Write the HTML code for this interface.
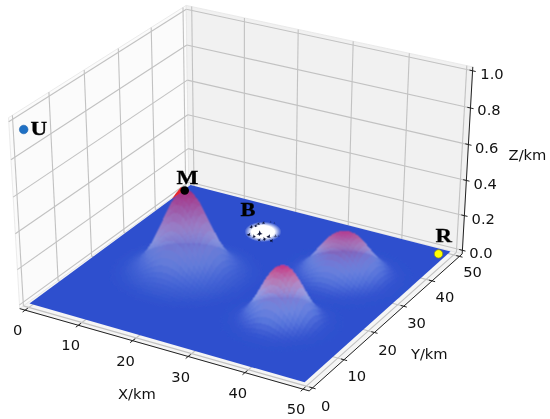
<!DOCTYPE html>
<html><head><meta charset="utf-8"><title>3D terrain</title>
<style>html,body{margin:0;padding:0;background:#fff}svg{display:block}</style></head>
<body>
<svg width="550" height="419" viewBox="0 0 550 419">
<rect width="550" height="419" fill="#fff"/>
<defs><filter id="sm" x="0" y="0" width="550" height="419" filterUnits="userSpaceOnUse"><feConvolveMatrix order="3" kernelMatrix="1 2 1 2 4 2 1 2 1" divisor="16" edgeMode="none" preserveAlpha="false"/></filter></defs>
<polygon points="19.7,308.6 188.8,185.5 186.2,5.4 8.5,117.7" fill="#fbfbfb" stroke="#e6e6e6" stroke-width="0.8"/>
<polygon points="188.8,185.5 462.2,253.9 472.8,66.9 186.2,5.4" fill="#f1f1f1" stroke="#e6e6e6" stroke-width="0.8"/>
<polygon points="19.7,308.6 309.2,390.9 462.2,253.9 188.8,185.5" fill="#f5f5f5" stroke="#e6e6e6" stroke-width="0.8"/>
<g stroke="#c2c2c2" stroke-width="1.1" fill="none"><line x1="25.2" y1="310.1" x2="194" y2="186.8" /><line x1="194" y1="186.8" x2="191.7" y2="6.6" /><line x1="23.4" y1="305.9" x2="312.5" y2="387.9" /><line x1="23.4" y1="305.9" x2="12.4" y2="115.2" /><line x1="78.3" y1="325.2" x2="244.3" y2="199.4" /><line x1="244.3" y1="199.4" x2="244.4" y2="17.9" /><line x1="58.1" y1="280.7" x2="344" y2="359.7" /><line x1="58.1" y1="280.7" x2="48.9" y2="92.1" /><line x1="132.6" y1="340.7" x2="295.7" y2="212.2" /><line x1="295.7" y1="212.2" x2="298.2" y2="29.4" /><line x1="91.6" y1="256.3" x2="374.4" y2="332.5" /><line x1="91.6" y1="256.3" x2="84.2" y2="69.9" /><line x1="188.2" y1="356.5" x2="348.2" y2="225.4" /><line x1="348.2" y1="225.4" x2="353.2" y2="41.2" /><line x1="124" y1="232.7" x2="403.7" y2="306.3" /><line x1="124" y1="232.7" x2="118.3" y2="48.4" /><line x1="245" y1="372.6" x2="401.8" y2="238.8" /><line x1="401.8" y1="238.8" x2="409.3" y2="53.3" /><line x1="155.3" y1="209.8" x2="432" y2="280.9" /><line x1="155.3" y1="209.8" x2="151.2" y2="27.6" /><line x1="303" y1="389.2" x2="456.4" y2="252.4" /><line x1="456.4" y1="252.4" x2="466.8" y2="65.6" /><line x1="185.7" y1="187.7" x2="459.4" y2="256.4" /><line x1="185.7" y1="187.7" x2="183" y2="7.5" /><line x1="19.5" y1="304.9" x2="188.7" y2="182" /><line x1="188.7" y1="182" x2="462.4" y2="250.3" /><line x1="17.4" y1="269.6" x2="188.2" y2="148.6" /><line x1="188.2" y1="148.6" x2="464.4" y2="215.7" /><line x1="15.3" y1="233.7" x2="187.8" y2="114.7" /><line x1="187.8" y1="114.7" x2="466.4" y2="180.5" /><line x1="13.1" y1="197.1" x2="187.3" y2="80.1" /><line x1="187.3" y1="80.1" x2="468.4" y2="144.6" /><line x1="10.9" y1="159.7" x2="186.8" y2="45" /><line x1="186.8" y1="45" x2="470.5" y2="108" /><line x1="8.7" y1="121.7" x2="186.3" y2="9.2" /><line x1="186.3" y1="9.2" x2="472.6" y2="70.8" /></g>
<polygon points="29.5,303.5 304.6,382.3 450.5,251.5 190.5,185" fill="rgb(46,79,206)"/>
<g filter="url(#sm)"><g transform="scale(.1)" shape-rendering="crispEdges" fill-opacity="0.47"><path d="M1906 2388l31 7l19-12l-31-7" fill="#3152cf"/><path d="M1775 2392l31 6l19-11l-31-7" fill="#3152cf"/><path d="M1856 2393l31 7l19-12l-31-7" fill="#3152cf"/><path d="M1725 2398l31 6l19-12l-31-7" fill="#3152cf"/><path d="M1937 2395l32 7l18-11l-31-8" fill="#3152cf"/><path d="M1806 2398l32 6l18-11l-31-6" fill="#3253cf"/><path d="M2018 2398l32 7l18-11l-31-8" fill="#3152cf"/><path d="M1675 2404l31 5l19-11l-31-7" fill="#3152cf"/><path d="M1887 2400l32 6l18-11l-31-7" fill="#3253cf"/><path d="M1756 2404l32 5l18-11l-31-6" fill="#3253cf"/><path d="M1625 2410l31 5l19-11l-31-7" fill="#3152cf"/><path d="M1969 2402l31 6l18-10l-31-7" fill="#3253cf"/><path d="M1838 2404l31 5l18-9l-31-7" fill="#3354cf"/><path d="M2050 2405l31 7l19-11l-32-7" fill="#3152cf"/><path d="M1706 2409l32 5l18-10l-31-6" fill="#3254cf"/><path d="M1575 2416l31 6l19-12l-31-7" fill="#3152cf"/><path d="M1919 2406l31 6l19-10l-32-7" fill="#3354cf"/><path d="M1788 2409l31 5l19-10l-32-6" fill="#3455cf"/><path d="M1656 2415l32 5l18-11l-31-5" fill="#3354cf"/><path d="M2000 2408l31 7l19-10l-32-7" fill="#3254cf"/><path d="M1525 2423l31 6l19-13l-31-6" fill="#3152cf"/><path d="M2081 2412l32 8l18-11l-31-8" fill="#3253cf"/><path d="M1869 2409l31 6l19-9l-32-6" fill="#3455d0"/><path d="M1738 2414l31 4l19-9l-32-5" fill="#3455d0"/><path d="M1606 2422l31 4l19-11l-31-5" fill="#3254cf"/><path d="M1950 2412l31 5l19-9l-31-6" fill="#3455cf"/><path d="M1819 2414l31 4l19-9l-31-5" fill="#3557d0"/><path d="M2031 2415l32 7l18-10l-31-7" fill="#3354cf"/><path d="M1688 2420l31 4l19-10l-32-5" fill="#3456d0"/><path d="M1556 2429l31 4l19-11l-31-6" fill="#3253cf"/><path d="M2113 2420l31 7l18-10l-31-8" fill="#3253cf"/><path d="M1900 2415l31 4l19-7l-31-6" fill="#3557d0"/><path d="M1769 2418l31 4l19-8l-31-5" fill="#3657d0"/><path d="M1506 2436l31 5l19-12l-31-6" fill="#3153cf"/><path d="M1637 2426l32 4l19-10l-32-5" fill="#3456d0"/><path d="M1981 2417l32 6l18-8l-31-7" fill="#3556d0"/><path d="M2063 2422l31 7l19-9l-32-8" fill="#3455cf"/><path d="M1850 2418l31 4l19-7l-31-6" fill="#3758d0"/><path d="M1456 2443l31 5l19-12l-31-6" fill="#3152cf"/><path d="M1587 2433l31 4l19-11l-31-4" fill="#3455cf"/><path d="M1719 2424l31 2l19-8l-31-4" fill="#3758d0"/><path d="M2144 2427l31 8l19-10l-32-8" fill="#3253cf"/><path d="M1931 2419l31 5l19-7l-31-5" fill="#3758d0"/><path d="M1537 2441l31 4l19-12l-31-4" fill="#3354cf"/><path d="M1800 2422l31 2l19-6l-31-4" fill="#385ad1"/><path d="M2013 2423l31 6l19-7l-32-7" fill="#3657d0"/><path d="M1669 2430l31 2l19-8l-31-4" fill="#3758d0"/><path d="M2094 2429l31 7l19-9l-31-7" fill="#3455d0"/><path d="M1881 2422l31 3l19-6l-31-4" fill="#395bd1"/><path d="M2175 2435l32 8l18-10l-31-8" fill="#3253cf"/><path d="M1487 2448l31 5l19-12l-31-5" fill="#3254cf"/><path d="M1618 2437l31 2l20-9l-32-4" fill="#3658d0"/><path d="M1750 2426l31 2l19-6l-31-4" fill="#395bd1"/><path d="M1962 2424l32 5l19-6l-32-6" fill="#385ad1"/><path d="M1437 2456l31 5l19-13l-31-5" fill="#3253cf"/><path d="M2044 2429l31 7l19-7l-31-7" fill="#3758d0"/><path d="M1568 2445l31 2l19-10l-31-4" fill="#3657d0"/><path d="M1831 2424l31 2l19-4l-31-4" fill="#3b5dd1"/><path d="M2125 2436l32 8l18-9l-31-8" fill="#3456d0"/><path d="M1700 2432l31 1l19-7l-31-2" fill="#3a5bd1"/><path d="M2207 2443l32 8l18-10l-32-8" fill="#3253cf"/><path d="M1387 2464l31 5l19-13l-31-6" fill="#3152cf"/><path d="M1912 2425l32 3l18-4l-31-5" fill="#3b5dd1"/><path d="M1518 2453l31 2l19-10l-31-4" fill="#3556d0"/><path d="M1649 2439l32 0l19-7l-31-2" fill="#3a5bd1"/><path d="M1994 2429l31 5l19-5l-31-6" fill="#3a5cd1"/><path d="M1781 2428l31 0l19-4l-31-2" fill="#3d5ed2"/><path d="M2075 2436l32 6l18-6l-31-7" fill="#3859d0"/><path d="M1468 2461l31 3l19-11l-31-5" fill="#3355cf"/><path d="M2157 2444l31 7l19-8l-32-8" fill="#3556d0"/><path d="M1599 2447l31 0l19-8l-31-2" fill="#395ad1"/><path d="M1862 2426l31 1l19-2l-31-3" fill="#3e60d2"/><path d="M2239 2451l31 9l18-11l-31-8" fill="#3253cf"/><path d="M1731 2433l31-1l19-4l-31-2" fill="#3d5fd2"/><path d="M1418 2469l31 4l19-12l-31-5" fill="#3254cf"/><path d="M1944 2428l31 3l19-2l-32-5" fill="#3d5fd2"/><path d="M1549 2455l31 1l19-9l-31-2" fill="#3859d0"/><path d="M2025 2434l32 5l18-3l-31-7" fill="#3b5dd1"/><path d="M2107 2442l31 7l19-5l-32-8" fill="#385ad1"/><path d="M1681 2439l31-1l19-5l-31-1" fill="#3e5fd2"/><path d="M1367 2477l31 5l20-13l-31-5" fill="#3152cf"/><path d="M1812 2428l31-1l19-1l-31-2" fill="#4062d3"/><path d="M2188 2451l32 9l19-9l-32-8" fill="#3556d0"/><path d="M1499 2464l31 2l19-11l-31-2" fill="#3658d0"/><path d="M2270 2460l32 9l18-11l-32-9" fill="#3253cf"/><path d="M1893 2427l32 1l19 0l-32-3" fill="#4163d3"/><path d="M1630 2447l31-2l20-6l-32 0" fill="#3d5fd2"/><path d="M1449 2473l31 3l19-12l-31-3" fill="#3556d0"/><path d="M1762 2432l31-3l19-1l-31 0" fill="#4264d3"/><path d="M1975 2431l31 4l19-1l-31-5" fill="#4062d2"/><path d="M2057 2439l31 6l19-3l-32-6" fill="#3c5ed2"/><path d="M2138 2449l32 8l18-6l-31-7" fill="#385ad1"/><path d="M1580 2456l31-2l19-7l-31 0" fill="#3c5dd1"/><path d="M2220 2460l32 9l18-9l-31-9" fill="#3556d0"/><path d="M1398 2482l31 4l20-13l-31-4" fill="#3354cf"/><path d="M2302 2469l31 9l19-11l-32-9" fill="#3253cf"/><path d="M1843 2427l31-1l19 1l-31-1" fill="#4466d4"/><path d="M1712 2438l31-4l19-2l-31 1" fill="#4364d3"/><path d="M1530 2466l31-1l19-9l-31-1" fill="#3a5cd1"/><path d="M1348 2491l31 4l19-13l-31-5" fill="#3253cf"/><path d="M1925 2428l31 1l19 2l-31-3" fill="#4466d4"/><path d="M2006 2435l32 4l19 0l-32-5" fill="#4264d3"/><path d="M1480 2476l31 0l19-10l-31-2" fill="#3859d0"/><path d="M2088 2445l32 7l18-3l-31-7" fill="#3d5fd2"/><path d="M1661 2445l31-5l20-2l-31 1" fill="#4264d3"/><path d="M2170 2457l32 9l18-6l-32-9" fill="#385ad1"/><path d="M2252 2469l31 9l19-9l-32-9" fill="#3456d0"/><path d="M1793 2429l31-3l19 1l-31 1" fill="#4768d5"/><path d="M1298 2499l31 5l19-13l-31-6" fill="#3152cf"/><path d="M2333 2478l32 9l18-12l-31-8" fill="#3153cf"/><path d="M1429 2486l31 1l20-11l-31-3" fill="#3657d0"/><path d="M1611 2454l31-4l19-5l-31 2" fill="#4163d3"/><path d="M1874 2426l32-2l19 4l-32-1" fill="#4869d5"/><path d="M1379 2495l31 3l19-12l-31-4" fill="#3455cf"/><path d="M1743 2434l31-6l19 1l-31 3" fill="#4869d5"/><path d="M1561 2465l31-4l19-7l-31 2" fill="#3f61d2"/><path d="M2202 2466l31 9l19-6l-32-9" fill="#385ad1"/><path d="M1956 2429l32 2l18 4l-31-4" fill="#4768d5"/><path d="M2120 2452l31 7l19-2l-32-8" fill="#3e5fd2"/><path d="M2283 2478l32 9l18-9l-31-9" fill="#3455cf"/><path d="M2038 2439l31 4l19 2l-31-6" fill="#4365d3"/><path d="M2365 2487l32 9l18-12l-32-9" fill="#3152cf"/><path d="M1329 2504l31 5l19-14l-31-4" fill="#3253cf"/><path d="M1511 2476l31-3l19-8l-31 1" fill="#3d5ed2"/><path d="M1692 2440l31-7l20 1l-31 4" fill="#4869d5"/><path d="M1824 2426l31-5l19 5l-31 1" fill="#4c6cd6"/><path d="M1460 2487l31-1l20-10l-31 0" fill="#3a5bd1"/><path d="M1278 2513l31 5l20-14l-31-5" fill="#3152cf"/><path d="M2233 2475l32 9l18-6l-31-9" fill="#3859d0"/><path d="M2315 2487l32 10l18-10l-32-9" fill="#3355cf"/><path d="M1642 2450l31-9l19-1l-31 5" fill="#4768d5"/><path d="M2151 2459l32 9l19-2l-32-9" fill="#3e60d2"/><path d="M1906 2424l31-2l19 7l-31-1" fill="#4c6cd6"/><path d="M1410 2498l31 1l19-12l-31-1" fill="#3759d0"/><path d="M2069 2443l32 6l19 3l-32-7" fill="#4466d4"/><path d="M2397 2496l32 9l18-12l-32-9" fill="#3152cf"/><path d="M1988 2431l31 2l19 6l-32-4" fill="#496ad5"/><path d="M1774 2428l31-8l19 6l-31 3" fill="#4e6ed7"/><path d="M1592 2461l31-8l19-3l-31 4" fill="#4567d4"/><path d="M1360 2509l31 2l19-13l-31-3" fill="#3556d0"/><path d="M1542 2473l31-6l19-6l-31 4" fill="#4365d3"/><path d="M2265 2484l32 10l18-7l-32-9" fill="#3759d0"/><path d="M1309 2518l31 4l20-13l-31-5" fill="#3354cf"/><path d="M2347 2497l32 9l18-10l-32-9" fill="#3354cf"/><path d="M2183 2468l32 9l18-2l-31-9" fill="#3e5fd2"/><path d="M1855 2421l32-6l19 9l-32 2" fill="#5171d8"/><path d="M1491 2486l31-5l20-8l-31 3" fill="#3f61d2"/><path d="M1723 2433l31-10l20 5l-31 6" fill="#4f6fd7"/><path d="M2101 2449l32 8l18 2l-31-7" fill="#4566d4"/><path d="M1259 2527l31 5l19-14l-31-5" fill="#3152cf"/><path d="M2019 2433l32 3l18 7l-31-4" fill="#4c6cd6"/><path d="M1937 2422l32-1l19 10l-32-2" fill="#5070d8"/><path d="M1441 2499l31-3l19-10l-31 1" fill="#3c5dd1"/><path d="M1673 2441l31-11l19 3l-31 7" fill="#4f6fd7"/><path d="M1391 2511l31 0l19-12l-31-1" fill="#385ad1"/><path d="M2297 2494l31 10l19-7l-32-10" fill="#3658d0"/><path d="M2379 2506l31 10l19-11l-32-9" fill="#3253cf"/><path d="M2215 2477l31 10l19-3l-32-9" fill="#3d5fd2"/><path d="M1805 2420l31-9l19 10l-31 5" fill="#5574d9"/><path d="M1623 2453l31-12l19 0l-31 9" fill="#4d6dd7"/><path d="M1340 2522l31 2l20-13l-31-2" fill="#3557d0"/><path d="M2133 2457l31 8l19 3l-32-9" fill="#4566d4"/><path d="M1573 2467l30-11l20-3l-31 8" fill="#4a6bd6"/><path d="M1290 2532l31 4l19-14l-31-4" fill="#3354cf"/><path d="M2051 2436l31 5l19 8l-32-6" fill="#4d6dd7"/><path d="M1887 2415l31-6l19 13l-31 2" fill="#5775da"/><path d="M1522 2481l31-9l20-5l-31 6" fill="#4667d4"/><path d="M1969 2421l31 0l19 12l-31-2" fill="#5473d9"/><path d="M2328 2504l32 11l19-9l-32-9" fill="#3557d0"/><path d="M1754 2423l32-13l19 10l-31 8" fill="#5876da"/><path d="M2410 2516l32 10l19-12l-32-9" fill="#3253cf"/><path d="M2246 2487l32 11l19-4l-32-10" fill="#3c5ed1"/><path d="M1472 2496l31-6l19-9l-31 5" fill="#4264d3"/><path d="M1239 2541l32 5l19-14l-31-5" fill="#3152cf"/><path d="M1422 2511l31-4l19-11l-31 3" fill="#3d5fd2"/><path d="M2164 2465l32 10l19 2l-32-9" fill="#4566d4"/><path d="M1371 2524l31-1l20-12l-31 0" fill="#395bd1"/><path d="M1704 2430l31-15l19 8l-31 10" fill="#5876da"/><path d="M2082 2441l32 7l19 9l-32-8" fill="#4e6ed7"/><path d="M2360 2515l32 11l18-10l-31-10" fill="#3456d0"/><path d="M1836 2411l31-11l20 15l-32 6" fill="#5d7adc"/><path d="M1321 2536l31 1l19-13l-31-2" fill="#3657d0"/><path d="M2278 2498l32 12l18-6l-31-10" fill="#3b5cd1"/><path d="M2442 2526l32 10l18-12l-31-10" fill="#3152cf"/><path d="M1654 2441l31-16l19 5l-31 11" fill="#5675da"/><path d="M2000 2421l32 1l19 14l-32-3" fill="#5775da"/><path d="M1918 2409l31-4l20 16l-32 1" fill="#5c7adc"/><path d="M2196 2475l32 11l18 1l-31-10" fill="#4465d4"/><path d="M1271 2546l31 4l19-14l-31-4" fill="#3354cf"/><path d="M1603 2456l31-16l20 1l-31 12" fill="#5372d9"/><path d="M1553 2472l31-14l19-2l-30 11" fill="#4f6ed7"/><path d="M1503 2490l31-12l19-6l-31 9" fill="#496ad5"/><path d="M2392 2526l32 10l18-10l-32-10" fill="#3355cf"/><path d="M1220 2555l31 6l20-15l-32-5" fill="#3152cf"/><path d="M1786 2410l31-14l19 15l-31 9" fill="#617ddd"/><path d="M2114 2448l32 9l18 8l-31-8" fill="#4e6ed7"/><path d="M2310 2510l32 11l18-6l-32-11" fill="#395bd1"/><path d="M1453 2507l31-8l19-9l-31 6" fill="#4466d4"/><path d="M1402 2523l31-5l20-11l-31 4" fill="#3f61d2"/><path d="M2228 2486l32 12l18 0l-32-11" fill="#4264d3"/><path d="M1352 2537l31-1l19-13l-31 1" fill="#3a5cd1"/><path d="M2032 2422l31 4l19 15l-31-5" fill="#5977db"/><path d="M1867 2400l32-10l19 19l-31 6" fill="#6480de"/><path d="M1735 2415l31-18l20 13l-32 13" fill="#627fde"/><path d="M1302 2550l31 1l19-14l-31-1" fill="#3658d0"/><path d="M1949 2405l32-3l19 19l-31 0" fill="#617edd"/><path d="M2424 2536l32 11l18-11l-32-10" fill="#3354cf"/><path d="M2342 2521l32 12l18-7l-32-11" fill="#3859d0"/><path d="M2146 2457l31 10l19 8l-32-10" fill="#4e6ed7"/><path d="M1251 2561l31 3l20-14l-31-4" fill="#3355cf"/><path d="M2260 2498l31 13l19-1l-32-12" fill="#4163d3"/><path d="M1685 2425l31-20l19 10l-31 15" fill="#627ede"/><path d="M1200 2570l31 5l20-14l-31-6" fill="#3152cf"/><path d="M1634 2440l31-21l20 6l-31 16" fill="#5f7bdd"/><path d="M2063 2426l32 6l19 16l-32-7" fill="#5b78db"/><path d="M2374 2533l32 12l18-9l-32-10" fill="#3658d0"/><path d="M1584 2458l31-20l19 2l-31 16" fill="#5a77db"/><path d="M2456 2547l32 10l18-12l-32-9" fill="#3253cf"/><path d="M1534 2478l31-17l19-3l-31 14" fill="#5372d9"/><path d="M1817 2396l31-16l19 20l-31 11" fill="#6a85e0"/><path d="M1484 2499l30-14l20-7l-31 12" fill="#4d6dd7"/><path d="M2177 2467l32 13l19 6l-32-11" fill="#4d6dd7"/><path d="M1433 2518l31-9l20-10l-31 8" fill="#4667d4"/><path d="M1383 2536l31-6l19-12l-31 5" fill="#4062d2"/><path d="M2291 2511l32 13l19-3l-32-11" fill="#3f60d2"/><path d="M1333 2551l31-1l19-14l-31 1" fill="#3a5cd1"/><path d="M1981 2402l31-1l20 21l-32-1" fill="#6581df"/><path d="M1899 2390l31-8l19 23l-31 4" fill="#6b86e0"/><path d="M1282 2564l31 2l20-15l-31-1" fill="#3658d0"/><path d="M2406 2545l32 12l18-10l-32-11" fill="#3556d0"/><path d="M2209 2480l32 13l19 5l-32-12" fill="#4b6bd6"/><path d="M2095 2432l32 9l19 16l-32-9" fill="#5b78db"/><path d="M1231 2575l32 4l19-15l-31-3" fill="#3354cf"/><path d="M2488 2557l32 10l18-12l-32-10" fill="#3152cf"/><path d="M1766 2397l31-20l20 19l-31 14" fill="#6e88e1"/><path d="M2323 2524l32 14l19-5l-32-12" fill="#3c5ed2"/><path d="M1181 2585l31 5l19-15l-31-5" fill="#3152cf"/><path d="M1716 2405l31-24l19 16l-31 18" fill="#6f88e1"/><path d="M2241 2493l32 15l18 3l-31-13" fill="#4869d5"/><path d="M2012 2401l32 2l19 23l-31-4" fill="#6984e0"/><path d="M2438 2557l31 11l19-11l-32-10" fill="#3455cf"/><path d="M1414 2530l31-10l19-11l-31 9" fill="#4869d5"/><path d="M1364 2550l30-6l20-14l-31 6" fill="#4163d3"/><path d="M2127 2441l31 12l19 14l-31-10" fill="#5a78db"/><path d="M1464 2509l31-16l19-8l-30 14" fill="#4f6fd7"/><path d="M1848 2380l31-15l20 25l-32 10" fill="#748de1"/><path d="M2355 2538l32 13l19-6l-32-12" fill="#3a5cd1"/><path d="M1313 2566l31-2l20-14l-31 1" fill="#3b5cd1"/><path d="M1665 2419l31-26l20 12l-31 20" fill="#6c87e0"/><path d="M1514 2485l31-20l20-4l-31 17" fill="#5876da"/><path d="M1930 2382l32-7l19 27l-32 3" fill="#728be1"/><path d="M1565 2461l30-24l20 1l-31 20" fill="#607ddd"/><path d="M1263 2579l31 2l19-15l-31-2" fill="#3658d0"/><path d="M1615 2438l31-25l19 6l-31 21" fill="#6782df"/><path d="M2273 2508l32 16l18 0l-32-13" fill="#4667d4"/><path d="M1212 2590l31 4l20-15l-32-4" fill="#3354cf"/><path d="M2158 2453l32 14l19 13l-32-13" fill="#5876da"/><path d="M2469 2568l32 11l19-12l-32-10" fill="#3254cf"/><path d="M2387 2551l32 13l19-7l-32-12" fill="#385ad1"/><path d="M2044 2403l32 5l19 24l-32-6" fill="#6a85e0"/><path d="M1161 2599l31 6l20-15l-31-5" fill="#3152cf"/><path d="M1797 2377l31-22l20 25l-31 16" fill="#7a92e2"/><path d="M2305 2524l32 15l18-1l-32-14" fill="#4365d3"/><path d="M1344 2564l31-6l19-14l-30 6" fill="#4163d3"/><path d="M2190 2467l32 15l19 11l-32-13" fill="#5674da"/><path d="M1394 2544l31-12l20-12l-31 10" fill="#4969d5"/><path d="M1294 2581l31-2l19-15l-31 2" fill="#3b5cd1"/><path d="M2419 2564l32 13l18-9l-31-11" fill="#3658d0"/><path d="M2501 2579l33 10l18-12l-32-10" fill="#3152cf"/><path d="M1962 2375l31-4l19 30l-31 1" fill="#7890e2"/><path d="M1445 2520l30-17l20-10l-31 16" fill="#5271d8"/><path d="M1879 2365l32-14l19 31l-31 8" fill="#7e94e2"/><path d="M1243 2594l31 2l20-15l-31-2" fill="#3657d0"/><path d="M1747 2381l31-27l19 23l-31 20" fill="#7d94e2"/><path d="M2076 2408l32 9l19 24l-32-9" fill="#6b85e0"/><path d="M2337 2539l32 16l18-4l-32-13" fill="#4061d2"/><path d="M1495 2493l31-22l19-6l-31 20" fill="#5c79dc"/><path d="M1192 2605l31 4l20-15l-31-4" fill="#3354cf"/><path d="M2222 2482l32 18l19 8l-32-15" fill="#5271d8"/><path d="M1545 2465l31-27l19-1l-30 24" fill="#6682df"/><path d="M1696 2393l31-30l20 18l-31 24" fill="#7c93e2"/><path d="M2451 2577l32 12l18-10l-32-11" fill="#3456d0"/><path d="M1595 2437l31-30l20 6l-31 25" fill="#7089e1"/><path d="M1142 2614l31 6l19-15l-31-6" fill="#3152cf"/><path d="M1646 2413l30-32l20 12l-31 26" fill="#778fe2"/><path d="M2369 2555l32 15l18-6l-32-13" fill="#3d5ed2"/><path d="M2108 2417l32 13l18 23l-31-12" fill="#6a85e0"/><path d="M2254 2500l32 18l19 6l-32-16" fill="#4e6ed7"/><path d="M1993 2371l32 0l19 32l-32-2" fill="#7c93e2"/><path d="M1325 2579l31-6l19-15l-31 6" fill="#4163d3"/><path d="M1274 2596l31-1l20-16l-31 2" fill="#3a5cd1"/><path d="M1375 2558l31-11l19-15l-31 12" fill="#496ad5"/><path d="M1828 2355l32-21l19 31l-31 15" fill="#879ce4"/><path d="M1223 2609l32 3l19-16l-31-2" fill="#3657d0"/><path d="M2483 2589l32 12l19-12l-33-10" fill="#3354cf"/><path d="M1425 2532l31-17l19-12l-30 17" fill="#5372d9"/><path d="M2286 2518l32 19l19 2l-32-15" fill="#4a6bd6"/><path d="M2401 2570l32 15l18-8l-32-13" fill="#3a5bd1"/><path d="M1911 2351l31-11l20 35l-32 7" fill="#869be4"/><path d="M2140 2430l31 16l19 21l-32-14" fill="#6783df"/><path d="M1173 2620l31 5l19-16l-31-4" fill="#3254cf"/><path d="M1475 2503l31-24l20-8l-31 22" fill="#5f7cdd"/><path d="M2318 2537l32 18l19 0l-32-16" fill="#4668d4"/><path d="M2025 2371l32 4l19 33l-32-5" fill="#7e95e3"/><path d="M1778 2354l31-28l19 29l-31 22" fill="#8ca0e4"/><path d="M2515 2601l32 11l19-13l-32-10" fill="#3253cf"/><path d="M2433 2585l32 13l18-9l-32-12" fill="#3759d0"/><path d="M2171 2446l32 19l19 17l-32-15" fill="#6480de"/><path d="M1526 2471l30-31l20-2l-31 27" fill="#6b86e0"/><path d="M1305 2595l31-5l20-17l-31 6" fill="#4062d3"/><path d="M1255 2612l31-1l19-16l-31 1" fill="#3a5bd1"/><path d="M1356 2573l30-11l20-15l-31 11" fill="#496ad5"/><path d="M2350 2555l32 18l19-3l-32-15" fill="#4264d3"/><path d="M1576 2438l30-35l20 4l-31 30" fill="#7890e2"/><path d="M1204 2625l31 3l20-16l-32-3" fill="#3556d0"/><path d="M2203 2465l32 20l19 15l-32-18" fill="#5f7cdd"/><path d="M1727 2363l31-34l20 25l-31 27" fill="#8da1e4"/><path d="M1406 2547l31-18l19-14l-31 17" fill="#5473d9"/><path d="M2465 2598l32 13l18-10l-32-12" fill="#3556d0"/><path d="M1942 2340l32-8l19 39l-31 4" fill="#8ea1e4"/><path d="M1626 2407l31-38l19 12l-30 32" fill="#8298e3"/><path d="M2547 2612l33 10l18-13l-32-10" fill="#3152cf"/><path d="M1860 2334l31-20l20 37l-32 14" fill="#93a6e5"/><path d="M1676 2381l31-37l20 19l-31 30" fill="#8a9ee4"/><path d="M1153 2636l31 5l20-16l-31-5" fill="#3253cf"/><path d="M2057 2375l31 10l20 32l-32-9" fill="#7f95e3"/><path d="M2235 2485l32 22l19 11l-32-18" fill="#5a78db"/><path d="M2382 2573l32 17l19-5l-32-15" fill="#3e60d2"/><path d="M1456 2515l31-26l19-10l-31 24" fill="#617ddd"/><path d="M2267 2507l33 22l18 8l-32-19" fill="#5473d9"/><path d="M2497 2611l32 12l18-11l-32-11" fill="#3355cf"/><path d="M1286 2611l31-4l19-17l-31 5" fill="#3f61d2"/><path d="M2088 2385l32 14l20 31l-32-13" fill="#7d94e2"/><path d="M1235 2628l31 0l20-17l-31 1" fill="#395ad1"/><path d="M2414 2590l32 16l19-8l-32-13" fill="#3b5dd1"/><path d="M1336 2590l31-10l19-18l-30 11" fill="#4869d5"/><path d="M1506 2479l31-33l19-6l-30 31" fill="#7089e1"/><path d="M1184 2641l31 3l20-16l-31-3" fill="#3456d0"/><path d="M2300 2529l32 23l18 3l-32-18" fill="#4f6ed7"/><path d="M1809 2326l31-29l20 37l-32 21" fill="#9bace6"/><path d="M1974 2332l31-2l20 41l-32 0" fill="#93a6e5"/><path d="M1386 2562l31-17l20-16l-31 18" fill="#5472d9"/><path d="M1133 2651l32 6l19-16l-31-5" fill="#3153cf"/><path d="M2120 2399l32 18l19 29l-31-16" fill="#7a92e2"/><path d="M2529 2623l32 12l19-13l-33-10" fill="#3253cf"/><path d="M2446 2606l33 14l18-9l-32-13" fill="#3859d0"/><path d="M2332 2552l32 21l18 0l-32-18" fill="#496ad5"/><path d="M1556 2440l31-38l19 1l-30 35" fill="#7f95e3"/><path d="M1891 2314l31-17l20 43l-31 11" fill="#9dace6"/><path d="M1437 2529l30-26l20-14l-31 26" fill="#627ede"/><path d="M2152 2417l33 22l18 26l-32-19" fill="#758ee1"/><path d="M1758 2329l31-36l20 33l-31 28" fill="#9eace5"/><path d="M2364 2573l32 20l18-3l-32-17" fill="#4466d4"/><path d="M1266 2628l31-3l20-18l-31 4" fill="#3e60d2"/><path d="M1606 2403l31-43l20 9l-31 38" fill="#8da0e4"/><path d="M1215 2644l31 1l20-17l-31 0" fill="#3859d0"/><path d="M2479 2620l32 14l18-11l-32-12" fill="#3557d0"/><path d="M1317 2607l31-9l19-18l-31 10" fill="#4768d5"/><path d="M2561 2635l32 10l19-13l-32-10" fill="#3152cf"/><path d="M2185 2439l32 25l18 21l-32-20" fill="#6f89e1"/><path d="M2005 2330l32 3l20 42l-32-4" fill="#96a8e5"/><path d="M1165 2657l31 4l19-17l-31-3" fill="#3355cf"/><path d="M1707 2344l31-41l20 26l-31 34" fill="#9dace5"/><path d="M1657 2369l30-43l20 18l-31 37" fill="#98a9e6"/><path d="M2396 2593l32 18l18-5l-32-16" fill="#4062d2"/><path d="M1487 2489l30-34l20-9l-31 33" fill="#728be1"/><path d="M1367 2580l31-17l19-18l-31 17" fill="#5271d8"/><path d="M2217 2464l32 26l18 17l-32-22" fill="#6883e0"/><path d="M1114 2666l31 6l20-15l-32-6" fill="#3152cf"/><path d="M2511 2634l32 12l18-11l-32-12" fill="#3355cf"/><path d="M2249 2490l32 27l19 12l-33-22" fill="#617ddd"/><path d="M2428 2611l32 17l19-8l-33-14" fill="#3c5dd1"/><path d="M1417 2545l31-25l19-17l-30 26" fill="#617edd"/><path d="M1840 2297l31-26l20 43l-31 20" fill="#a4ade4"/><path d="M2281 2517l32 27l19 8l-32-23" fill="#5977db"/><path d="M2037 2333l32 10l19 42l-31-10" fill="#97a9e6"/><path d="M1922 2297l32-11l20 46l-32 8" fill="#a2ade4"/><path d="M1246 2645l32-1l19-19l-31 3" fill="#3c5ed2"/><path d="M1537 2446l30-41l20-3l-31 38" fill="#849ae3"/><path d="M1297 2625l31-7l20-20l-31 9" fill="#4566d4"/><path d="M1196 2661l31 2l19-18l-31-1" fill="#3658d0"/><path d="M2313 2544l32 25l19 4l-32-21" fill="#5271d8"/><path d="M2543 2646l32 12l18-13l-32-10" fill="#3253cf"/><path d="M1145 2672l31 5l20-16l-31-4" fill="#3354cf"/><path d="M2460 2628l32 16l19-10l-32-14" fill="#385ad1"/><path d="M1348 2598l30-14l20-21l-31 17" fill="#5170d8"/><path d="M2345 2569l32 24l19 0l-32-20" fill="#4b6cd6"/><path d="M2069 2343l32 16l19 40l-32-14" fill="#95a7e5"/><path d="M1467 2503l31-34l19-14l-30 34" fill="#748ce1"/><path d="M1587 2402l30-47l20 5l-31 43" fill="#96a8e5"/><path d="M1789 2293l31-36l20 40l-31 29" fill="#a9ade2"/><path d="M2377 2593l32 22l19-4l-32-18" fill="#4567d4"/><path d="M2492 2644l33 13l18-11l-32-12" fill="#3557d0"/><path d="M1398 2563l30-23l20-20l-31 25" fill="#607ddd"/><path d="M2575 2658l32 11l19-14l-33-10" fill="#3152cf"/><path d="M2101 2359l32 21l19 37l-32-18" fill="#91a4e5"/><path d="M1227 2663l31 0l20-19l-32 1" fill="#3b5cd1"/><path d="M1954 2286l32-5l19 49l-31 2" fill="#a6ade3"/><path d="M1278 2644l31-6l19-20l-31 7" fill="#4365d3"/><path d="M1176 2677l31 3l20-17l-31-2" fill="#3557d0"/><path d="M1637 2360l30-49l20 15l-30 43" fill="#a1ade5"/><path d="M2409 2615l33 19l18-6l-32-17" fill="#4062d3"/><path d="M2133 2380l32 26l20 33l-33-22" fill="#8a9fe4"/><path d="M1738 2303l31-44l20 34l-31 36" fill="#aaade2"/><path d="M1328 2618l31-13l19-21l-30 14" fill="#4e6ed7"/><path d="M1125 2688l31 6l20-17l-31-5" fill="#3253cf"/><path d="M1517 2455l31-42l19-8l-30 41" fill="#889de4"/><path d="M1687 2326l31-48l20 25l-31 41" fill="#a7ade3"/><path d="M1871 2271l31-23l20 49l-31 17" fill="#acaee1"/><path d="M2525 2657l32 13l18-12l-32-12" fill="#3355cf"/><path d="M2165 2406l33 30l19 28l-32-25" fill="#8298e3"/><path d="M2198 2436l32 31l19 23l-32-26" fill="#7991e2"/><path d="M2442 2634l32 18l18-8l-32-16" fill="#3c5dd1"/><path d="M1448 2520l30-33l20-18l-31 34" fill="#738ce1"/><path d="M2230 2467l32 33l19 17l-32-27" fill="#6f89e1"/><path d="M2262 2500l32 32l19 12l-32-27" fill="#6681df"/><path d="M1378 2584l31-22l19-22l-30 23" fill="#5d7adc"/><path d="M2294 2532l32 30l19 7l-32-25" fill="#5c7adc"/><path d="M1986 2281l32 2l19 50l-32-3" fill="#a8ade2"/><path d="M1207 2680l31 1l20-18l-31 0" fill="#395ad1"/><path d="M1258 2663l31-4l20-21l-31 6" fill="#4062d3"/><path d="M2557 2670l32 12l18-13l-32-11" fill="#3253cf"/><path d="M2326 2562l33 28l18 3l-32-24" fill="#5472d9"/><path d="M2474 2652l32 16l19-11l-33-13" fill="#3859d0"/><path d="M1156 2694l32 4l19-18l-31-3" fill="#3455d0"/><path d="M1567 2405l30-50l20 0l-30 47" fill="#9cace6"/><path d="M1309 2638l31-10l19-23l-31 13" fill="#4b6bd6"/><path d="M2359 2590l32 26l18-1l-32-22" fill="#4c6cd6"/><path d="M1105 2704l32 6l19-16l-31-6" fill="#3152cf"/><path d="M1820 2257l31-33l20 47l-31 26" fill="#b3aee0"/><path d="M1498 2469l30-43l20-13l-31 42" fill="#8a9ee4"/><path d="M2391 2616l32 23l19-5l-33-19" fill="#4567d4"/><path d="M1428 2540l31-32l19-21l-30 33" fill="#718ae1"/><path d="M2506 2668l32 14l19-12l-32-13" fill="#3556d0"/><path d="M1359 2605l31-18l19-25l-31 22" fill="#5a77db"/><path d="M2018 2283l32 10l19 50l-32-10" fill="#a9ade2"/><path d="M1902 2248l32-16l20 54l-32 11" fill="#b3aee0"/><path d="M1617 2355l31-54l19 10l-30 49" fill="#a7ade3"/><path d="M2423 2639l32 20l19-7l-32-18" fill="#4062d2"/><path d="M1238 2681l32-1l19-21l-31 4" fill="#3e60d2"/><path d="M1188 2698l31 2l19-19l-31-1" fill="#3758d0"/><path d="M1289 2659l31-8l20-23l-31 10" fill="#4869d5"/><path d="M1137 2710l31 5l20-17l-32-4" fill="#3354cf"/><path d="M2538 2682l33 12l18-12l-32-12" fill="#3354cf"/><path d="M2050 2293l32 18l19 48l-32-16" fill="#a8ade3"/><path d="M1769 2259l31-43l20 41l-31 36" fill="#b7afdf"/><path d="M2455 2659l33 18l18-9l-32-16" fill="#3b5dd1"/><path d="M1667 2311l31-55l20 22l-31 48" fill="#b0aee0"/><path d="M1085 2720l32 6l20-16l-32-6" fill="#3152cf"/><path d="M1409 2562l31-29l19-25l-31 32" fill="#6d88e1"/><path d="M1340 2628l30-16l20-25l-31 18" fill="#5674da"/><path d="M1548 2413l30-52l19-6l-30 50" fill="#9face5"/><path d="M1718 2278l31-51l20 32l-31 44" fill="#b5afdf"/><path d="M1478 2487l31-43l19-18l-30 43" fill="#899ee4"/><path d="M2082 2311l32 25l19 44l-32-21" fill="#a4ade3"/><path d="M2275 2515l33 37l18 10l-32-30" fill="#6883e0"/><path d="M2308 2552l32 33l19 5l-33-28" fill="#5d7adc"/><path d="M2243 2477l32 38l19 17l-32-32" fill="#748de1"/><path d="M2571 2694l32 12l18-14l-32-10" fill="#3152cf"/><path d="M2114 2336l32 30l19 40l-32-26" fill="#a0ace5"/><path d="M2211 2439l32 38l19 23l-32-33" fill="#8197e3"/><path d="M2488 2677l32 16l18-11l-32-14" fill="#3759d0"/><path d="M2340 2585l32 30l19 1l-32-26" fill="#5472d9"/><path d="M2179 2401l32 38l19 28l-32-31" fill="#8da1e4"/><path d="M2146 2366l33 35l19 35l-33-30" fill="#99aae6"/><path d="M1219 2700l31 0l20-20l-32 1" fill="#3b5dd1"/><path d="M1934 2232l32-8l20 57l-32 5" fill="#b8afde"/><path d="M1168 2715l31 4l20-19l-31-2" fill="#3557d0"/><path d="M1270 2680l31-5l19-24l-31 8" fill="#4466d4"/><path d="M2372 2615l33 27l18-3l-32-23" fill="#4b6cd6"/><path d="M1117 2726l31 6l20-17l-31-5" fill="#3253cf"/><path d="M1851 2224l31-29l20 53l-31 23" fill="#baabdb"/><path d="M1390 2587l31-26l19-28l-31 29" fill="#6984e0"/><path d="M2405 2642l32 23l18-6l-32-20" fill="#4466d4"/><path d="M1320 2651l31-12l19-27l-30 16" fill="#5170d8"/><path d="M2520 2693l32 13l19-12l-33-12" fill="#3456d0"/><path d="M1459 2508l30-40l20-24l-31 43" fill="#869be4"/><path d="M1597 2355l31-58l20 4l-31 54" fill="#acaee1"/><path d="M2437 2665l32 21l19-9l-33-18" fill="#3e60d2"/><path d="M1528 2426l30-53l20-12l-30 52" fill="#a0ace5"/><path d="M1199 2719l32 2l19-21l-31 0" fill="#395ad1"/><path d="M1250 2700l31-2l20-23l-31 5" fill="#4163d3"/><path d="M2552 2706l33 13l18-13l-32-12" fill="#3254cf"/><path d="M1966 2224l32 1l20 58l-32-2" fill="#b9addd"/><path d="M1148 2732l31 5l20-18l-31-4" fill="#3455cf"/><path d="M1370 2612l31-21l20-30l-31 26" fill="#637fde"/><path d="M2469 2686l33 17l18-10l-32-16" fill="#3a5bd1"/><path d="M1301 2675l31-9l19-27l-31 12" fill="#4c6cd6"/><path d="M1800 2216l31-41l20 49l-31 33" fill="#bba5d6"/><path d="M1097 2742l31 7l20-17l-31-6" fill="#3152cf"/><path d="M1440 2533l30-36l19-29l-30 40" fill="#8198e3"/><path d="M1648 2301l30-60l20 15l-31 55" fill="#b8afde"/><path d="M2321 2578l33 35l18 2l-32-30" fill="#5c7adc"/><path d="M2289 2538l32 40l19 7l-32-33" fill="#6883e0"/><path d="M2354 2613l32 31l19-2l-33-27" fill="#5271d8"/><path d="M2585 2719l32 11l18-14l-32-10" fill="#3152cf"/><path d="M2502 2703l32 15l18-12l-32-13" fill="#3658d0"/><path d="M2257 2496l32 42l19 14l-33-37" fill="#768ee2"/><path d="M2386 2644l32 27l19-6l-32-23" fill="#496ad5"/><path d="M1998 2225l32 10l20 58l-32-10" fill="#b9addc"/><path d="M1882 2195l32-21l20 58l-32 16" fill="#bba3d5"/><path d="M1351 2639l31-18l19-30l-31 21" fill="#5d7adc"/><path d="M1749 2227l31-51l20 40l-31 43" fill="#bba4d6"/><path d="M1231 2721l31-1l19-22l-31 2" fill="#3d5fd2"/><path d="M1698 2256l31-57l20 28l-31 51" fill="#baa8d8"/><path d="M1509 2444l30-51l19-20l-30 53" fill="#a0ace5"/><path d="M1179 2737l32 3l20-19l-32-2" fill="#3758d0"/><path d="M2224 2451l33 45l18 19l-32-38" fill="#859ae3"/><path d="M2418 2671l33 23l18-8l-32-21" fill="#4264d3"/><path d="M1281 2698l31-6l20-26l-31 9" fill="#4769d5"/><path d="M1578 2361l30-60l20-4l-31 58" fill="#b0aee0"/><path d="M1128 2749l32 6l19-18l-31-5" fill="#3354cf"/><path d="M1421 2561l30-33l19-31l-30 36" fill="#7b92e2"/><path d="M2192 2405l32 46l19 26l-32-38" fill="#95a7e5"/><path d="M2534 2718l32 14l19-13l-33-13" fill="#3455cf"/><path d="M2030 2235l32 20l20 56l-32-18" fill="#b9aedd"/><path d="M2451 2694l32 19l19-10l-33-17" fill="#3d5ed2"/><path d="M2159 2361l33 44l19 34l-32-38" fill="#a0ade5"/><path d="M1332 2666l31-14l19-31l-31 18" fill="#5675da"/><path d="M2062 2255l33 29l19 52l-32-25" fill="#b6afdf"/><path d="M2127 2320l32 41l20 40l-33-35" fill="#a9ade2"/><path d="M2095 2284l32 36l19 46l-32-30" fill="#b0aee0"/><path d="M2566 2732l33 12l18-14l-32-11" fill="#3253cf"/><path d="M1401 2591l31-28l19-35l-30 33" fill="#738ce1"/><path d="M1489 2468l31-48l19-27l-30 51" fill="#9dace5"/><path d="M1211 2740l31 2l20-22l-31 1" fill="#3a5cd1"/><path d="M2483 2713l32 17l19-12l-32-15" fill="#385ad1"/><path d="M1262 2720l31-3l19-25l-31 6" fill="#4365d3"/><path d="M1160 2755l31 4l20-19l-32-3" fill="#3556d0"/><path d="M2335 2609l32 36l19-1l-32-31" fill="#5977db"/><path d="M1914 2174l32-12l20 62l-32 8" fill="#bc9dd0"/><path d="M1108 2765l32 7l20-17l-32-6" fill="#3153cf"/><path d="M1628 2297l30-64l20 8l-30 60" fill="#baaada"/><path d="M2367 2645l33 30l18-4l-32-27" fill="#4f6ed7"/><path d="M2303 2569l32 40l19 4l-33-35" fill="#6681df"/><path d="M1831 2175l31-35l20 55l-31 29" fill="#bc99ce"/><path d="M1312 2692l32-10l19-30l-31 14" fill="#506fd8"/><path d="M1558 2373l31-60l19-12l-30 60" fill="#b1aee0"/><path d="M2515 2730l33 14l18-12l-32-14" fill="#3556d0"/><path d="M2400 2675l32 26l19-7l-33-23" fill="#4668d4"/><path d="M1382 2621l31-23l19-35l-31 28" fill="#6b86e0"/><path d="M2270 2523l33 46l18 9l-32-40" fill="#748de1"/><path d="M1470 2497l31-45l19-32l-31 48" fill="#99abe6"/><path d="M2432 2701l32 22l19-10l-32-19" fill="#4061d2"/><path d="M2238 2474l32 49l19 15l-32-42" fill="#859ae3"/><path d="M1242 2742l32-1l19-24l-31 3" fill="#3f61d2"/><path d="M1191 2759l32 3l19-20l-31-2" fill="#3759d0"/><path d="M2548 2744l32 13l19-13l-33-12" fill="#3354cf"/><path d="M1140 2772l31 5l20-18l-31-4" fill="#3354cf"/><path d="M1363 2652l31-18l19-36l-31 23" fill="#637fde"/><path d="M1678 2241l31-64l20 22l-31 57" fill="#bc9ed1"/><path d="M1293 2717l31-6l20-29l-32 10" fill="#4a6bd6"/><path d="M1780 2176l31-48l20 47l-31 41" fill="#bd95cb"/><path d="M2464 2723l33 18l18-11l-32-17" fill="#3a5cd1"/><path d="M2205 2422l33 52l19 22l-33-45" fill="#97a9e6"/><path d="M1451 2528l31-40l19-36l-31 45" fill="#91a4e5"/><path d="M1946 2162l32 0l20 63l-32-1" fill="#bc99ce"/><path d="M1089 2781l31 7l20-16l-32-7" fill="#3152cf"/><path d="M1729 2199l30-58l21 35l-31 51" fill="#bd97cc"/><path d="M1539 2393l30-59l20-21l-31 60" fill="#b1aee0"/><path d="M2580 2757l33 11l18-14l-32-10" fill="#3152cf"/><path d="M2497 2741l32 16l19-13l-33-14" fill="#3658d0"/><path d="M2173 2369l32 53l19 29l-32-46" fill="#a4ade4"/><path d="M1344 2682l31-13l19-35l-31 18" fill="#5a78db"/><path d="M2349 2646l32 34l19-5l-33-30" fill="#5473d9"/><path d="M1223 2762l31 2l20-23l-32 1" fill="#3b5dd1"/><path d="M1432 2563l31-35l19-40l-31 40" fill="#879ce4"/><path d="M2316 2606l33 40l18-1l-32-36" fill="#617ddd"/><path d="M2381 2680l32 28l19-7l-32-26" fill="#4a6bd6"/><path d="M1171 2777l32 5l20-20l-32-3" fill="#3556d0"/><path d="M1608 2301l31-67l19-1l-30 64" fill="#bba5d7"/><path d="M1274 2741l31-3l19-27l-31 6" fill="#4566d4"/><path d="M1862 2140l32-26l20 60l-32 21" fill="#be90c7"/><path d="M2284 2559l32 47l19 3l-32-40" fill="#6f89e1"/><path d="M2413 2708l33 24l18-9l-32-22" fill="#4365d3"/><path d="M1978 2162l32 11l20 62l-32-10" fill="#bd98cd"/><path d="M1120 2788l32 7l19-18l-31-5" fill="#3253cf"/><path d="M2140 2317l33 52l19 36l-33-44" fill="#aeaee1"/><path d="M2529 2757l33 13l18-13l-32-13" fill="#3355cf"/><path d="M1413 2598l31-28l19-42l-31 35" fill="#7c94e2"/><path d="M1324 2711l32-9l19-33l-31 13" fill="#5271d8"/><path d="M1520 2420l30-57l19-29l-30 59" fill="#aeaee1"/><path d="M2251 2508l33 51l19 10l-33-46" fill="#8197e3"/><path d="M2446 2732l32 20l19-11l-33-18" fill="#3c5ed2"/><path d="M2107 2269l33 48l19 44l-32-41" fill="#b9afde"/><path d="M2010 2173l32 22l20 60l-32-20" fill="#bc9bcf"/><path d="M1394 2634l31-23l19-41l-31 28" fill="#718be1"/><path d="M1203 2782l31 3l20-21l-31-2" fill="#3859d0"/><path d="M2075 2228l32 41l20 51l-32-36" fill="#baa6d8"/><path d="M1254 2764l31 0l20-26l-31 3" fill="#4062d2"/><path d="M2042 2195l33 33l20 56l-33-29" fill="#bb9fd2"/><path d="M2562 2770l32 12l19-14l-33-11" fill="#3253cf"/><path d="M2478 2752l33 17l18-12l-32-16" fill="#3859d0"/><path d="M1152 2795l31 6l20-19l-32-5" fill="#3355cf"/><path d="M2219 2451l32 57l19 15l-32-49" fill="#95a7e5"/><path d="M1501 2452l30-52l19-37l-30 57" fill="#aaade2"/><path d="M1305 2738l31-5l20-31l-32 9" fill="#4b6cd6"/><path d="M1658 2233l31-68l20 12l-31 64" fill="#bd96cb"/><path d="M1375 2669l31-18l19-40l-31 23" fill="#6782df"/><path d="M1100 2805l32 7l20-17l-32-7" fill="#3152cf"/><path d="M1589 2313l30-67l20-12l-31 67" fill="#bba3d5"/><path d="M2330 2647l32 38l19-5l-32-34" fill="#5a78db"/><path d="M2362 2685l33 31l18-8l-32-28" fill="#4e6ed7"/><path d="M1811 2128l31-41l20 53l-31 35" fill="#c189c0"/><path d="M2395 2716l32 26l19-10l-33-24" fill="#4667d4"/><path d="M2511 2769l32 15l19-14l-33-13" fill="#3456d0"/><path d="M2297 2602l33 45l19-1l-33-40" fill="#6883e0"/><path d="M1894 2114l32-15l20 63l-32 12" fill="#c189c0"/><path d="M2186 2392l33 59l19 23l-33-52" fill="#a4ade4"/><path d="M1482 2488l30-46l19-42l-30 52" fill="#a4ade4"/><path d="M1234 2785l32 2l19-23l-31 0" fill="#3b5dd1"/><path d="M1356 2702l31-12l19-39l-31 18" fill="#5c7adc"/><path d="M2427 2742l33 22l18-12l-32-20" fill="#3f60d2"/><path d="M1183 2801l32 4l19-20l-31-3" fill="#3557d0"/><path d="M1709 2177l30-63l20 27l-30 58" fill="#c08cc3"/><path d="M2265 2551l32 51l19 4l-32-47" fill="#7991e2"/><path d="M1285 2764l32-2l19-29l-31 5" fill="#4567d4"/><path d="M1759 2141l31-54l21 41l-31 48" fill="#c287be"/><path d="M1463 2528l30-40l19-46l-30 46" fill="#9dace6"/><path d="M1132 2812l31 7l20-18l-31-6" fill="#3253cf"/><path d="M2543 2784l33 12l18-14l-32-12" fill="#3253cf"/><path d="M2460 2764l32 18l19-13l-33-17" fill="#395bd1"/><path d="M2153 2331l33 61l19 30l-32-53" fill="#b1aee0"/><path d="M1444 2570l31-34l18-48l-30 40" fill="#90a3e5"/><path d="M1336 2733l32-8l19-35l-31 12" fill="#5372d9"/><path d="M1569 2334l31-65l19-23l-30 67" fill="#bba4d6"/><path d="M2232 2493l33 58l19 8l-33-51" fill="#8da1e4"/><path d="M1425 2611l31-27l19-48l-31 34" fill="#8298e3"/><path d="M1215 2805l31 4l20-22l-32-2" fill="#3859d0"/><path d="M1266 2787l31 1l20-26l-32 2" fill="#4062d2"/><path d="M2492 2782l33 15l18-13l-32-15" fill="#3557d0"/><path d="M2576 2796l32 12l19-15l-33-11" fill="#3152cf"/><path d="M2344 2690l32 34l19-8l-33-31" fill="#5271d8"/><path d="M1926 2099l32-2l20 65l-32 0" fill="#c386bd"/><path d="M2311 2649l33 41l18-5l-32-38" fill="#5f7cdd"/><path d="M2376 2724l33 29l18-11l-32-26" fill="#4869d5"/><path d="M1639 2234l30-70l20 1l-31 68" fill="#be91c7"/><path d="M1163 2819l32 5l20-19l-32-4" fill="#3355cf"/><path d="M1406 2651l31-20l19-47l-31 27" fill="#758de1"/><path d="M2121 2272l32 59l20 38l-33-52" fill="#baabdb"/><path d="M1317 2762l31-4l20-33l-32 8" fill="#4b6cd6"/><path d="M2409 2753l32 23l19-12l-33-22" fill="#4163d3"/><path d="M2278 2601l33 48l19-2l-33-45" fill="#6f89e1"/><path d="M2200 2430l32 63l19 15l-32-57" fill="#a0ade5"/><path d="M1112 2828l31 8l20-17l-31-7" fill="#3152cf"/><path d="M1550 2363l31-62l19-32l-31 65" fill="#baa7d8"/><path d="M1387 2690l31-15l19-44l-31 20" fill="#6883e0"/><path d="M2525 2797l32 13l19-14l-33-12" fill="#3354cf"/><path d="M1842 2087l32-31l20 58l-32 26" fill="#c67fb6"/><path d="M2441 2776l33 19l18-13l-32-18" fill="#3b5cd1"/><path d="M2088 2217l33 55l19 45l-33-48" fill="#bc9fd2"/><path d="M1958 2097l32 11l20 65l-32-11" fill="#c385bc"/><path d="M1246 2809l32 3l19-24l-31-1" fill="#3b5dd1"/><path d="M2246 2544l32 57l19 1l-32-51" fill="#8298e3"/><path d="M1368 2725l31-10l19-40l-31 15" fill="#5c7adc"/><path d="M1195 2824l31 6l20-21l-31-4" fill="#3556d0"/><path d="M1297 2788l32-1l19-29l-31 4" fill="#4566d4"/><path d="M1531 2400l31-58l19-41l-31 62" fill="#b9addc"/><path d="M2557 2810l33 12l18-14l-32-12" fill="#3152cf"/><path d="M2474 2795l32 16l19-14l-33-15" fill="#3658d0"/><path d="M1143 2836l32 7l20-19l-32-5" fill="#3253cf"/><path d="M2167 2363l33 67l19 21l-33-59" fill="#aeaee1"/><path d="M2055 2170l33 47l19 52l-32-41" fill="#bd94ca"/><path d="M1689 2165l30-68l20 17l-30 63" fill="#c484bb"/><path d="M1990 2108l33 25l19 62l-32-22" fill="#c287be"/><path d="M2325 2698l32 36l19-10l-32-34" fill="#5674da"/><path d="M1512 2442l31-51l19-49l-31 58" fill="#b4aedf"/><path d="M2357 2734l33 30l19-11l-33-29" fill="#4b6bd6"/><path d="M2023 2133l32 37l20 58l-33-33" fill="#c08cc3"/><path d="M1348 2758l32-6l19-37l-31 10" fill="#5271d8"/><path d="M1619 2246l30-70l20-12l-30 70" fill="#be8fc6"/><path d="M2292 2654l33 44l19-8l-33-41" fill="#6480de"/><path d="M1790 2087l32-47l20 47l-31 41" fill="#c87ab1"/><path d="M1493 2488l31-45l19-52l-31 51" fill="#abaee2"/><path d="M2213 2481l33 63l19 7l-33-58" fill="#99aae6"/><path d="M2390 2764l32 24l19-12l-32-23" fill="#4264d3"/><path d="M1475 2536l30-38l19-55l-31 45" fill="#a2ade4"/><path d="M2506 2811l33 13l18-14l-32-13" fill="#3355cf"/><path d="M1456 2584l31-30l18-56l-30 38" fill="#95a7e5"/><path d="M1739 2114l31-60l20 33l-31 54" fill="#c87cb3"/><path d="M1278 2812l31 2l20-27l-32 1" fill="#3f61d2"/><path d="M1226 2830l32 4l20-22l-32-3" fill="#3759d0"/><path d="M1437 2631l31-24l19-53l-31 30" fill="#849ae3"/><path d="M2260 2602l32 52l19-5l-33-48" fill="#758ee1"/><path d="M2422 2788l33 20l19-13l-33-19" fill="#3c5ed1"/><path d="M1175 2843l32 6l19-19l-31-6" fill="#3354cf"/><path d="M1418 2675l31-17l19-51l-31 24" fill="#758de1"/><path d="M1329 2787l31-1l20-34l-32 6" fill="#4a6bd6"/><path d="M2134 2295l33 68l19 29l-33-61" fill="#baabdb"/><path d="M1874 2056l31-18l21 61l-32 15" fill="#ca78af"/><path d="M1123 2852l32 8l20-17l-32-7" fill="#3152cf"/><path d="M1399 2715l31-11l19-46l-31 17" fill="#6782df"/><path d="M2539 2824l32 12l19-14l-33-12" fill="#3153cf"/><path d="M2455 2808l33 17l18-14l-32-16" fill="#3759d0"/><path d="M2180 2411l33 70l19 12l-32-63" fill="#a9ade2"/><path d="M2227 2541l33 61l18-1l-32-57" fill="#8a9fe4"/><path d="M1600 2269l30-69l19-24l-30 70" fill="#be90c6"/><path d="M1380 2752l31-6l19-42l-31 11" fill="#5a78db"/><path d="M2339 2745l32 31l19-12l-33-30" fill="#4d6dd7"/><path d="M2306 2707l33 38l18-11l-32-36" fill="#5876da"/><path d="M1258 2834l32 4l19-24l-31-2" fill="#3a5cd1"/><path d="M1309 2814l32 1l19-29l-31 1" fill="#4365d3"/><path d="M1207 2849l31 6l20-21l-32-4" fill="#3556d0"/><path d="M2371 2776l33 25l18-13l-32-24" fill="#4465d4"/><path d="M2273 2661l33 46l19-9l-33-44" fill="#6783df"/><path d="M2488 2825l32 14l19-15l-33-13" fill="#3455cf"/><path d="M2101 2228l33 67l19 36l-32-59" fill="#bc9cd0"/><path d="M1155 2860l32 7l20-18l-32-6" fill="#3153cf"/><path d="M1669 2164l31-70l19 3l-30 68" fill="#c67eb5"/><path d="M2404 2801l32 21l19-14l-33-20" fill="#3d5fd2"/><path d="M1360 2786l32-3l19-37l-31 6" fill="#506fd8"/><path d="M1581 2301l30-65l19-36l-30 69" fill="#bd93c9"/><path d="M2194 2473l33 68l19 3l-33-63" fill="#a0ace5"/><path d="M2241 2606l32 55l19-7l-32-52" fill="#7a92e2"/><path d="M1905 2038l33-4l20 63l-32 2" fill="#cc73aa"/><path d="M2147 2338l33 73l20 19l-33-67" fill="#b9afde"/><path d="M2520 2839l33 12l18-15l-32-12" fill="#3253cf"/><path d="M2436 2822l33 17l19-14l-33-17" fill="#3859d0"/><path d="M1290 2838l31 4l20-27l-32-1" fill="#3d5fd2"/><path d="M1449 2658l31-19l19-57l-31 25" fill="#8298e3"/><path d="M1238 2855l32 5l20-22l-32-4" fill="#3758d0"/><path d="M1468 2607l31-25l19-60l-31 32" fill="#95a7e5"/><path d="M1822 2040l31-36l21 52l-32 31" fill="#cc6da5"/><path d="M1430 2704l32-12l18-53l-31 19" fill="#718be1"/><path d="M1487 2554l31-32l18-63l-31 39" fill="#a3ade4"/><path d="M1562 2342l30-60l19-46l-30 65" fill="#bc9ace"/><path d="M2068 2167l33 61l20 44l-33-55" fill="#be8ec5"/><path d="M1341 2815l32 1l19-33l-32 3" fill="#4769d5"/><path d="M1187 2867l32 7l19-19l-31-6" fill="#3354cf"/><path d="M1505 2498l31-39l19-63l-31 47" fill="#afaee1"/><path d="M2320 2757l32 32l19-13l-32-31" fill="#4e6ed7"/><path d="M1411 2746l32-8l19-46l-32 12" fill="#637fde"/><path d="M2287 2718l33 39l19-12l-33-38" fill="#5a78db"/><path d="M1543 2391l30-55l19-54l-30 60" fill="#bba3d5"/><path d="M1524 2443l31-47l18-60l-30 55" fill="#b9addd"/><path d="M2352 2789l33 26l19-14l-33-25" fill="#4566d4"/><path d="M1719 2097l31-63l20 20l-31 60" fill="#cc73aa"/><path d="M2208 2543l33 63l19-4l-33-61" fill="#91a4e5"/><path d="M2469 2839l32 14l19-14l-32-14" fill="#3456d0"/><path d="M2254 2671l33 47l19-11l-33-46" fill="#6a85e0"/><path d="M1938 2034l32 12l20 62l-32-11" fill="#cc72a9"/><path d="M1770 2054l32-51l20 37l-32 47" fill="#cc6ba3"/><path d="M1392 2783l32-3l19-42l-32 8" fill="#5675da"/><path d="M2385 2815l33 21l18-14l-32-21" fill="#3e5fd2"/><path d="M2035 2114l33 53l20 50l-33-47" fill="#c483ba"/><path d="M2161 2398l33 75l19 8l-33-70" fill="#b0aee0"/><path d="M1270 2860l32 5l19-23l-31-4" fill="#395ad1"/><path d="M1649 2176l31-71l20-11l-31 70" fill="#c77cb3"/><path d="M1321 2842l32 2l20-28l-32-1" fill="#4163d3"/><path d="M2114 2263l33 75l20 25l-33-68" fill="#bc9fd2"/><path d="M1219 2874l31 6l20-20l-32-5" fill="#3455cf"/><path d="M1970 2046l33 27l20 60l-33-25" fill="#cb75ac"/><path d="M2501 2853l33 13l19-15l-33-12" fill="#3253cf"/><path d="M2003 2073l32 41l20 56l-32-37" fill="#c87bb2"/><path d="M2222 2615l32 56l19-10l-32-55" fill="#7d94e2"/><path d="M2418 2836l32 17l19-14l-33-17" fill="#385ad1"/><path d="M1373 2816l31 0l20-36l-32 3" fill="#4c6cd6"/><path d="M1167 2884l32 8l20-18l-32-7" fill="#3152cf"/><path d="M2175 2471l33 72l19-2l-33-68" fill="#a4ade3"/><path d="M2301 2772l32 32l19-15l-32-32" fill="#4e6ed7"/><path d="M1462 2692l31-13l19-58l-32 18" fill="#7c94e2"/><path d="M2268 2733l33 39l19-15l-33-39" fill="#5b78db"/><path d="M1443 2738l31-7l19-52l-31 13" fill="#6b86e0"/><path d="M1480 2639l32-18l18-63l-31 24" fill="#90a3e5"/><path d="M2333 2804l33 26l19-15l-33-26" fill="#4566d4"/><path d="M2450 2853l33 15l18-15l-32-14" fill="#3556d0"/><path d="M1302 2865l32 5l19-26l-32-2" fill="#3b5dd1"/><path d="M1853 2004l32-21l20 55l-31 18" fill="#cc619b"/><path d="M1424 2780l31-4l19-45l-31 7" fill="#5d7adc"/><path d="M1499 2582l31-24l19-68l-31 32" fill="#a2ade4"/><path d="M1250 2880l32 6l20-21l-32-5" fill="#3557d0"/><path d="M2235 2685l33 48l19-15l-33-47" fill="#6b85e0"/><path d="M1353 2844l32 3l19-31l-31 0" fill="#4466d4"/><path d="M2189 2550l33 65l19-9l-33-63" fill="#95a7e5"/><path d="M2366 2830l33 21l19-15l-33-21" fill="#3e60d2"/><path d="M1630 2200l31-70l19-25l-31 71" fill="#c77db4"/><path d="M2128 2319l33 79l19 13l-33-73" fill="#baa6d8"/><path d="M2081 2190l33 73l20 32l-33-67" fill="#be8ec5"/><path d="M1199 2892l31 7l20-19l-31-6" fill="#3253cf"/><path d="M1518 2522l31-32l18-71l-31 40" fill="#afaee1"/><path d="M1404 2816l32 0l19-40l-31 4" fill="#5170d8"/><path d="M2483 2868l33 13l18-15l-33-13" fill="#3253cf"/><path d="M2399 2851l32 17l19-15l-32-17" fill="#385ad1"/><path d="M1700 2094l30-66l20 6l-31 63" fill="#cc69a2"/><path d="M2203 2629l32 56l19-14l-32-56" fill="#7f95e3"/><path d="M1536 2459l31-40l19-70l-31 47" fill="#baabdb"/><path d="M2142 2392l33 79l19 2l-33-75" fill="#b6afdf"/><path d="M1334 2870l32 4l19-27l-32-3" fill="#3e60d2"/><path d="M1611 2236l31-66l19-40l-31 70" fill="#c581b8"/><path d="M2282 2788l33 32l18-16l-32-32" fill="#4e6ed7"/><path d="M1282 2886l32 6l20-22l-32-5" fill="#3758d0"/><path d="M2249 2750l33 38l19-16l-33-39" fill="#5b78db"/><path d="M2315 2820l32 26l19-16l-33-26" fill="#4566d4"/><path d="M1385 2847l32 3l19-34l-32 0" fill="#4869d5"/><path d="M1555 2396l31-47l18-67l-31 54" fill="#bc9dd1"/><path d="M1474 2731l32-6l19-57l-32 11" fill="#738ce1"/><path d="M2431 2868l33 15l19-15l-33-15" fill="#3556d0"/><path d="M1230 2899l32 7l20-20l-32-6" fill="#3354cf"/><path d="M1802 2003l31-40l20 41l-31 36" fill="#cc5894"/><path d="M1493 2679l32-11l18-63l-31 16" fill="#879ce4"/><path d="M1455 2776l32-2l19-49l-32 6" fill="#637fde"/><path d="M2156 2476l33 74l19-7l-33-72" fill="#a8ade3"/><path d="M1592 2282l31-61l19-51l-31 66" fill="#c288bf"/><path d="M2216 2703l33 47l19-17l-33-48" fill="#6a85e0"/><path d="M1573 2336l31-54l19-61l-31 61" fill="#be91c8"/><path d="M2048 2122l33 68l20 38l-33-61" fill="#c580b7"/><path d="M2347 2846l33 21l19-16l-33-21" fill="#3e5fd2"/><path d="M1750 2034l31-55l21 24l-32 51" fill="#cc5b96"/><path d="M1885 1983l32-5l21 56l-33 4" fill="#cc5995"/><path d="M1179 2909l31 8l20-18l-31-7" fill="#3152cf"/><path d="M1512 2621l31-16l19-70l-32 23" fill="#9dace6"/><path d="M2170 2563l33 66l19-14l-33-65" fill="#97a9e6"/><path d="M1436 2816l32 0l19-42l-32 2" fill="#5674da"/><path d="M2095 2238l33 81l19 19l-33-75" fill="#bd94ca"/><path d="M2464 2883l33 13l19-15l-33-13" fill="#3253cf"/><path d="M2380 2867l33 17l18-16l-32-17" fill="#385ad1"/><path d="M1314 2892l32 6l20-24l-32-4" fill="#395ad1"/><path d="M1366 2874l31 5l20-29l-32-3" fill="#4062d3"/><path d="M2184 2648l32 55l19-18l-32-56" fill="#7e95e3"/><path d="M1530 2558l32-23l18-75l-31 30" fill="#abaee2"/><path d="M1262 2906l32 7l20-21l-32-6" fill="#3455d0"/><path d="M1417 2850l32 2l19-36l-32 0" fill="#4b6bd6"/><path d="M2263 2807l33 30l19-17l-33-32" fill="#4d6dd7"/><path d="M2230 2769l33 38l19-19l-33-38" fill="#5977db"/><path d="M2015 2064l33 58l20 45l-33-53" fill="#cc74ab"/><path d="M1680 2105l31-66l19-11l-30 66" fill="#cc659f"/><path d="M2296 2837l32 25l19-16l-32-26" fill="#4466d4"/><path d="M1210 2917l32 7l20-18l-32-7" fill="#3152cf"/><path d="M2109 2309l33 83l19 6l-33-79" fill="#bb9fd2"/><path d="M1917 1978l33 12l20 56l-32-12" fill="#cc5893"/><path d="M2413 2884l32 14l19-15l-33-15" fill="#3556d0"/><path d="M1487 2774l32-1l19-53l-32 5" fill="#6984e0"/><path d="M2198 2724l32 45l19-19l-33-47" fill="#6984e0"/><path d="M1506 2725l32-5l18-61l-31 9" fill="#7b92e2"/><path d="M1549 2490l31-30l18-78l-31 37" fill="#b9addd"/><path d="M2123 2395l33 81l19-5l-33-79" fill="#b9aedd"/><path d="M2328 2862l33 21l19-16l-33-21" fill="#3d5fd2"/><path d="M1468 2816l32 2l19-45l-32 1" fill="#5a77db"/><path d="M1983 2019l32 45l20 50l-32-41" fill="#cc669f"/><path d="M2137 2489l33 74l19-13l-33-74" fill="#a9ade2"/><path d="M1525 2668l31-9l19-68l-32 14" fill="#91a4e5"/><path d="M2151 2583l33 65l19-19l-33-66" fill="#96a8e5"/><path d="M1950 1990l33 29l20 54l-33-27" fill="#cc5c97"/><path d="M1346 2898l32 6l19-25l-31-5" fill="#3b5cd1"/><path d="M1397 2879l32 5l20-32l-32-2" fill="#4365d3"/><path d="M1294 2913l32 7l20-22l-32-6" fill="#3557d0"/><path d="M2165 2671l33 53l18-21l-32-55" fill="#7c93e2"/><path d="M2062 2160l33 78l19 25l-33-73" fill="#c483ba"/><path d="M2445 2898l33 13l19-15l-33-13" fill="#3253cf"/><path d="M2361 2883l33 17l19-16l-33-17" fill="#385ad1"/><path d="M1449 2852l32 4l19-38l-32-2" fill="#4e6ed7"/><path d="M1543 2605l32-14l18-75l-31 19" fill="#a4ade4"/><path d="M1242 2924l32 8l20-19l-32-7" fill="#3253cf"/><path d="M1567 2419l31-37l19-77l-31 44" fill="#bc9dd1"/><path d="M1833 1963l32-24l20 44l-32 21" fill="#cc4b88"/><path d="M2211 2791l33 36l19-20l-33-38" fill="#5775da"/><path d="M2244 2827l33 29l19-19l-33-30" fill="#4c6cd6"/><path d="M1661 2130l30-65l20-26l-31 66" fill="#cc67a0"/><path d="M2277 2856l32 24l19-18l-32-25" fill="#4365d3"/><path d="M2179 2749l32 42l19-22l-32-45" fill="#6581df"/><path d="M1519 2773l32 0l19-55l-32 2" fill="#6d88e1"/><path d="M1730 2028l32-57l19 8l-31 55" fill="#cc518e"/><path d="M2394 2900l33 14l18-16l-32-14" fill="#3456d0"/><path d="M1378 2904l32 6l19-26l-32-5" fill="#3c5ed2"/><path d="M1538 2720l32-2l18-64l-32 5" fill="#8198e3"/><path d="M1500 2818l32 3l19-48l-32 0" fill="#5d7adc"/><path d="M1586 2349l31-44l18-74l-31 51" fill="#be8ec5"/><path d="M1429 2884l32 5l20-33l-32-4" fill="#4566d4"/><path d="M1326 2920l32 7l20-23l-32-6" fill="#3658d0"/><path d="M2132 2609l33 62l19-23l-33-65" fill="#93a6e5"/><path d="M1562 2535l31-19l18-81l-31 25" fill="#b4aedf"/><path d="M2309 2880l33 20l19-17l-33-21" fill="#3c5ed2"/><path d="M2076 2224l33 85l19 10l-33-81" fill="#c08cc3"/><path d="M2118 2510l33 73l19-20l-33-74" fill="#a8ade2"/><path d="M1781 1979l32-43l20 27l-31 40" fill="#cc4785"/><path d="M2146 2698l33 51l19-25l-33-53" fill="#7890e2"/><path d="M1274 2932l32 7l20-19l-32-7" fill="#3354cf"/><path d="M1642 2170l30-62l19-43l-30 65" fill="#cc6ea6"/><path d="M1556 2659l32-5l19-72l-32 9" fill="#99abe6"/><path d="M1481 2856l32 5l19-40l-32-3" fill="#5170d8"/><path d="M2104 2408l33 81l19-13l-33-81" fill="#b9addc"/><path d="M1604 2282l31-51l19-67l-31 57" fill="#c582b9"/><path d="M2090 2309l33 86l19-3l-33-83" fill="#bc9bcf"/><path d="M2029 2087l33 73l19 30l-33-68" fill="#cc74ab"/><path d="M1623 2221l31-57l18-56l-30 62" fill="#ca77ae"/><path d="M2427 2914l32 13l19-16l-33-13" fill="#3253cf"/><path d="M2342 2900l33 16l19-16l-33-17" fill="#3859d0"/><path d="M2192 2815l33 33l19-21l-33-36" fill="#5473d9"/><path d="M2225 2848l33 27l19-19l-33-29" fill="#496ad5"/><path d="M2160 2775l32 40l19-24l-32-42" fill="#617edd"/><path d="M1410 2910l32 7l19-28l-32-5" fill="#3e60d2"/><path d="M1551 2773l32 4l19-57l-32-2" fill="#718ae1"/><path d="M1580 2460l31-25l19-84l-32 31" fill="#bba3d5"/><path d="M1358 2927l32 7l20-24l-32-6" fill="#3859d0"/><path d="M2258 2875l33 23l18-18l-32-24" fill="#4264d3"/><path d="M1575 2591l32-9l18-80l-32 14" fill="#aaade2"/><path d="M1461 2889l32 6l20-34l-32-5" fill="#4768d5"/><path d="M1532 2821l32 5l19-49l-32-4" fill="#607ddd"/><path d="M2113 2639l33 59l19-27l-33-62" fill="#8ea1e4"/><path d="M1865 1939l32-6l20 45l-32 5" fill="#cd4280"/><path d="M1570 2718l32 2l18-67l-32 1" fill="#869be4"/><path d="M2127 2728l33 47l19-26l-33-51" fill="#728be1"/><path d="M1306 2939l32 8l20-20l-32-7" fill="#3355cf"/><path d="M2099 2538l33 71l19-26l-33-73" fill="#a6ade3"/><path d="M2375 2916l33 14l19-16l-33-14" fill="#3455d0"/><path d="M1513 2861l32 6l19-41l-32-5" fill="#5271d8"/><path d="M2291 2898l32 19l19-17l-33-20" fill="#3b5dd1"/><path d="M1254 2950l32 8l20-19l-32-7" fill="#3152cf"/><path d="M1711 2039l31-58l20-10l-32 57" fill="#cc4d8a"/><path d="M1996 2025l33 62l19 35l-33-58" fill="#cc609a"/><path d="M1588 2654l32-1l19-74l-32 3" fill="#9dace5"/><path d="M2084 2430l34 80l19-21l-33-81" fill="#b9addd"/><path d="M2173 2840l33 30l19-22l-33-33" fill="#5070d8"/><path d="M2140 2803l33 37l19-25l-32-40" fill="#5c7adc"/><path d="M2042 2141l34 83l19 14l-33-78" fill="#c87bb2"/><path d="M1598 2382l32-31l18-84l-31 38" fill="#be91c8"/><path d="M1442 2917l32 7l19-29l-32-6" fill="#3f61d2"/><path d="M2094 2674l33 54l19-30l-33-59" fill="#869be4"/><path d="M2206 2870l33 25l19-20l-33-27" fill="#4768d5"/><path d="M1593 2516l32-14l18-86l-32 19" fill="#b9addc"/><path d="M1390 2934l32 7l20-24l-32-7" fill="#395ad1"/><path d="M1583 2777l32 6l19-58l-32-5" fill="#738ce1"/><path d="M2323 2917l33 15l19-16l-33-16" fill="#3758d0"/><path d="M2408 2930l32 12l19-15l-32-13" fill="#3253cf"/><path d="M1493 2895l33 7l19-35l-32-6" fill="#4869d5"/><path d="M1564 2826l32 7l19-50l-32-6" fill="#617edd"/><path d="M1897 1933l33 12l20 45l-33-12" fill="#ce407e"/><path d="M2108 2761l32 42l20-28l-33-47" fill="#6b86e0"/><path d="M2080 2573l33 66l19-30l-33-71" fill="#a2ade4"/><path d="M2070 2321l34 87l19-13l-33-86" fill="#bd98cd"/><path d="M1338 2947l32 8l20-21l-32-7" fill="#3456d0"/><path d="M1602 2720l32 5l19-67l-33-5" fill="#899ee4"/><path d="M2239 2895l33 22l19-19l-33-23" fill="#4062d2"/><path d="M2056 2222l34 87l19 0l-33-85" fill="#c287be"/><path d="M1963 1977l33 48l19 39l-32-45" fill="#cc508d"/><path d="M1545 2867l32 7l19-41l-32-7" fill="#5472d9"/><path d="M1286 2958l32 8l20-19l-32-8" fill="#3153cf"/><path d="M1607 2582l32-3l18-83l-32 6" fill="#aeaee1"/><path d="M1813 1936l32-26l20 29l-32 24" fill="#d03875"/><path d="M1930 1945l33 32l20 42l-33-29" fill="#cd4583"/><path d="M2075 2712l33 49l19-33l-33-54" fill="#7e94e2"/><path d="M2356 2932l33 14l19-16l-33-14" fill="#3455cf"/><path d="M1762 1971l31-44l20 9l-32 43" fill="#cf3b79"/><path d="M1617 2305l31-38l18-80l-31 44" fill="#c582b9"/><path d="M2065 2461l34 77l19-28l-34-80" fill="#b8afde"/><path d="M2272 2917l32 17l19-17l-32-19" fill="#3a5cd1"/><path d="M2121 2833l33 32l19-25l-33-37" fill="#5775da"/><path d="M2061 2613l33 61l19-35l-33-66" fill="#9dace6"/><path d="M1474 2924l32 7l20-29l-33-7" fill="#4062d3"/><path d="M1620 2653l33 5l18-76l-32-3" fill="#a0ace5"/><path d="M2154 2865l33 28l19-23l-33-30" fill="#4c6cd6"/><path d="M1422 2941l32 8l20-25l-32-7" fill="#3a5bd1"/><path d="M1691 2065l32-56l19-28l-31 58" fill="#cc4e8b"/><path d="M1615 2783l32 10l19-58l-32-10" fill="#748ce1"/><path d="M1596 2833l33 9l18-49l-32-10" fill="#627ede"/><path d="M2089 2795l32 38l19-30l-32-42" fill="#6480de"/><path d="M1526 2902l32 8l19-36l-32-7" fill="#496ad5"/><path d="M1611 2435l32-19l18-89l-31 24" fill="#bc9ace"/><path d="M1370 2955l32 8l20-22l-32-7" fill="#3556d0"/><path d="M2187 2893l33 23l19-21l-33-25" fill="#4466d4"/><path d="M1634 2725l32 10l19-67l-32-10" fill="#8a9ee4"/><path d="M1577 2874l32 10l20-42l-33-9" fill="#5473d9"/><path d="M2056 2751l33 44l19-34l-33-49" fill="#748de1"/><path d="M2304 2934l33 15l19-17l-33-15" fill="#3657d0"/><path d="M1635 2231l31-44l19-72l-31 49" fill="#cc74ab"/><path d="M2042 2657l33 55l19-38l-33-61" fill="#93a6e5"/><path d="M2009 2065l33 76l20 19l-33-73" fill="#cc669f"/><path d="M2389 2946l33 12l18-16l-32-12" fill="#3253cf"/><path d="M1318 2966l33 8l19-19l-32-8" fill="#3253cf"/><path d="M2051 2345l33 85l20-22l-34-87" fill="#bc99ce"/><path d="M2046 2501l34 72l19-35l-34-77" fill="#b3aee0"/><path d="M2220 2916l33 19l19-18l-33-22" fill="#3d5fd2"/><path d="M1625 2502l32-6l18-89l-32 9" fill="#baa7d8"/><path d="M1672 2108l32-53l19-46l-32 56" fill="#cc5692"/><path d="M1654 2164l31-49l19-60l-32 53" fill="#cc639d"/><path d="M1647 2793l33 12l19-56l-33-14" fill="#728be1"/><path d="M1639 2579l32 3l18-85l-32-1" fill="#b1aee0"/><path d="M1506 2931l32 8l20-29l-32-8" fill="#4163d3"/><path d="M1629 2842l32 11l19-48l-33-12" fill="#617ddd"/><path d="M2070 2828l32 34l19-29l-32-38" fill="#5d7adc"/><path d="M1653 2658l32 10l18-76l-32-10" fill="#a0ace5"/><path d="M2102 2862l33 29l19-26l-33-32" fill="#5171d8"/><path d="M1454 2949l33 8l19-26l-32-7" fill="#3a5cd1"/><path d="M1558 2910l32 9l19-35l-32-10" fill="#496ad5"/><path d="M2023 2702l33 49l19-39l-33-55" fill="#879ce4"/><path d="M1666 2735l33 14l18-66l-32-15" fill="#889de4"/><path d="M2037 2790l33 38l19-33l-33-44" fill="#6a85e0"/><path d="M2135 2891l33 24l19-22l-33-28" fill="#4869d5"/><path d="M2027 2546l34 67l19-40l-34-72" fill="#acaee1"/><path d="M1402 2963l33 8l19-22l-32-8" fill="#3657d0"/><path d="M2337 2949l33 13l19-16l-33-14" fill="#3354cf"/><path d="M2037 2233l33 88l20-12l-34-87" fill="#c385bc"/><path d="M2253 2935l32 17l19-18l-32-17" fill="#385ad1"/><path d="M1609 2884l33 10l19-41l-32-11" fill="#5372d9"/><path d="M2023 2136l33 86l20 2l-34-83" fill="#cb75ac"/><path d="M1630 2351l31-24l19-89l-32 29" fill="#c288bf"/><path d="M1845 1910l32-7l20 30l-32 6" fill="#d12e6c"/><path d="M2004 2747l33 43l19-39l-33-49" fill="#7a92e2"/><path d="M2168 2915l33 21l19-20l-33-23" fill="#4163d3"/><path d="M1351 2974l32 8l19-19l-32-8" fill="#3254cf"/><path d="M2009 2597l33 60l19-44l-34-67" fill="#a4ade4"/><path d="M1680 2805l32 16l19-55l-32-17" fill="#7089e1"/><path d="M2032 2380l33 81l19-31l-33-85" fill="#bc9dd0"/><path d="M1661 2853l32 14l19-46l-32-16" fill="#5f7cdd"/><path d="M1685 2668l32 15l19-74l-33-17" fill="#9face5"/><path d="M1699 2749l32 17l19-63l-33-20" fill="#849ae3"/><path d="M1742 1981l31-45l20-9l-31 44" fill="#d03674"/><path d="M1990 2649l33 53l19-45l-33-60" fill="#9bace6"/><path d="M2018 2828l32 33l20-33l-33-38" fill="#617ddd"/><path d="M2050 2861l33 30l19-29l-32-34" fill="#5574d9"/><path d="M1976 1999l33 66l20 22l-33-62" fill="#cc508d"/><path d="M1538 2939l33 9l19-29l-32-9" fill="#4163d3"/><path d="M1671 2582l32 10l19-84l-33-11" fill="#b1aee0"/><path d="M2285 2952l33 14l19-17l-33-15" fill="#3556d0"/><path d="M1590 2919l32 10l20-35l-33-10" fill="#4969d5"/><path d="M1487 2957l32 8l19-26l-32-8" fill="#3b5cd1"/><path d="M1643 2416l32-9l18-93l-32 13" fill="#bd93c9"/><path d="M1985 2792l33 36l19-38l-33-43" fill="#6e88e1"/><path d="M2083 2891l33 25l19-25l-33-29" fill="#4c6cd6"/><path d="M2201 2936l32 18l20-19l-33-19" fill="#3b5dd1"/><path d="M2370 2962l33 12l19-16l-33-12" fill="#3152cf"/><path d="M1971 2701l33 46l19-45l-33-53" fill="#8ca0e4"/><path d="M1657 2496l32 1l18-90l-32 0" fill="#bba4d6"/><path d="M1642 2894l32 13l19-40l-32-14" fill="#5271d8"/><path d="M1712 2821l33 17l19-51l-33-21" fill="#6b86e0"/><path d="M1435 2971l32 8l20-22l-33-8" fill="#3657d0"/><path d="M1731 2766l33 21l19-59l-33-25" fill="#7f95e3"/><path d="M2013 2424l33 77l19-40l-33-81" fill="#bba3d5"/><path d="M1717 2683l33 20l19-70l-33-24" fill="#9cace6"/><path d="M1952 2752l33 40l19-45l-33-46" fill="#7d94e2"/><path d="M2116 2916l33 22l19-23l-33-24" fill="#4466d4"/><path d="M1793 1927l32-27l20 10l-32 26" fill="#d22b68"/><path d="M1693 2867l33 15l19-44l-33-17" fill="#5c79dc"/><path d="M1648 2267l32-29l18-84l-32 33" fill="#ca77ae"/><path d="M1383 2982l32 8l20-19l-33-8" fill="#3354cf"/><path d="M1966 2833l33 32l19-37l-33-36" fill="#627fde"/><path d="M1877 1903l33 13l20 29l-33-12" fill="#d22c69"/><path d="M2018 2258l33 87l19-24l-33-88" fill="#c386bd"/><path d="M1999 2865l32 28l19-32l-32-33" fill="#5876da"/><path d="M1764 2787l33 23l18-55l-32-27" fill="#7890e2"/><path d="M1994 2476l33 70l19-45l-33-77" fill="#baabdb"/><path d="M1750 2703l33 25l18-67l-32-28" fill="#96a8e5"/><path d="M1933 2800l33 33l19-41l-33-40" fill="#6f88e1"/><path d="M1703 2592l33 17l18-82l-32-19" fill="#b0aee0"/><path d="M2233 2954l33 16l19-18l-32-17" fill="#3758d0"/><path d="M1745 2838l33 20l19-48l-33-23" fill="#6682df"/><path d="M2318 2966l33 13l19-17l-33-13" fill="#3254cf"/><path d="M1919 2710l33 42l19-51l-33-49" fill="#8da1e4"/><path d="M1938 2652l33 49l19-52l-34-57" fill="#9eace5"/><path d="M1943 1949l33 50l20 26l-33-48" fill="#ce3e7c"/><path d="M1975 2533l34 64l18-51l-33-70" fill="#b3aee0"/><path d="M1956 2592l34 57l19-52l-34-64" fill="#a9ade2"/><path d="M1900 2765l33 35l19-48l-33-42" fill="#7c93e2"/><path d="M2031 2893l33 25l19-27l-33-30" fill="#4e6ed7"/><path d="M2149 2938l33 19l19-21l-33-21" fill="#3e60d2"/><path d="M1622 2929l33 11l19-33l-32-13" fill="#4869d5"/><path d="M1571 2948l32 10l19-29l-32-10" fill="#4163d3"/><path d="M1783 2728l32 27l19-61l-33-33" fill="#8da0e4"/><path d="M1674 2907l33 13l19-38l-33-15" fill="#4f6fd7"/><path d="M1797 2810l32 24l19-50l-33-29" fill="#7089e1"/><path d="M1519 2965l32 9l20-26l-33-9" fill="#3b5cd1"/><path d="M1331 2992l32 8l20-18l-32-8" fill="#3152cf"/><path d="M1815 2755l33 29l19-55l-33-35" fill="#8298e3"/><path d="M1848 2784l33 30l19-49l-33-36" fill="#778fe2"/><path d="M1867 2729l33 36l19-55l-33-42" fill="#8a9ee4"/><path d="M1910 1916l33 33l20 28l-33-32" fill="#d1326f"/><path d="M1881 2814l33 30l19-44l-33-35" fill="#6c87e0"/><path d="M1726 2882l32 17l20-41l-33-20" fill="#5876da"/><path d="M1914 2844l33 28l19-39l-33-33" fill="#627ede"/><path d="M1989 2058l34 78l19 5l-33-76" fill="#cc5c97"/><path d="M1736 2609l33 24l18-79l-33-27" fill="#acaee1"/><path d="M2064 2918l33 22l19-24l-33-25" fill="#4768d5"/><path d="M1778 2858l32 20l19-44l-32-24" fill="#607ddd"/><path d="M1689 2497l33 11l18-90l-33-11" fill="#bba3d5"/><path d="M1723 2009l31-43l19-30l-31 45" fill="#cf3876"/><path d="M1467 2979l32 9l20-23l-32-8" fill="#3658d0"/><path d="M1829 2834l33 25l19-45l-33-30" fill="#6782df"/><path d="M1886 2668l33 42l19-58l-33-49" fill="#9dace5"/><path d="M1834 2694l33 35l19-61l-33-42" fill="#98a9e6"/><path d="M1947 2872l32 27l20-34l-33-32" fill="#5876da"/><path d="M2003 2147l34 86l19-11l-33-86" fill="#cc72a9"/><path d="M1769 2633l32 28l19-73l-33-34" fill="#a7ade3"/><path d="M1801 2661l33 33l19-68l-33-38" fill="#a1ade5"/><path d="M1666 2187l32-33l18-77l-31 38" fill="#cc639d"/><path d="M1661 2327l32-13l18-92l-31 16" fill="#c581b8"/><path d="M2266 2970l33 13l19-17l-33-14" fill="#3455cf"/><path d="M2182 2957l32 16l19-19l-32-18" fill="#395bd1"/><path d="M1862 2859l33 25l19-40l-33-30" fill="#5f7bdd"/><path d="M1979 2899l33 24l19-30l-32-28" fill="#4f6fd7"/><path d="M1905 2603l33 49l18-60l-33-57" fill="#aaade2"/><path d="M1415 2990l32 9l20-20l-32-8" fill="#3354cf"/><path d="M1675 2407l32 0l19-94l-33 1" fill="#be90c6"/><path d="M2351 2979l33 11l19-16l-33-12" fill="#3152cf"/><path d="M1999 2296l33 84l19-35l-33-87" fill="#c189c0"/><path d="M2097 2940l33 20l19-22l-33-22" fill="#4062d3"/><path d="M1810 2878l33 21l19-40l-33-25" fill="#5a77db"/><path d="M1758 2899l33 17l19-38l-32-20" fill="#5372d9"/><path d="M1707 2920l32 14l19-35l-32-17" fill="#4d6dd7"/><path d="M1655 2940l32 12l20-32l-33-13" fill="#4667d4"/><path d="M1853 2626l33 42l19-65l-34-49" fill="#a7ade3"/><path d="M1895 2884l32 24l20-36l-33-28" fill="#5675da"/><path d="M1603 2958l32 11l20-29l-33-11" fill="#4062d2"/><path d="M1704 2055l31-42l19-47l-31 43" fill="#ce417f"/><path d="M2012 2923l33 21l19-26l-33-25" fill="#4869d5"/><path d="M1923 2535l33 57l19-59l-33-65" fill="#b7afdf"/><path d="M1685 2115l31-38l19-64l-31 42" fill="#cc508d"/><path d="M1722 2508l32 19l19-88l-33-21" fill="#bba5d7"/><path d="M1551 2974l32 10l20-26l-32-10" fill="#3a5cd1"/><path d="M1363 3000l32 9l20-19l-32-8" fill="#3152cf"/><path d="M1843 2899l33 21l19-36l-33-25" fill="#5372d9"/><path d="M1927 2908l33 22l19-31l-32-27" fill="#4f6fd7"/><path d="M1820 2588l33 38l18-72l-33-45" fill="#b0aee0"/><path d="M1980 2346l33 78l19-44l-33-84" fill="#be90c7"/><path d="M2214 2973l33 14l19-17l-33-16" fill="#3557d0"/><path d="M1942 2468l33 65l19-57l-33-72" fill="#bba5d6"/><path d="M2130 2960l32 17l20-20l-33-19" fill="#3b5dd1"/><path d="M1499 2988l32 9l20-23l-32-9" fill="#3658d0"/><path d="M1791 2916l33 18l19-35l-33-21" fill="#4f6ed7"/><path d="M2299 2983l33 12l19-16l-33-13" fill="#3253cf"/><path d="M1754 2527l33 27l18-84l-32-31" fill="#baaada"/><path d="M1961 2404l33 72l19-52l-33-78" fill="#bc99ce"/><path d="M1871 2554l34 49l18-68l-33-56" fill="#b5afdf"/><path d="M1787 2554l33 34l18-79l-33-39" fill="#b8afde"/><path d="M2045 2944l33 20l19-24l-33-22" fill="#4264d3"/><path d="M1825 1900l32-8l20 11l-32 7" fill="#d42260"/><path d="M1739 2934l33 15l19-33l-33-17" fill="#496ad5"/><path d="M1960 2930l33 20l19-27l-33-24" fill="#4869d5"/><path d="M1876 2920l32 20l19-32l-32-24" fill="#4d6dd7"/><path d="M1687 2952l33 13l19-31l-32-14" fill="#4466d4"/><path d="M1773 1936l32-27l20-9l-32 27" fill="#d32563"/><path d="M1447 2999l32 9l20-20l-32-9" fill="#3354cf"/><path d="M1956 1990l33 68l20 7l-33-66" fill="#cd4583"/><path d="M1635 2969l33 11l19-28l-32-12" fill="#3f61d2"/><path d="M1707 2407l33 11l18-94l-32-11" fill="#be8fc6"/><path d="M1984 2174l34 84l19-25l-34-86" fill="#cc73aa"/><path d="M1680 2238l31-16l19-88l-32 20" fill="#cc6ea6"/><path d="M1824 2934l32 17l20-31l-33-21" fill="#4a6bd6"/><path d="M2162 2977l33 14l19-18l-32-16" fill="#3758d0"/><path d="M1583 2984l33 10l19-25l-32-11" fill="#3a5cd1"/><path d="M2078 2964l33 17l19-21l-33-20" fill="#3d5ed2"/><path d="M1890 2479l33 56l19-67l-33-63" fill="#bba4d6"/><path d="M2247 2987l33 13l19-17l-33-13" fill="#3354cf"/><path d="M1838 2509l33 45l19-75l-33-51" fill="#baa8d8"/><path d="M1395 3009l32 8l20-18l-32-9" fill="#3152cf"/><path d="M1993 2950l33 19l19-25l-33-21" fill="#4364d3"/><path d="M1908 2940l33 18l19-28l-33-22" fill="#4768d5"/><path d="M1693 2314l33-1l18-94l-33 3" fill="#c77db4"/><path d="M1772 2949l32 15l20-30l-33-18" fill="#4667d4"/><path d="M1531 2997l33 9l19-22l-32-10" fill="#3658d0"/><path d="M1970 2068l33 79l20-11l-34-78" fill="#cc5893"/><path d="M1720 2965l32 13l20-29l-33-15" fill="#4264d3"/><path d="M1740 2418l33 21l18-91l-33-24" fill="#be91c7"/><path d="M1805 2470l33 39l19-81l-33-45" fill="#bc9ed1"/><path d="M1856 2951l33 17l19-28l-32-20" fill="#4567d4"/><path d="M1909 2405l33 63l19-64l-34-70" fill="#bd95cb"/><path d="M1668 2980l32 11l20-26l-33-13" fill="#3d5fd2"/><path d="M1479 3008l33 9l19-20l-32-9" fill="#3355cf"/><path d="M1857 1892l33 13l20 11l-33-13" fill="#d5205f"/><path d="M1773 2439l32 31l19-87l-33-35" fill="#bd96cb"/><path d="M1941 2958l33 18l19-26l-33-20" fill="#4264d3"/><path d="M2111 2981l32 15l19-19l-32-17" fill="#385ad1"/><path d="M2026 2969l33 17l19-22l-33-20" fill="#3d5fd2"/><path d="M1965 2215l34 81l19-38l-34-84" fill="#ca78af"/><path d="M2195 2991l33 14l19-18l-33-14" fill="#3455d0"/><path d="M1923 1938l33 52l20 9l-33-50" fill="#d1326f"/><path d="M1804 2964l33 15l19-28l-32-17" fill="#4365d3"/><path d="M2280 3000l33 11l19-16l-33-12" fill="#3152cf"/><path d="M1698 2154l32-20l18-80l-32 23" fill="#cc5692"/><path d="M1616 2994l32 10l20-24l-33-11" fill="#395bd1"/><path d="M1857 2428l33 51l19-74l-34-58" fill="#bd97cc"/><path d="M1927 2334l34 70l19-58l-34-77" fill="#c189c0"/><path d="M1754 1966l32-27l19-30l-32 27" fill="#d32764"/><path d="M1946 2269l34 77l19-50l-34-81" fill="#c67fb6"/><path d="M1890 1905l33 33l20 11l-33-33" fill="#d42563"/><path d="M1427 3017l33 9l19-18l-32-9" fill="#3152cf"/><path d="M1889 2968l33 16l19-26l-33-18" fill="#4163d3"/><path d="M1752 2978l33 13l19-27l-32-15" fill="#3f61d2"/><path d="M1564 3006l32 9l20-21l-33-10" fill="#3657d0"/><path d="M1974 2976l32 16l20-23l-33-19" fill="#3e5fd2"/><path d="M1726 2313l32 11l18-93l-32-12" fill="#c77cb3"/><path d="M2059 2986l32 15l20-20l-33-17" fill="#395bd1"/><path d="M2143 2996l33 14l19-19l-33-14" fill="#3557d0"/><path d="M1700 2991l33 12l19-25l-32-13" fill="#3c5dd1"/><path d="M1716 2077l32-23l19-66l-32 25" fill="#ce417f"/><path d="M2228 3005l33 12l19-17l-33-13" fill="#3253cf"/><path d="M1837 2979l33 15l19-26l-33-17" fill="#3f61d2"/><path d="M1711 2222l33-3l18-90l-32 5" fill="#cc67a0"/><path d="M1805 1909l33-8l19-9l-32 8" fill="#d61d5d"/><path d="M1735 2013l32-25l19-49l-32 27" fill="#d1316e"/><path d="M1512 3017l32 9l20-20l-33-9" fill="#3354cf"/><path d="M1824 2383l33 45l18-81l-33-51" fill="#c08cc3"/><path d="M1951 2096l33 78l19-27l-33-79" fill="#cc5995"/><path d="M1875 2347l34 58l18-71l-33-65" fill="#c287be"/><path d="M1922 2984l32 16l20-24l-33-18" fill="#3d5fd2"/><path d="M1648 3004l33 10l19-23l-32-11" fill="#385ad1"/><path d="M1937 2000l33 68l19-10l-33-68" fill="#ce407e"/><path d="M1758 2324l33 24l18-91l-33-26" fill="#c67eb5"/><path d="M2006 2992l33 15l20-21l-33-17" fill="#3a5bd1"/><path d="M1785 2991l33 13l19-25l-33-15" fill="#3d5ed2"/><path d="M1791 2348l33 35l18-87l-33-39" fill="#c484bb"/><path d="M2091 3001l33 14l19-19l-32-15" fill="#3657d0"/><path d="M1460 3026l32 9l20-18l-33-9" fill="#3152cf"/><path d="M1596 3015l33 10l19-21l-32-10" fill="#3557d0"/><path d="M2176 3010l33 12l19-17l-33-14" fill="#3354cf"/><path d="M1870 2994l32 14l20-24l-33-16" fill="#3c5dd1"/><path d="M1733 3003l32 12l20-24l-33-13" fill="#3a5bd1"/><path d="M1894 2269l33 65l19-65l-33-70" fill="#c87ab1"/><path d="M2261 3017l33 11l19-17l-33-11" fill="#3152cf"/><path d="M1932 2140l33 75l19-41l-33-78" fill="#cc619b"/><path d="M1954 3000l33 14l19-22l-32-16" fill="#3a5bd1"/><path d="M1544 3026l32 9l20-20l-32-9" fill="#3354cf"/><path d="M1913 2199l33 70l19-54l-33-75" fill="#cc6da5"/><path d="M2039 3007l33 14l19-20l-32-15" fill="#3758d0"/><path d="M1842 2296l33 51l19-78l-33-56" fill="#c87cb3"/><path d="M1681 3014l32 11l20-22l-33-12" fill="#3759d0"/><path d="M1730 2134l32-5l19-80l-33 5" fill="#cc4e8b"/><path d="M1744 2219l32 12l19-90l-33-12" fill="#cc659f"/><path d="M1818 3004l32 13l20-23l-33-15" fill="#3a5cd1"/><path d="M1838 1901l32 13l20-9l-33-13" fill="#d61b5c"/><path d="M2124 3015l33 12l19-17l-33-14" fill="#3455cf"/><path d="M1903 1948l34 52l19-10l-33-52" fill="#d22c69"/><path d="M1786 1939l32-8l20-30l-33 8" fill="#d51f5e"/><path d="M1492 3035l32 9l20-18l-32-9" fill="#3152cf"/><path d="M2209 3022l33 11l19-16l-33-12" fill="#3152cf"/><path d="M1902 3008l33 13l19-21l-32-16" fill="#395ad1"/><path d="M1629 3025l32 10l20-21l-33-10" fill="#3556d0"/><path d="M1765 3015l33 11l20-22l-33-13" fill="#3859d0"/><path d="M1870 1914l33 34l20-10l-33-33" fill="#d5205f"/><path d="M1917 2029l34 67l19-28l-33-68" fill="#cd4280"/><path d="M1809 2257l33 39l19-83l-33-43" fill="#cc73aa"/><path d="M1776 2231l33 26l19-87l-33-29" fill="#cc69a2"/><path d="M1987 3014l33 13l19-20l-33-15" fill="#3758d0"/><path d="M1748 2054l33-5l18-68l-32 7" fill="#cf3876"/><path d="M2072 3021l33 12l19-18l-33-14" fill="#3455d0"/><path d="M1861 2213l33 56l19-70l-34-60" fill="#cc6ba3"/><path d="M1576 3035l33 10l20-20l-33-10" fill="#3354cf"/><path d="M1767 1988l32-7l19-50l-32 8" fill="#d32764"/><path d="M1850 3017l33 13l19-22l-32-14" fill="#3859d0"/><path d="M1713 3025l33 11l19-21l-32-12" fill="#3657d0"/><path d="M2157 3027l33 12l19-17l-33-12" fill="#3253cf"/><path d="M1935 3021l33 13l19-20l-33-14" fill="#3658d0"/><path d="M1762 2129l33 12l18-80l-32-12" fill="#cc4d8a"/><path d="M1898 2076l34 64l19-44l-34-67" fill="#cc4b88"/><path d="M1879 2139l34 60l19-59l-34-64" fill="#cc5894"/><path d="M1524 3044l33 10l19-19l-32-9" fill="#3152cf"/><path d="M1798 3026l33 12l19-21l-32-13" fill="#3658d0"/><path d="M1661 3035l33 10l19-20l-32-11" fill="#3455cf"/><path d="M2020 3027l33 12l19-18l-33-14" fill="#3456d0"/><path d="M1818 1931l33 13l19-30l-32-13" fill="#d61d5d"/><path d="M1884 1978l33 51l20-29l-34-52" fill="#d12e6c"/><path d="M1828 2170l33 43l18-74l-33-47" fill="#cc5b96"/><path d="M2105 3033l33 12l19-18l-33-12" fill="#3253cf"/><path d="M1883 3030l33 12l19-21l-33-13" fill="#3657d0"/><path d="M1795 2141l33 29l18-78l-33-31" fill="#cc518e"/><path d="M1746 3036l33 11l19-21l-33-11" fill="#3556d0"/><path d="M1609 3045l32 9l20-19l-32-10" fill="#3253cf"/><path d="M1851 1944l33 34l19-30l-33-34" fill="#d42260"/><path d="M1781 2049l32 12l19-67l-33-13" fill="#d03674"/><path d="M1968 3034l33 12l19-19l-33-13" fill="#3456d0"/><path d="M1799 1981l33 13l19-50l-33-13" fill="#d32563"/><path d="M1846 2092l33 47l19-63l-33-50" fill="#cc4785"/><path d="M1865 2026l33 50l19-47l-33-51" fill="#d03875"/><path d="M1831 3038l32 11l20-19l-33-13" fill="#3556d0"/><path d="M2053 3039l33 12l19-18l-33-12" fill="#3254cf"/><path d="M1694 3045l32 11l20-20l-33-11" fill="#3354cf"/><path d="M1557 3054l32 9l20-18l-33-10" fill="#3152cf"/><path d="M1813 2061l33 31l19-66l-33-32" fill="#cf3b79"/><path d="M1832 1994l33 32l19-48l-33-34" fill="#d22b68"/><path d="M2138 3045l33 11l19-17l-33-12" fill="#3152cf"/><path d="M1916 3042l32 11l20-19l-33-13" fill="#3455cf"/><path d="M1779 3047l32 11l20-20l-33-12" fill="#3355cf"/><path d="M1641 3054l33 10l20-19l-33-10" fill="#3253cf"/><path d="M2001 3046l32 11l20-18l-33-12" fill="#3354cf"/><path d="M1863 3049l33 12l20-19l-33-12" fill="#3354cf"/><path d="M2086 3051l32 11l20-17l-33-12" fill="#3152cf"/><path d="M1726 3056l33 10l20-19l-33-11" fill="#3254cf"/><path d="M1589 3063l33 9l19-18l-32-9" fill="#3152cf"/><path d="M1948 3053l33 11l20-18l-33-12" fill="#3254cf"/><path d="M1811 3058l33 10l19-19l-32-11" fill="#3254cf"/><path d="M1674 3064l33 10l19-18l-32-11" fill="#3152cf"/><path d="M2033 3057l33 11l20-17l-33-12" fill="#3152cf"/><path d="M1896 3061l33 10l19-18l-32-11" fill="#3253cf"/><path d="M1759 3066l33 10l19-18l-32-11" fill="#3253cf"/><path d="M1981 3064l33 11l19-18l-32-11" fill="#3152cf"/><path d="M1844 3068l33 11l19-18l-33-12" fill="#3153cf"/><path d="M1707 3074l32 10l20-18l-33-10" fill="#3152cf"/><path d="M1929 3071l33 11l19-18l-33-11" fill="#3152cf"/><path d="M1792 3076l32 10l20-18l-33-10" fill="#3152cf"/><path d="M1877 3079l32 10l20-18l-33-10" fill="#3152cf"/></g></g>
<g filter="url(#sm)"><g transform="scale(.1)" shape-rendering="crispEdges" fill-opacity="0.46"><path d="M3329 2467l33 6l17-12l-32-7" fill="#2f50ce"/><path d="M3411 2468l33 7l17-12l-32-8" fill="#2f50ce"/><path d="M3280 2472l32 7l17-12l-32-8" fill="#2f50ce"/><path d="M3493 2470l33 8l17-13l-33-7" fill="#2f50ce"/><path d="M3362 2473l32 7l17-12l-32-7" fill="#3051cf"/><path d="M3230 2478l32 7l18-13l-33-7" fill="#3050ce"/><path d="M3444 2475l32 7l17-12l-32-7" fill="#3051cf"/><path d="M3312 2479l32 6l18-12l-33-6" fill="#3051cf"/><path d="M3180 2485l33 6l17-13l-32-7" fill="#2f50ce"/><path d="M3526 2478l32 7l17-12l-32-8" fill="#3050cf"/><path d="M3394 2480l33 6l17-11l-33-7" fill="#3051cf"/><path d="M3608 2481l33 8l16-13l-32-8" fill="#2f50ce"/><path d="M3262 2485l33 5l17-11l-32-7" fill="#3051cf"/><path d="M3130 2491l33 6l17-12l-32-7" fill="#2f50ce"/><path d="M3476 2482l33 6l17-10l-33-8" fill="#3051cf"/><path d="M3344 2485l33 5l17-10l-32-7" fill="#3152cf"/><path d="M3558 2485l33 7l17-11l-33-8" fill="#3051cf"/><path d="M3213 2491l32 5l17-11l-32-7" fill="#3051cf"/><path d="M3081 2498l32 6l17-13l-32-7" fill="#2f50ce"/><path d="M3427 2486l32 5l17-9l-32-7" fill="#3152cf"/><path d="M3641 2489l32 8l17-13l-33-8" fill="#2f50ce"/><path d="M3295 2490l32 5l17-10l-32-6" fill="#3152cf"/><path d="M3163 2497l32 6l18-12l-33-6" fill="#3051cf"/><path d="M3509 2488l32 7l17-10l-32-7" fill="#3152cf"/><path d="M3377 2490l32 5l18-9l-33-6" fill="#3252cf"/><path d="M3591 2492l33 8l17-11l-33-8" fill="#3051cf"/><path d="M3245 2496l32 4l18-10l-33-5" fill="#3252cf"/><path d="M3113 2504l32 6l18-13l-33-6" fill="#3051cf"/><path d="M3673 2497l33 8l17-12l-33-9" fill="#2f50ce"/><path d="M3459 2491l33 6l17-9l-33-6" fill="#3253cf"/><path d="M3327 2495l33 3l17-8l-33-5" fill="#3353cf"/><path d="M3195 2503l33 4l17-11l-32-5" fill="#3252cf"/><path d="M3063 2511l32 6l18-13l-32-6" fill="#3050ce"/><path d="M3541 2495l33 6l17-9l-33-7" fill="#3252cf"/><path d="M3624 2500l32 7l17-10l-32-8" fill="#3151cf"/><path d="M3409 2495l33 4l17-8l-32-5" fill="#3354d0"/><path d="M3013 2518l32 6l18-13l-32-7" fill="#2f50ce"/><path d="M3145 2510l33 4l17-11l-32-6" fill="#3152cf"/><path d="M3277 2500l33 3l17-8l-32-5" fill="#3353d0"/><path d="M3706 2505l32 8l17-12l-32-8" fill="#2f50ce"/><path d="M3492 2497l32 5l17-7l-32-7" fill="#3353d0"/><path d="M3574 2501l33 7l17-8l-33-8" fill="#3252cf"/><path d="M3360 2498l32 3l17-6l-32-5" fill="#3555d0"/><path d="M3095 2517l33 4l17-11l-32-6" fill="#3151cf"/><path d="M3228 2507l32 2l17-9l-32-4" fill="#3353d0"/><path d="M3656 2507l33 8l17-10l-33-8" fill="#3151cf"/><path d="M3442 2499l33 4l17-6l-33-6" fill="#3555d0"/><path d="M3738 2513l33 8l17-12l-33-8" fill="#2f50ce"/><path d="M3045 2524l33 6l17-13l-32-6" fill="#3051cf"/><path d="M3178 2514l32 2l18-9l-33-4" fill="#3353d0"/><path d="M3310 2503l33 2l17-7l-33-3" fill="#3555d0"/><path d="M3524 2502l33 6l17-7l-33-6" fill="#3454d0"/><path d="M3607 2508l32 8l17-9l-32-7" fill="#3253cf"/><path d="M2995 2532l33 6l17-14l-32-6" fill="#3050ce"/><path d="M3128 2521l32 3l18-10l-33-4" fill="#3253cf"/><path d="M3392 2501l33 3l17-5l-33-4" fill="#3656d1"/><path d="M3689 2515l33 8l16-10l-32-8" fill="#3151cf"/><path d="M3260 2509l33 1l17-7l-33-3" fill="#3655d0"/><path d="M3771 2521l33 9l17-12l-33-9" fill="#2f50ce"/><path d="M3475 2503l32 4l17-5l-32-5" fill="#3656d1"/><path d="M2945 2539l33 7l17-14l-32-7" fill="#2f50ce"/><path d="M3078 2530l32 3l18-12l-33-4" fill="#3252cf"/><path d="M3557 2508l33 6l17-6l-33-7" fill="#3555d0"/><path d="M3210 2516l33 0l17-7l-32-2" fill="#3655d0"/><path d="M3343 2505l32 0l17-4l-32-3" fill="#3857d1"/><path d="M3639 2516l33 7l17-8l-33-8" fill="#3353cf"/><path d="M3028 2538l32 4l18-12l-33-6" fill="#3151cf"/><path d="M3722 2523l32 9l17-11l-33-8" fill="#3151cf"/><path d="M3425 2504l33 1l17-2l-33-4" fill="#3958d1"/><path d="M3160 2524l33 1l17-9l-32-2" fill="#3555d0"/><path d="M3804 2530l33 9l17-13l-33-8" fill="#2f50ce"/><path d="M3293 2510l32-1l18-4l-33-2" fill="#3958d1"/><path d="M3507 2507l33 4l17-3l-33-6" fill="#3857d1"/><path d="M2978 2546l32 5l18-13l-33-6" fill="#3051cf"/><path d="M3590 2514l32 7l17-5l-32-8" fill="#3655d0"/><path d="M3110 2533l33 1l17-10l-32-3" fill="#3454d0"/><path d="M3672 2523l33 8l17-8l-33-8" fill="#3353d0"/><path d="M3754 2532l33 9l17-11l-33-9" fill="#3151cf"/><path d="M3375 2505l33 0l17-1l-33-3" fill="#3c5bd2"/><path d="M3243 2516l32-2l18-4l-33-1" fill="#3958d1"/><path d="M2927 2553l33 6l18-13l-33-7" fill="#2f50ce"/><path d="M3060 2542l32 2l18-11l-32-3" fill="#3353cf"/><path d="M3837 2539l33 9l16-13l-32-9" fill="#2f50ce"/><path d="M3458 2505l33 2l16 0l-32-4" fill="#3c5bd2"/><path d="M3193 2525l32-3l18-6l-33 0" fill="#3858d1"/><path d="M3540 2511l33 5l17-2l-33-6" fill="#3958d1"/><path d="M3010 2551l32 3l18-12l-32-4" fill="#3152cf"/><path d="M3622 2521l33 7l17-5l-33-7" fill="#3656d0"/><path d="M3325 2509l33-3l17-1l-32 0" fill="#3f5dd3"/><path d="M3705 2531l32 9l17-8l-32-9" fill="#3353cf"/><path d="M3787 2541l33 9l17-11l-33-9" fill="#3051cf"/><path d="M3143 2534l32-2l18-7l-33-1" fill="#3757d1"/><path d="M2960 2559l32 5l18-13l-32-5" fill="#3051cf"/><path d="M3408 2505l33-1l17 1l-33-1" fill="#4260d4"/><path d="M3275 2514l33-4l17-1l-32 1" fill="#405ed4"/><path d="M3092 2544l33-1l18-9l-33-1" fill="#3655d0"/><path d="M3491 2507l32 2l17 2l-33-4" fill="#415fd4"/><path d="M2910 2567l32 6l18-14l-33-6" fill="#3050ce"/><path d="M3573 2516l33 5l16 0l-32-7" fill="#3b5ad2"/><path d="M3655 2528l33 8l17-5l-33-8" fill="#3656d1"/><path d="M3737 2540l33 9l17-8l-33-9" fill="#3353cf"/><path d="M3042 2554l33 1l17-11l-32-2" fill="#3454d0"/><path d="M3820 2550l33 9l17-11l-33-9" fill="#3051cf"/><path d="M3225 2522l33-5l17-3l-32 2" fill="#405ed4"/><path d="M3358 2506l33-4l17 3l-33 0" fill="#4764d6"/><path d="M2992 2564l33 3l17-13l-32-3" fill="#3253cf"/><path d="M3175 2532l33-5l17-5l-32 3" fill="#3d5cd3"/><path d="M3441 2504l33-2l17 5l-33-2" fill="#4966d7"/><path d="M3688 2536l33 9l16-5l-32-9" fill="#3656d1"/><path d="M3770 2549l33 10l17-9l-33-9" fill="#3253cf"/><path d="M2942 2573l32 4l18-13l-32-5" fill="#3151cf"/><path d="M3606 2521l32 7l17 0l-33-7" fill="#3c5bd2"/><path d="M3523 2509l33 3l17 4l-33-5" fill="#4562d5"/><path d="M3125 2543l33-4l17-7l-32 2" fill="#3a59d2"/><path d="M3308 2510l33-7l17 3l-33 3" fill="#4a67d7"/><path d="M3853 2559l33 9l16-12l-32-8" fill="#3051cf"/><path d="M3075 2555l32-2l18-10l-33 1" fill="#3757d1"/><path d="M2892 2581l32 6l18-14l-32-6" fill="#3050cf"/><path d="M3258 2517l33-8l17 1l-33 4" fill="#4a67d7"/><path d="M3391 2502l33-5l17 7l-33 1" fill="#506cd9"/><path d="M3025 2567l32-1l18-11l-33-1" fill="#3555d0"/><path d="M3721 2545l33 10l16-6l-33-9" fill="#3656d0"/><path d="M3803 2559l33 10l17-10l-33-9" fill="#3252cf"/><path d="M3638 2528l33 8l17 0l-33-8" fill="#3d5cd3"/><path d="M3886 2568l32 10l17-13l-33-9" fill="#3050ce"/><path d="M3474 2502l33 0l16 7l-32-2" fill="#4f6bd9"/><path d="M2974 2577l33 2l18-12l-33-3" fill="#3353cf"/><path d="M3556 2512l33 4l17 5l-33-5" fill="#4865d6"/><path d="M3208 2527l33-9l17-1l-33 5" fill="#4865d7"/><path d="M3158 2539l33-8l17-4l-33 5" fill="#4462d5"/><path d="M2924 2587l32 4l18-14l-32-4" fill="#3152cf"/><path d="M3341 2503l33-7l17 6l-33 4" fill="#5571db"/><path d="M3754 2555l32 10l17-6l-33-10" fill="#3555d0"/><path d="M3836 2569l33 10l17-11l-33-9" fill="#3152cf"/><path d="M3107 2553l33-7l18-7l-33 4" fill="#3f5dd3"/><path d="M3671 2536l33 9l17 0l-33-9" fill="#3d5bd3"/><path d="M3918 2578l33 9l17-13l-33-9" fill="#2f50ce"/><path d="M2874 2596l32 5l18-14l-32-6" fill="#3051cf"/><path d="M3057 2566l33-4l17-9l-32 2" fill="#3958d1"/><path d="M3424 2497l33-4l17 9l-33 2" fill="#5a75dc"/><path d="M3589 2516l33 6l16 6l-32-7" fill="#4a67d7"/><path d="M3291 2509l33-11l17 5l-33 7" fill="#5873db"/><path d="M3507 2502l33 1l16 9l-33-3" fill="#5570db"/><path d="M3007 2579l32-1l18-12l-32 1" fill="#3656d0"/><path d="M3786 2565l33 11l17-7l-33-10" fill="#3555d0"/><path d="M3869 2579l33 10l16-11l-32-10" fill="#3151cf"/><path d="M2956 2591l33 1l18-13l-33-2" fill="#3354d0"/><path d="M3241 2518l33-12l17 3l-33 8" fill="#5772db"/><path d="M3704 2545l33 11l17-1l-33-10" fill="#3c5bd2"/><path d="M2906 2601l33 4l17-14l-32-4" fill="#3152cf"/><path d="M3374 2496l33-9l17 10l-33 5" fill="#627ddf"/><path d="M3191 2531l32-13l18 0l-33 9" fill="#526eda"/><path d="M3622 2522l33 8l16 6l-33-8" fill="#4b68d7"/><path d="M3140 2546l33-12l18-3l-33 8" fill="#4c68d8"/><path d="M3540 2503l33 3l16 10l-33-4" fill="#5a75dc"/><path d="M3819 2576l33 11l17-8l-33-10" fill="#3454d0"/><path d="M3457 2493l33-4l17 13l-33 0" fill="#637edf"/><path d="M2856 2610l32 6l18-15l-32-5" fill="#3051cf"/><path d="M3902 2589l33 10l16-12l-33-9" fill="#3051cf"/><path d="M3090 2562l33-9l17-7l-33 7" fill="#4462d5"/><path d="M3737 2556l33 11l16-2l-32-10" fill="#3a59d2"/><path d="M3039 2578l33-6l18-10l-33 4" fill="#3c5bd2"/><path d="M3324 2498l33-12l17 10l-33 7" fill="#6882e0"/><path d="M2989 2592l33-2l17-12l-32 1" fill="#3757d1"/><path d="M3655 2530l33 10l16 5l-33-9" fill="#4b67d7"/><path d="M2939 2605l32 1l18-14l-33-1" fill="#3454d0"/><path d="M3852 2587l33 11l17-9l-33-10" fill="#3353cf"/><path d="M3935 2599l33 10l16-13l-33-9" fill="#3050cf"/><path d="M3274 2506l33-15l17 7l-33 11" fill="#6883e1"/><path d="M3770 2567l33 12l16-3l-33-11" fill="#3958d1"/><path d="M3573 2506l32 5l17 11l-33-6" fill="#5d79dd"/><path d="M2888 2616l33 3l18-14l-33-4" fill="#3152cf"/><path d="M3407 2487l33-8l17 14l-33 4" fill="#6f8ae3"/><path d="M3490 2489l33-1l17 15l-33-1" fill="#6c86e2"/><path d="M3223 2518l34-16l17 4l-33 12" fill="#6580df"/><path d="M3688 2540l32 11l17 5l-33-11" fill="#4966d7"/><path d="M2838 2625l32 5l18-14l-32-6" fill="#3051cf"/><path d="M3173 2534l33-16l17 0l-32 13" fill="#5d79dd"/><path d="M3885 2598l33 12l17-11l-33-10" fill="#3252cf"/><path d="M3123 2553l33-14l17-5l-33 12" fill="#536fda"/><path d="M3072 2572l33-11l18-8l-33 9" fill="#4966d7"/><path d="M3803 2579l32 13l17-5l-33-11" fill="#3757d1"/><path d="M3968 2609l33 10l16-13l-33-10" fill="#2f50ce"/><path d="M3022 2590l32-7l18-11l-33 6" fill="#3e5dd3"/><path d="M2971 2606l33-3l18-13l-33 2" fill="#3857d1"/><path d="M3357 2486l33-13l17 14l-33 9" fill="#7892e5"/><path d="M3605 2511l33 7l17 12l-33-8" fill="#5f7ade"/><path d="M2921 2619l32 1l18-14l-32-1" fill="#3454d0"/><path d="M3720 2551l33 13l17 3l-33-11" fill="#4764d6"/><path d="M3523 2488l33 0l17 18l-33-3" fill="#738de4"/><path d="M3918 2610l33 10l17-11l-33-10" fill="#3152cf"/><path d="M3440 2479l34-8l16 18l-33 4" fill="#7c96e7"/><path d="M2870 2630l33 4l18-15l-33-3" fill="#3252cf"/><path d="M3835 2592l33 13l17-7l-33-11" fill="#3656d0"/><path d="M3307 2491l33-18l17 13l-33 12" fill="#7c96e7"/><path d="M3638 2518l33 10l17 12l-33-10" fill="#5f7ade"/><path d="M2820 2640l32 5l18-15l-32-5" fill="#3051cf"/><path d="M3753 2564l33 15l17 0l-33-12" fill="#4361d5"/><path d="M3257 2502l33-20l17 9l-33 15" fill="#7a94e6"/><path d="M3951 2620l33 11l17-12l-33-10" fill="#3051cf"/><path d="M3868 2605l33 13l17-8l-33-12" fill="#3454d0"/><path d="M3004 2603l33-8l17-12l-32 7" fill="#415fd4"/><path d="M3054 2583l33-13l18-9l-33 11" fill="#4d69d8"/><path d="M3206 2518l33-20l18 4l-34 16" fill="#748ee4"/><path d="M3105 2561l33-17l18-5l-33 14" fill="#5b76dc"/><path d="M2953 2620l33-3l18-14l-33 3" fill="#3857d1"/><path d="M3156 2539l33-20l17-1l-33 16" fill="#6883e1"/><path d="M3556 2488l33 4l16 19l-32-5" fill="#7791e5"/><path d="M3390 2473l34-13l16 19l-33 8" fill="#869de8"/><path d="M2903 2634l32 1l18-15l-32-1" fill="#3454d0"/><path d="M3786 2579l33 14l16-1l-32-13" fill="#3f5dd3"/><path d="M3671 2528l33 13l16 10l-32-11" fill="#5c77dd"/><path d="M3474 2471l33-4l16 21l-33 1" fill="#849ce8"/><path d="M2852 2645l33 4l18-15l-33-4" fill="#3152cf"/><path d="M3901 2618l33 12l17-10l-33-10" fill="#3353cf"/><path d="M3984 2631l33 10l17-13l-33-9" fill="#3050ce"/><path d="M2802 2655l32 6l18-16l-32-5" fill="#3050cf"/><path d="M3819 2593l33 16l16-4l-33-13" fill="#3a59d2"/><path d="M3704 2541l33 15l16 8l-33-13" fill="#5873dc"/><path d="M3340 2473l34-17l16 17l-33 13" fill="#8ba1e9"/><path d="M3589 2492l33 8l16 18l-33-7" fill="#7993e6"/><path d="M2986 2617l33-8l18-14l-33 8" fill="#4260d4"/><path d="M3934 2630l33 12l17-11l-33-11" fill="#3252cf"/><path d="M2935 2635l33-3l18-15l-33 3" fill="#3858d1"/><path d="M3037 2595l32-14l18-11l-33 13" fill="#506cd9"/><path d="M4017 2641l33 10l17-14l-33-9" fill="#2f50ce"/><path d="M3290 2482l33-22l17 13l-33 18" fill="#8ca2e9"/><path d="M2885 2649l32 1l18-15l-32-1" fill="#3454d0"/><path d="M3852 2609l33 14l16-5l-33-13" fill="#3857d1"/><path d="M3737 2556l33 17l16 6l-33-15" fill="#536eda"/><path d="M3507 2467l33-2l16 23l-33 0" fill="#8ba1e9"/><path d="M3424 2460l33-11l17 22l-34 8" fill="#91a5ea"/><path d="M3087 2570l33-19l18-7l-33 17" fill="#617cde"/><path d="M3138 2544l33-23l18-2l-33 20" fill="#738de4"/><path d="M3239 2498l34-25l17 9l-33 20" fill="#889fe9"/><path d="M2834 2661l33 4l18-16l-33-4" fill="#3152cf"/><path d="M3622 2500l33 10l16 18l-33-10" fill="#7993e6"/><path d="M3189 2519l33-25l17 4l-33 20" fill="#819ae8"/><path d="M3967 2642l33 11l17-12l-33-10" fill="#3151cf"/><path d="M3770 2573l32 17l17 3l-33-14" fill="#4d69d8"/><path d="M2784 2670l32 6l18-15l-32-6" fill="#3050ce"/><path d="M3885 2623l32 15l17-8l-33-12" fill="#3655d0"/><path d="M3655 2510l33 15l16 16l-33-13" fill="#7690e5"/><path d="M3374 2456l33-17l17 21l-34 13" fill="#99aceb"/><path d="M3540 2465l33 3l16 24l-33-4" fill="#8fa4e9"/><path d="M2917 2650l33-2l18-16l-33 3" fill="#3857d1"/><path d="M2968 2632l33-8l18-15l-33 8" fill="#4260d4"/><path d="M3802 2590l33 18l17 1l-33-16" fill="#4663d6"/><path d="M2867 2665l32 1l18-16l-32-1" fill="#3454d0"/><path d="M3019 2609l33-15l17-13l-32 14" fill="#526dda"/><path d="M3917 2638l33 13l17-9l-33-12" fill="#3454d0"/><path d="M4000 2653l33 11l17-13l-33-10" fill="#3051cf"/><path d="M3457 2449l33-8l17 26l-33 4" fill="#9aaceb"/><path d="M2816 2676l33 5l18-16l-33-4" fill="#3151cf"/><path d="M3069 2581l34-20l17-10l-33 19" fill="#6681e0"/><path d="M3688 2525l33 17l16 14l-33-15" fill="#708ae3"/><path d="M3835 2608l33 18l17-3l-33-14" fill="#405ed4"/><path d="M3323 2460l34-22l17 18l-34 17" fill="#9daeeb"/><path d="M3120 2551l34-25l17-5l-33 23" fill="#7b95e6"/><path d="M2765 2685l33 6l18-15l-32-6" fill="#2f50ce"/><path d="M3950 2651l33 13l17-11l-33-11" fill="#3253cf"/><path d="M3573 2468l33 7l16 25l-33-8" fill="#91a5ea"/><path d="M4033 2664l34 10l16-14l-33-9" fill="#2f50ce"/><path d="M3273 2473l33-26l17 13l-33 22" fill="#9cadeb"/><path d="M3171 2521l34-28l17 1l-33 25" fill="#8aa0e9"/><path d="M3721 2542l32 19l17 12l-33-17" fill="#6883e1"/><path d="M3222 2494l34-28l17 7l-34 25" fill="#95a8ea"/><path d="M3868 2626l33 17l16-5l-32-15" fill="#3a59d2"/><path d="M2899 2666l33-1l18-17l-33 2" fill="#3757d1"/><path d="M2950 2648l33-8l18-16l-33 8" fill="#415fd4"/><path d="M2849 2681l32 2l18-17l-32-1" fill="#3353d0"/><path d="M3407 2439l34-15l16 25l-33 11" fill="#a7b5ec"/><path d="M3001 2624l33-14l18-16l-33 15" fill="#526eda"/><path d="M3753 2561l33 21l16 8l-32-17" fill="#5f7ade"/><path d="M3490 2441l34-3l16 27l-33 2" fill="#a2b2ec"/><path d="M3983 2664l34 12l16-12l-33-11" fill="#3151cf"/><path d="M2798 2691l32 5l19-15l-33-5" fill="#3151cf"/><path d="M3606 2475l33 12l16 23l-33-10" fill="#90a5ea"/><path d="M3901 2643l33 16l16-8l-33-13" fill="#3756d1"/><path d="M3052 2594l33-20l18-13l-34 20" fill="#6883e1"/><path d="M3786 2582l33 21l16 5l-33-18" fill="#5671db"/><path d="M2747 2700l33 7l18-16l-33-6" fill="#2f50ce"/><path d="M3103 2561l33-27l18-8l-34 25" fill="#8099e7"/><path d="M4017 2676l33 11l17-13l-34-10" fill="#3051cf"/><path d="M3357 2438l33-21l17 22l-33 17" fill="#acb6eb"/><path d="M3934 2659l33 15l16-10l-33-13" fill="#3454d0"/><path d="M3639 2487l33 15l16 23l-33-15" fill="#8da3e9"/><path d="M3819 2603l32 22l17 1l-33-18" fill="#4c69d8"/><path d="M2881 2683l33-1l18-17l-33 1" fill="#3656d1"/><path d="M2932 2665l33-7l18-18l-33 8" fill="#3f5ed3"/><path d="M3524 2438l33 1l16 29l-33-3" fill="#a7b6ec"/><path d="M2830 2696l33 4l18-17l-32-2" fill="#3253cf"/><path d="M3154 2526l33-30l18-3l-34 28" fill="#91a6ea"/><path d="M2983 2640l33-13l18-17l-33 14" fill="#516dd9"/><path d="M3851 2625l33 20l17-2l-33-17" fill="#4461d5"/><path d="M3672 2502l33 20l16 20l-33-17" fill="#889fe9"/><path d="M3306 2447l34-27l17 18l-34 22" fill="#adb5ea"/><path d="M3441 2424l33-11l16 28l-33 8" fill="#afb5ea"/><path d="M2780 2707l32 6l18-17l-32-5" fill="#3051cf"/><path d="M3967 2674l33 13l17-11l-34-12" fill="#3353cf"/><path d="M3205 2493l33-31l18 4l-34 28" fill="#a0b0ec"/><path d="M4050 2687l33 10l17-14l-33-9" fill="#2f50ce"/><path d="M3256 2466l33-30l17 11l-33 26" fill="#aab6ec"/><path d="M3034 2610l33-21l18-15l-33 20" fill="#6984e1"/><path d="M3705 2522l32 23l16 16l-32-19" fill="#829ae8"/><path d="M3884 2645l33 19l17-5l-33-16" fill="#3c5bd2"/><path d="M3557 2439l33 7l16 29l-33-7" fill="#a9b6ec"/><path d="M3737 2545l33 24l16 13l-33-21" fill="#7791e5"/><path d="M4000 2687l33 12l17-12l-33-11" fill="#3152cf"/><path d="M2914 2682l33-5l18-19l-33 7" fill="#3d5cd3"/><path d="M2863 2700l33 0l18-18l-33 1" fill="#3555d0"/><path d="M3085 2574l33-28l18-12l-33 27" fill="#839be8"/><path d="M3917 2664l33 17l17-7l-33-15" fill="#3757d1"/><path d="M2812 2713l33 4l18-17l-33-4" fill="#3252cf"/><path d="M2965 2658l33-12l18-19l-33 13" fill="#4e6ad8"/><path d="M3390 2417l34-18l17 25l-34 15" fill="#b5b3e6"/><path d="M3770 2569l32 26l17 8l-33-21" fill="#6a85e1"/><path d="M3474 2413l33-5l17 30l-34 3" fill="#b4b4e7"/><path d="M2762 2722l32 7l18-16l-32-6" fill="#3050cf"/><path d="M3136 2534l33-32l18-6l-33 30" fill="#97aaea"/><path d="M3802 2595l33 25l16 5l-32-22" fill="#5d78dd"/><path d="M3590 2446l33 12l16 29l-33-12" fill="#a9b6ec"/><path d="M3016 2627l33-19l18-19l-33 21" fill="#6782e0"/><path d="M4033 2699l33 11l17-13l-33-10" fill="#3051cf"/><path d="M3950 2681l33 16l17-10l-33-13" fill="#3555d0"/><path d="M3835 2620l33 24l16 1l-33-20" fill="#506cd9"/><path d="M3340 2420l34-24l16 21l-33 21" fill="#b8b2e4"/><path d="M3187 2496l34-34l17 0l-33 31" fill="#a9b6ec"/><path d="M2896 2700l33-3l18-20l-33 5" fill="#3a59d2"/><path d="M2845 2717l33 1l18-18l-33 0" fill="#3454d0"/><path d="M3623 2458l33 18l16 26l-33-15" fill="#a6b5ec"/><path d="M3067 2589l33-27l18-16l-33 28" fill="#839ce8"/><path d="M3868 2644l32 23l17-3l-33-19" fill="#4663d6"/><path d="M2947 2677l33-10l18-21l-33 12" fill="#4a67d7"/><path d="M3983 2697l33 14l17-12l-33-12" fill="#3353cf"/><path d="M3289 2436l34-30l17 14l-34 27" fill="#b7b3e5"/><path d="M3238 2462l34-34l17 8l-33 30" fill="#b2b4e8"/><path d="M2794 2729l33 5l18-17l-33-4" fill="#3152cf"/><path d="M4066 2710l33 11l17-14l-33-10" fill="#2f50ce"/><path d="M3507 2408l34 0l16 31l-33-1" fill="#b8b2e5"/><path d="M3656 2476l33 22l16 24l-33-20" fill="#9fb0eb"/><path d="M2743 2738l33 7l18-16l-32-7" fill="#2f50ce"/><path d="M3900 2667l33 20l17-6l-33-17" fill="#3d5bd3"/><path d="M2998 2646l33-17l18-21l-33 19" fill="#637edf"/><path d="M3424 2399l34-14l16 28l-33 11" fill="#bdaee0"/><path d="M3689 2498l32 26l16 21l-32-23" fill="#97aaea"/><path d="M3118 2546l34-32l17-12l-33 32" fill="#9aaceb"/><path d="M4016 2711l33 12l17-13l-33-11" fill="#3151cf"/><path d="M3933 2687l33 18l17-8l-33-16" fill="#3757d1"/><path d="M2878 2718l32-1l19-20l-33 3" fill="#3857d1"/><path d="M3721 2524l33 28l16 17l-33-24" fill="#8ca2e9"/><path d="M2827 2734l32 3l19-19l-33-1" fill="#3353d0"/><path d="M2929 2697l32-8l19-22l-33 10" fill="#4663d6"/><path d="M3754 2552l32 30l16 13l-32-26" fill="#819ae8"/><path d="M3049 2608l33-26l18-20l-33 27" fill="#829ae8"/><path d="M3541 2408l33 6l16 32l-33-7" fill="#b9b1e3"/><path d="M2776 2745l32 5l19-16l-33-5" fill="#3051cf"/><path d="M3786 2582l33 30l16 8l-33-25" fill="#718ce3"/><path d="M3169 2502l34-36l18-4l-34 34" fill="#adb5ea"/><path d="M4049 2723l34 11l16-13l-33-11" fill="#3051cf"/><path d="M3374 2396l33-21l17 24l-34 18" fill="#c2aadc"/><path d="M3966 2705l33 16l17-10l-33-14" fill="#3454d0"/><path d="M3819 2612l32 29l17 3l-33-24" fill="#617cde"/><path d="M2980 2667l33-15l18-23l-33 17" fill="#5d79dd"/><path d="M3851 2641l33 27l16-1l-32-23" fill="#526eda"/><path d="M3458 2385l33-7l16 30l-33 5" fill="#c3a9dc"/><path d="M3221 2462l34-36l17 2l-34 34" fill="#b8b2e4"/><path d="M3100 2562l34-32l18-16l-34 32" fill="#9aaceb"/><path d="M3574 2414l33 13l16 31l-33-12" fill="#b9b1e4"/><path d="M3323 2406l34-28l17 18l-34 24" fill="#c3a9dc"/><path d="M3884 2668l33 24l16-5l-33-20" fill="#4663d6"/><path d="M2859 2737l33 0l18-20l-32 1" fill="#3656d1"/><path d="M3999 2721l33 14l17-12l-33-12" fill="#3253cf"/><path d="M3272 2428l34-33l17 11l-34 30" fill="#bfacde"/><path d="M2910 2717l33-5l18-23l-32 8" fill="#415fd4"/><path d="M4083 2734l33 11l17-15l-34-9" fill="#2f50ce"/><path d="M2808 2750l33 5l18-18l-32-3" fill="#3252cf"/><path d="M3031 2629l33-24l18-23l-33 26" fill="#7e98e7"/><path d="M3917 2692l32 21l17-8l-33-18" fill="#3c5bd2"/><path d="M2758 2760l32 7l18-17l-32-5" fill="#3051cf"/><path d="M2961 2689l33-12l19-25l-33 15" fill="#5672db"/><path d="M3607 2427l33 19l16 30l-33-18" fill="#b7b3e5"/><path d="M4032 2735l34 12l17-13l-34-11" fill="#3151cf"/><path d="M3152 2514l33-37l18-11l-34 36" fill="#afb5e9"/><path d="M3949 2713l33 18l17-10l-33-16" fill="#3756d1"/><path d="M3640 2446l33 25l16 27l-33-22" fill="#b2b4e8"/><path d="M3491 2378l34-1l16 31l-34 0" fill="#c7a5d8"/><path d="M3407 2375l34-16l17 26l-34 14" fill="#cca0d0"/><path d="M3082 2582l34-31l18-21l-34 32" fill="#98abeb"/><path d="M2841 2755l33 2l18-20l-33 0" fill="#3555d0"/><path d="M3673 2471l32 29l16 24l-32-26" fill="#acb6eb"/><path d="M3013 2652l33-21l18-26l-33 24" fill="#7690e5"/><path d="M2892 2737l33-2l18-23l-33 5" fill="#3b5ad2"/><path d="M3705 2500l33 33l16 19l-33-28" fill="#a2b2ec"/><path d="M3738 2533l32 34l16 15l-32-30" fill="#94a8ea"/><path d="M2790 2767l33 5l18-17l-33-5" fill="#3152cf"/><path d="M3770 2567l32 35l17 10l-33-30" fill="#859de8"/><path d="M3802 2602l33 33l16 6l-32-29" fill="#748ee4"/><path d="M4066 2747l33 11l17-13l-33-11" fill="#3050ce"/><path d="M3982 2731l34 16l16-12l-33-14" fill="#3454d0"/><path d="M2943 2712l33-10l18-25l-33 12" fill="#4f6bd9"/><path d="M3835 2635l32 32l17 1l-33-27" fill="#617cde"/><path d="M3203 2466l34-37l18-3l-34 36" fill="#bdaee1"/><path d="M2739 2776l33 7l18-16l-32-7" fill="#2f50ce"/><path d="M3867 2667l33 28l17-3l-33-24" fill="#506cd9"/><path d="M3357 2378l34-23l16 20l-33 21" fill="#d09bc9"/><path d="M3525 2377l33 6l16 31l-33-6" fill="#c9a3d4"/><path d="M3900 2695l33 24l16-6l-32-21" fill="#4461d5"/><path d="M3255 2426l34-35l17 4l-34 33" fill="#c6a6d9"/><path d="M4016 2747l33 13l17-13l-34-12" fill="#3252cf"/><path d="M2994 2677l34-18l18-28l-33 21" fill="#6d87e2"/><path d="M3134 2530l33-37l18-16l-33 37" fill="#b0b5e9"/><path d="M3064 2605l34-29l18-25l-34 31" fill="#94a8ea"/><path d="M3306 2395l34-29l17 12l-34 28" fill="#ce9dcc"/><path d="M2874 2757l33 0l18-22l-33 2" fill="#3858d1"/><path d="M2823 2772l33 4l18-19l-33-2" fill="#3353d0"/><path d="M3933 2719l33 21l16-9l-33-18" fill="#3a59d2"/><path d="M3441 2359l34-9l16 28l-33 7" fill="#d595c2"/><path d="M2925 2735l33-7l18-26l-33 10" fill="#4764d6"/><path d="M2772 2783l33 7l18-18l-33-5" fill="#3051cf"/><path d="M3558 2383l33 13l16 31l-33-13" fill="#c9a3d5"/><path d="M4049 2760l33 12l17-14l-33-11" fill="#3051cf"/><path d="M3966 2740l33 18l17-11l-34-16" fill="#3655d0"/><path d="M2976 2702l33-14l19-29l-34 18" fill="#627ddf"/><path d="M3046 2631l33-26l19-29l-34 29" fill="#8da3e9"/><path d="M3185 2477l34-38l18-10l-34 37" fill="#bfacdf"/><path d="M3591 2396l33 21l16 29l-33-19" fill="#c5a7d9"/><path d="M3116 2551l33-35l18-23l-33 37" fill="#aeb5ea"/><path d="M2856 2776l33 2l18-21l-33 0" fill="#3656d0"/><path d="M3818 2629l33 35l16 3l-32-32" fill="#718ce3"/><path d="M2907 2757l33-4l18-25l-33 7" fill="#405ed4"/><path d="M3999 2758l33 15l17-13l-33-13" fill="#3353cf"/><path d="M3851 2664l32 33l17-2l-33-28" fill="#5d78dd"/><path d="M3786 2590l32 39l17 6l-33-33" fill="#859de8"/><path d="M4082 2772l34 11l17-15l-34-10" fill="#2f50ce"/><path d="M3391 2355l33-17l17 21l-34 16" fill="#dc8cb6"/><path d="M2805 2790l32 5l19-19l-33-4" fill="#3252cf"/><path d="M3754 2551l32 39l16 12l-32-35" fill="#96a9ea"/><path d="M3624 2417l32 27l17 27l-33-25" fill="#c1abdd"/><path d="M3883 2697l33 28l17-6l-33-24" fill="#4c69d8"/><path d="M3475 2350l33-1l17 28l-34 1" fill="#da8eb9"/><path d="M3721 2512l33 39l16 16l-32-34" fill="#a7b6ec"/><path d="M3656 2444l33 32l16 24l-32-29" fill="#bab0e3"/><path d="M3689 2476l32 36l17 21l-33-33" fill="#b2b4e8"/><path d="M2754 2799l32 7l19-16l-33-7" fill="#3050ce"/><path d="M3237 2429l34-36l18-2l-34 35" fill="#cd9ece"/><path d="M2958 2728l33-10l18-30l-33 14" fill="#5772db"/><path d="M3028 2659l33-22l18-32l-33 26" fill="#849ce8"/><path d="M3916 2725l33 23l17-8l-33-21" fill="#405ed4"/><path d="M3340 2366l34-25l17 14l-34 23" fill="#dc8ab4"/><path d="M4032 2773l33 13l17-14l-33-12" fill="#3152cf"/><path d="M3289 2391l34-31l17 6l-34 29" fill="#d991bc"/><path d="M3098 2576l33-33l18-27l-33 35" fill="#abb6eb"/><path d="M3949 2748l33 20l17-10l-33-18" fill="#3857d1"/><path d="M3167 2493l34-37l18-17l-34 38" fill="#bfacde"/><path d="M2889 2778l32-1l19-24l-33 4" fill="#3959d2"/><path d="M2837 2795l33 3l19-20l-33-2" fill="#3454d0"/><path d="M3009 2688l34-18l18-33l-33 22" fill="#7993e6"/><path d="M3508 2349l34 6l16 28l-33-6" fill="#dc8bb5"/><path d="M2786 2806l33 7l18-18l-32-5" fill="#3151cf"/><path d="M2940 2753l33-6l18-29l-33 10" fill="#4c69d8"/><path d="M4065 2786l34 11l17-14l-34-11" fill="#3050cf"/><path d="M3982 2768l33 17l17-12l-33-15" fill="#3454d0"/><path d="M3424 2338l34-9l17 21l-34 9" fill="#e280a7"/><path d="M3079 2605l34-30l18-32l-33 33" fill="#a4b3ec"/><path d="M3834 2662l33 36l16-1l-32-33" fill="#6a85e1"/><path d="M3867 2698l32 32l17-5l-33-28" fill="#5671db"/><path d="M3802 2622l32 40l17 2l-33-35" fill="#819ae8"/><path d="M3219 2439l34-37l18-9l-34 36" fill="#d19ac8"/><path d="M2991 2718l33-14l19-34l-34 18" fill="#6b85e1"/><path d="M3542 2355l33 14l16 27l-33-13" fill="#dc8cb6"/><path d="M4015 2785l33 14l17-13l-33-13" fill="#3252cf"/><path d="M3899 2730l33 27l17-9l-33-23" fill="#4663d6"/><path d="M2870 2798l33 2l18-23l-32 1" fill="#3756d1"/><path d="M3770 2579l32 43l16 7l-32-39" fill="#94a8ea"/><path d="M3149 2516l34-37l18-23l-34 37" fill="#beade0"/><path d="M2819 2813l33 5l18-20l-33-3" fill="#3252cf"/><path d="M2921 2777l33-3l19-27l-33 6" fill="#4361d5"/><path d="M3737 2535l33 44l16 11l-32-39" fill="#a7b6ec"/><path d="M3932 2757l33 22l17-11l-33-20" fill="#3a59d2"/><path d="M3374 2341l33-17l17 14l-33 17" fill="#e57aa0"/><path d="M3061 2637l34-26l18-36l-34 30" fill="#99aceb"/><path d="M2768 2823l33 7l18-17l-33-7" fill="#3050cf"/><path d="M3575 2369l33 21l16 27l-33-21" fill="#d991bc"/><path d="M3271 2393l34-32l18-1l-34 31" fill="#de88b1"/><path d="M3705 2493l32 42l17 16l-33-39" fill="#b4b4e7"/><path d="M4048 2799l34 12l17-14l-34-11" fill="#3051cf"/><path d="M3323 2360l33-25l18 6l-34 25" fill="#e37da3"/><path d="M2973 2747l33-10l18-33l-33 14" fill="#5c77dd"/><path d="M3458 2329l34-2l16 22l-33 1" fill="#e6789d"/><path d="M3608 2390l32 29l16 25l-32-27" fill="#d299c7"/><path d="M3673 2453l32 40l16 19l-32-36" fill="#beaddf"/><path d="M3965 2779l33 18l17-12l-33-17" fill="#3656d0"/><path d="M3640 2419l33 34l16 23l-33-32" fill="#c7a5d7"/><path d="M3043 2670l33-21l19-38l-34 26" fill="#8da3e9"/><path d="M3131 2543l34-34l18-30l-34 37" fill="#bab0e3"/><path d="M2852 2818l33 4l18-22l-33-2" fill="#3454d0"/><path d="M2903 2800l33 0l18-26l-33 3" fill="#3b5ad2"/><path d="M3201 2456l34-37l18-17l-34 37" fill="#d299c7"/><path d="M2801 2830l33 6l18-18l-33-5" fill="#3151cf"/><path d="M3998 2797l33 15l17-13l-33-14" fill="#3353cf"/><path d="M4082 2811l33 11l17-15l-33-10" fill="#2f50ce"/><path d="M3850 2701l32 35l17-6l-32-32" fill="#5f7ade"/><path d="M2954 2774l34-5l18-32l-33 10" fill="#4f6bd9"/><path d="M3817 2661l33 40l17-3l-33-36" fill="#7791e5"/><path d="M3882 2736l33 29l17-8l-33-27" fill="#4d69d8"/><path d="M3024 2704l34-17l18-38l-33 21" fill="#819ae8"/><path d="M2750 2839l32 7l19-16l-33-7" fill="#2f50ce"/><path d="M3785 2617l32 44l17 1l-32-40" fill="#8ca2e9"/><path d="M3113 2575l34-31l18-35l-34 34" fill="#b5b3e7"/><path d="M3492 2327l33 6l17 22l-34-6" fill="#e6749a"/><path d="M3915 2765l33 24l17-10l-33-22" fill="#3f5dd3"/><path d="M3407 2324l34-10l17 15l-34 9" fill="#e76a93"/><path d="M4031 2812l34 13l17-14l-34-12" fill="#3151cf"/><path d="M3753 2570l32 47l17 5l-32-43" fill="#a2b2ec"/><path d="M3253 2402l34-32l18-9l-34 32" fill="#e083aa"/><path d="M2885 2822l33 2l18-24l-33 0" fill="#3756d1"/><path d="M3948 2789l33 20l17-12l-33-18" fill="#3757d1"/><path d="M3006 2737l33-12l19-38l-34 17" fill="#6f8ae3"/><path d="M2834 2836l33 5l18-19l-33-4" fill="#3253cf"/><path d="M2936 2800l33-2l19-29l-34 5" fill="#4462d5"/><path d="M3183 2479l34-35l18-25l-34 37" fill="#cf9ccb"/><path d="M3095 2611l33-28l19-39l-34 31" fill="#adb5ea"/><path d="M3356 2335l34-18l17 7l-33 17" fill="#e86891"/><path d="M3721 2522l32 48l17 9l-33-44" fill="#b2b4e8"/><path d="M3305 2361l34-25l17-1l-33 25" fill="#e77198"/><path d="M3525 2333l33 14l17 22l-33-14" fill="#e6759b"/><path d="M2782 2846l33 7l19-17l-33-6" fill="#3051cf"/><path d="M4065 2825l33 11l17-14l-33-11" fill="#3050ce"/><path d="M3981 2809l33 16l17-13l-33-15" fill="#3454d0"/><path d="M2988 2769l33-8l18-36l-33 12" fill="#5e79dd"/><path d="M3689 2476l32 46l16 13l-32-42" fill="#beaddf"/><path d="M3076 2649l34-24l18-42l-33 28" fill="#a2b2ec"/><path d="M3558 2347l33 21l17 22l-33-21" fill="#e47ba1"/><path d="M3865 2742l33 32l17-9l-33-29" fill="#536eda"/><path d="M3833 2705l32 37l17-6l-32-35" fill="#6883e1"/><path d="M3441 2314l34-1l17 14l-34 2" fill="#e9608b"/><path d="M3656 2434l33 42l16 17l-32-40" fill="#cba1d2"/><path d="M2867 2841l33 5l18-22l-33-2" fill="#3454d0"/><path d="M2918 2824l33 1l18-27l-33 2" fill="#3b5ad2"/><path d="M3165 2509l34-34l18-31l-34 35" fill="#c9a3d4"/><path d="M3898 2774l33 26l17-11l-33-24" fill="#4361d5"/><path d="M3801 2662l32 43l17-4l-33-40" fill="#829ae8"/><path d="M3591 2368l33 30l16 21l-32-29" fill="#df84ac"/><path d="M3624 2398l32 36l17 19l-33-34" fill="#d891bd"/><path d="M4014 2825l34 14l17-14l-34-13" fill="#3152cf"/><path d="M3058 2687l33-19l19-43l-34 24" fill="#92a6ea"/><path d="M2815 2853l33 7l19-19l-33-5" fill="#3151cf"/><path d="M3235 2419l34-32l18-17l-34 32" fill="#e182a9"/><path d="M2969 2798l33-4l19-33l-33 8" fill="#4f6bd9"/><path d="M3931 2800l33 22l17-13l-33-20" fill="#3958d1"/><path d="M3769 2614l32 48l16-1l-32-44" fill="#97aaea"/><path d="M2764 2862l33 8l18-17l-33-7" fill="#2f50ce"/><path d="M3039 2725l34-14l18-43l-33 19" fill="#839be8"/><path d="M3147 2544l34-32l18-37l-34 34" fill="#c2a9dc"/><path d="M3390 2317l34-9l17 6l-34 10" fill="#ea5885"/><path d="M4048 2839l33 12l17-15l-33-11" fill="#3051cf"/><path d="M3736 2564l33 50l16 3l-32-47" fill="#acb6eb"/><path d="M3964 2822l33 17l17-14l-33-16" fill="#3555d0"/><path d="M3287 2370l34-25l18-9l-34 25" fill="#e76a93"/><path d="M3475 2313l33 6l17 14l-33-6" fill="#ea5b87"/><path d="M2900 2846l33 3l18-24l-33-1" fill="#3756d1"/><path d="M3339 2336l34-17l17-2l-34 18" fill="#ea5b87"/><path d="M3021 2761l33-10l19-40l-34 14" fill="#6f8ae3"/><path d="M2848 2860l33 6l19-20l-33-5" fill="#3252cf"/><path d="M2951 2825l33-1l18-30l-33 4" fill="#4361d5"/><path d="M3128 2583l34-28l19-43l-34 32" fill="#bbb0e2"/><path d="M3217 2444l34-32l18-25l-34 32" fill="#df85ad"/><path d="M3704 2513l32 51l17 6l-32-48" fill="#bab0e3"/><path d="M3848 2751l33 34l17-11l-33-32" fill="#5873dc"/><path d="M2797 2870l33 8l18-18l-33-7" fill="#3050cf"/><path d="M3816 2711l32 40l17-9l-32-37" fill="#708ae3"/><path d="M3997 2839l34 14l17-14l-34-14" fill="#3252cf"/><path d="M3881 2785l33 27l17-12l-33-26" fill="#4764d6"/><path d="M3110 2625l33-24l19-46l-34 28" fill="#b1b4e8"/><path d="M3508 2319l33 13l17 15l-33-14" fill="#e95c88"/><path d="M3002 2794l34-5l18-38l-33 10" fill="#5c77dd"/><path d="M3784 2665l32 46l17-6l-32-43" fill="#889fe9"/><path d="M3914 2812l33 23l17-13l-33-22" fill="#3a59d2"/><path d="M3672 2465l32 48l17 9l-32-46" fill="#c7a5d7"/><path d="M3091 2668l34-20l18-47l-33 24" fill="#a4b4ec"/><path d="M3424 2308l34-1l17 6l-34 1" fill="#ea487d"/><path d="M2933 2849l33 2l18-27l-33 1" fill="#3959d2"/><path d="M2881 2866l33 5l19-22l-33-3" fill="#3454d0"/><path d="M4031 2853l33 12l17-14l-33-12" fill="#3051cf"/><path d="M3752 2615l32 50l17-3l-32-48" fill="#9fb0eb"/><path d="M3541 2332l33 22l17 14l-33-21" fill="#e8638d"/><path d="M3199 2475l34-31l18-32l-34 32" fill="#db8db7"/><path d="M3640 2421l32 44l17 11l-33-42" fill="#d891bd"/><path d="M3947 2835l33 18l17-14l-33-17" fill="#3555d0"/><path d="M3269 2387l34-25l18-17l-34 25" fill="#e86992"/><path d="M3073 2711l33-15l19-48l-34 20" fill="#92a6ea"/><path d="M2830 2878l33 7l18-19l-33-6" fill="#3151cf"/><path d="M2984 2824l33-1l19-34l-34 5" fill="#4c69d8"/><path d="M3574 2354l33 30l17 14l-33-30" fill="#e77097"/><path d="M3607 2384l33 37l16 13l-32-36" fill="#e280a7"/><path d="M3373 2319l34-8l17-3l-34 9" fill="#ea457b"/><path d="M3054 2751l34-10l18-45l-33 15" fill="#819ae8"/><path d="M3321 2345l34-17l18-9l-34 17" fill="#ea5382"/><path d="M3720 2562l32 53l17-1l-33-50" fill="#b2b4e8"/><path d="M3980 2853l34 14l17-14l-34-14" fill="#3253cf"/><path d="M3181 2512l33-28l19-40l-34 31" fill="#d398c5"/><path d="M3831 2761l33 35l17-11l-33-34" fill="#5c77dd"/><path d="M4064 2865l34 11l17-15l-34-10" fill="#2f50ce"/><path d="M3864 2796l33 29l17-13l-33-27" fill="#4966d7"/><path d="M3799 2720l32 41l17-10l-32-40" fill="#7690e5"/><path d="M3458 2307l33 6l17 6l-33-6" fill="#ea4179"/><path d="M3036 2789l33-6l19-42l-34 10" fill="#6b85e1"/><path d="M2914 2871l33 4l19-24l-33-2" fill="#3656d0"/><path d="M3897 2825l33 23l17-13l-33-23" fill="#3c5bd2"/><path d="M2966 2851l33 2l18-30l-33 1" fill="#405ed4"/><path d="M2863 2885l33 6l18-20l-33-5" fill="#3252cf"/><path d="M3162 2555l34-26l18-45l-33 28" fill="#c7a5d8"/><path d="M3767 2673l32 47l17-9l-32-46" fill="#8da3e9"/><path d="M3687 2509l33 53l16 2l-32-51" fill="#c1abdd"/><path d="M3251 2412l34-25l18-25l-34 25" fill="#e76e95"/><path d="M4014 2867l33 13l17-15l-33-12" fill="#3051cf"/><path d="M2811 2894l33 8l19-17l-33-7" fill="#3050ce"/><path d="M3143 2601l34-23l19-49l-34 26" fill="#bdaee1"/><path d="M3930 2848l33 19l17-14l-33-18" fill="#3656d0"/><path d="M3017 2823l33-2l19-38l-33 6" fill="#5772db"/><path d="M3125 2648l33-18l19-52l-34 23" fill="#b1b4e8"/><path d="M3491 2313l33 14l17 5l-33-13" fill="#ea437a"/><path d="M3734 2621l33 52l17-8l-32-50" fill="#a6b5ec"/><path d="M3407 2311l33 0l18-4l-34 1" fill="#ea3475"/><path d="M3655 2459l32 50l17 4l-32-48" fill="#d299c7"/><path d="M3106 2696l34-15l18-51l-33 18" fill="#a2b2ec"/><path d="M3303 2362l34-17l18-17l-34 17" fill="#ea5181"/><path d="M2947 2875l33 4l19-26l-33-2" fill="#3858d1"/><path d="M3088 2741l33-10l19-50l-34 15" fill="#8da3e9"/><path d="M3963 2867l34 15l17-15l-34-14" fill="#3353cf"/><path d="M2896 2891l33 6l18-22l-33-4" fill="#3353d0"/><path d="M3355 2328l34-7l18-10l-34 8" fill="#ea3a76"/><path d="M4047 2880l34 11l17-15l-34-11" fill="#2f50ce"/><path d="M3233 2444l34-24l18-33l-34 25" fill="#e6789d"/><path d="M3814 2775l33 35l17-14l-33-35" fill="#5f7ade"/><path d="M3847 2810l32 29l18-14l-33-29" fill="#4b67d7"/><path d="M2999 2853l33 1l18-33l-33 2" fill="#4764d6"/><path d="M3524 2327l33 21l17 6l-33-22" fill="#ea4d7f"/><path d="M3623 2415l32 44l17 6l-32-44" fill="#df84ac"/><path d="M3781 2733l33 42l17-14l-32-41" fill="#7993e6"/><path d="M3069 2783l33-6l19-46l-33 10" fill="#7993e6"/><path d="M2844 2902l33 7l19-18l-33-6" fill="#3051cf"/><path d="M3702 2566l32 55l18-6l-32-53" fill="#b7b3e5"/><path d="M3879 2839l34 24l17-15l-33-23" fill="#3d5bd3"/><path d="M3590 2377l33 38l17 6l-33-37" fill="#e77097"/><path d="M3557 2348l33 29l17 7l-33-30" fill="#e95d89"/><path d="M3749 2684l32 49l18-13l-32-47" fill="#90a5ea"/><path d="M3997 2882l33 13l17-15l-33-13" fill="#3151cf"/><path d="M3214 2484l34-24l19-40l-34 24" fill="#df84ac"/><path d="M3440 2311l34 6l17-4l-33-6" fill="#ea2c73"/><path d="M3050 2821l34-3l18-41l-33 6" fill="#627ddf"/><path d="M3913 2863l33 19l17-15l-33-19" fill="#3656d1"/><path d="M2929 2897l33 6l18-24l-33-4" fill="#3555d0"/><path d="M3670 2512l32 54l18-4l-33-53" fill="#c5a7d9"/><path d="M2980 2879l34 4l18-29l-33-1" fill="#3b5ad2"/><path d="M3285 2387l34-18l18-24l-34 17" fill="#ea5885"/><path d="M3196 2529l34-22l18-47l-34 24" fill="#d694c0"/><path d="M2877 2909l34 8l18-20l-33-6" fill="#3152cf"/><path d="M3717 2632l32 52l18-11l-33-52" fill="#a9b6ec"/><path d="M3177 2578l34-19l19-52l-34 22" fill="#c7a5d8"/><path d="M3389 2321l33 0l18-10l-33 0" fill="#ea2972"/><path d="M3032 2854l33 1l19-37l-34 3" fill="#4f6bd9"/><path d="M3946 2882l33 15l18-15l-34-15" fill="#3353cf"/><path d="M3158 2630l34-16l19-55l-34 19" fill="#bbb0e2"/><path d="M4030 2895l34 11l17-15l-34-11" fill="#2f50ce"/><path d="M3140 2681l33-12l19-55l-34 16" fill="#adb5ea"/><path d="M3337 2345l34-8l18-16l-34 7" fill="#ea3876"/><path d="M3796 2791l33 35l18-16l-33-35" fill="#5f7ade"/><path d="M3829 2826l33 29l17-16l-32-29" fill="#4b68d7"/><path d="M3121 2731l34-8l18-54l-33 12" fill="#99aceb"/><path d="M3474 2317l33 13l17-3l-33-14" fill="#ea2e73"/><path d="M2826 2919l33 8l18-18l-33-7" fill="#2f50ce"/><path d="M3638 2461l32 51l17-3l-32-50" fill="#d991bc"/><path d="M3764 2749l32 42l18-16l-33-42" fill="#7993e6"/><path d="M3102 2777l34-5l19-49l-34 8" fill="#849ce8"/><path d="M3862 2855l33 23l18-15l-34-24" fill="#3d5cd3"/><path d="M3685 2577l32 55l17-11l-32-55" fill="#b9b1e4"/><path d="M3267 2420l34-18l18-33l-34 18" fill="#e9628d"/><path d="M3084 2818l33-1l19-45l-34 5" fill="#6d87e2"/><path d="M2962 2903l33 5l19-25l-34-4" fill="#3656d1"/><path d="M3732 2701l32 48l17-16l-32-49" fill="#91a5ea"/><path d="M3979 2897l34 13l17-15l-33-13" fill="#3151cf"/><path d="M3014 2883l33 3l18-31l-33-1" fill="#415fd4"/><path d="M3507 2330l33 20l17-2l-33-21" fill="#ea3a76"/><path d="M3606 2416l32 45l17-2l-32-44" fill="#e47ba1"/><path d="M2911 2917l33 6l18-20l-33-6" fill="#3252cf"/><path d="M3895 2878l34 19l17-15l-33-19" fill="#3656d1"/><path d="M3422 2321l34 8l18-12l-34-6" fill="#ea2270"/><path d="M3540 2350l33 28l17-1l-33-29" fill="#ea4d7f"/><path d="M3573 2378l33 38l17-1l-33-38" fill="#e8638d"/><path d="M2859 2927l33 8l19-18l-34-8" fill="#3051cf"/><path d="M3065 2855l34 1l18-39l-33 1" fill="#5672db"/><path d="M3248 2460l34-17l19-41l-34 18" fill="#e67399"/><path d="M3319 2369l34-8l18-24l-34 8" fill="#ea4079"/><path d="M3700 2648l32 53l17-17l-32-52" fill="#a9b6ec"/><path d="M3653 2522l32 55l17-11l-32-54" fill="#c9a3d5"/><path d="M3371 2337l34 1l17-17l-33 0" fill="#ea2771"/><path d="M3929 2897l33 15l17-15l-33-15" fill="#3353d0"/><path d="M3779 2809l33 34l17-17l-33-35" fill="#5d79dd"/><path d="M4013 2910l34 11l17-15l-34-11" fill="#2f50ce"/><path d="M3812 2843l33 29l17-17l-33-29" fill="#4a67d7"/><path d="M3230 2507l34-16l18-48l-34 17" fill="#df84ac"/><path d="M3746 2768l33 41l17-18l-32-42" fill="#7791e5"/><path d="M3155 2723l33-6l19-57l-34 9" fill="#a4b3ec"/><path d="M2995 2908l33 5l19-27l-33-3" fill="#3857d1"/><path d="M3173 2669l34-9l19-58l-34 12" fill="#b5b3e7"/><path d="M3136 2772l33-2l19-53l-33 6" fill="#8da3e9"/><path d="M3211 2559l34-14l19-54l-34 16" fill="#d398c5"/><path d="M3192 2614l34-12l19-57l-34 14" fill="#c2a9dc"/><path d="M3845 2872l33 23l17-17l-33-23" fill="#3c5bd2"/><path d="M2944 2923l33 7l18-22l-33-5" fill="#3353d0"/><path d="M3456 2329l33 11l18-10l-33-13" fill="#ea2470"/><path d="M3047 2886l33 4l19-34l-34-1" fill="#4663d6"/><path d="M3117 2817l34 0l18-47l-33 2" fill="#7690e5"/><path d="M2705 2938l33 7l19-13l-33-8" fill="#2f50ce"/><path d="M3714 2722l32 46l18-19l-32-48" fill="#8fa4e9"/><path d="M3621 2471l32 51l17-10l-32-51" fill="#dc8cb6"/><path d="M3667 2593l33 55l17-16l-32-55" fill="#b9b1e3"/><path d="M2892 2935l33 7l19-19l-33-6" fill="#3051cf"/><path d="M3962 2912l34 13l17-15l-34-13" fill="#3151cf"/><path d="M3301 2402l34-9l18-32l-34 8" fill="#ea4f80"/><path d="M3878 2895l33 18l18-16l-34-19" fill="#3656d0"/><path d="M3099 2856l33 3l19-42l-34 0" fill="#5d79dd"/><path d="M2790 2939l33 7l18-12l-33-8" fill="#2f50ce"/><path d="M3405 2338l33 6l18-15l-34-8" fill="#ea206f"/><path d="M3489 2340l34 20l17-10l-33-20" fill="#ea2e73"/><path d="M2654 2944l33 7l18-13l-33-8" fill="#2f50ce"/><path d="M3588 2425l33 46l17-10l-32-45" fill="#e6759b"/><path d="M3682 2670l32 52l18-21l-32-53" fill="#a7b6ec"/><path d="M3353 2361l34-1l18-22l-34-1" fill="#ea2e73"/><path d="M2874 2941l33 8l19-12l-33-9" fill="#2f50ce"/><path d="M3028 2913l34 6l18-29l-33-4" fill="#3a59d2"/><path d="M3761 2830l33 33l18-20l-33-34" fill="#5a75dc"/><path d="M2977 2930l33 7l18-24l-33-5" fill="#3454d0"/><path d="M3635 2539l32 54l18-16l-32-55" fill="#c9a3d4"/><path d="M3523 2360l32 28l18-10l-33-28" fill="#ea437a"/><path d="M3555 2388l33 37l18-9l-33-38" fill="#e95c88"/><path d="M3794 2863l33 27l18-18l-33-29" fill="#4865d6"/><path d="M3911 2913l34 15l17-16l-33-15" fill="#3353cf"/><path d="M3729 2791l32 39l18-21l-33-41" fill="#738de4"/><path d="M3282 2443l34-10l19-40l-34 9" fill="#e9628d"/><path d="M3996 2925l34 11l17-15l-34-11" fill="#2f50ce"/><path d="M2738 2945l33 6l19-12l-33-7" fill="#3051cf"/><path d="M3080 2890l33 5l19-36l-33-3" fill="#4a67d7"/><path d="M3169 2770l34 0l19-55l-34 2" fill="#94a8ea"/><path d="M2925 2942l33 8l19-20l-33-7" fill="#3152cf"/><path d="M3188 2717l34-2l19-59l-34 4" fill="#abb6eb"/><path d="M2602 2951l33 6l19-13l-33-7" fill="#2f50ce"/><path d="M3151 2817l33 2l19-49l-34 0" fill="#7e98e7"/><path d="M3827 2890l33 22l18-17l-33-23" fill="#3b5ad2"/><path d="M3207 2660l34-4l18-60l-33 6" fill="#bab0e3"/><path d="M3696 2747l33 44l17-23l-32-46" fill="#8ba1e9"/><path d="M3264 2491l33-9l19-49l-34 10" fill="#e6789d"/><path d="M3650 2617l32 53l18-22l-33-55" fill="#b8b2e5"/><path d="M3438 2344l33 13l18-17l-33-11" fill="#ea2270"/><path d="M2823 2946l33 7l18-12l-33-7" fill="#3051cf"/><path d="M3226 2602l33-6l19-59l-33 8" fill="#c9a3d4"/><path d="M3245 2545l33-8l19-55l-33 9" fill="#db8db7"/><path d="M2874 2952l33 8l18-18l-33-7" fill="#2f50ce"/><path d="M3132 2859l33 4l19-44l-33-2" fill="#637edf"/><path d="M2687 2951l33 6l18-12l-33-7" fill="#3051cf"/><path d="M3603 2488l32 51l18-17l-32-51" fill="#dc8bb5"/><path d="M3945 2928l34 13l17-16l-34-13" fill="#3151cf"/><path d="M3335 2393l33-2l19-31l-34 1" fill="#ea4079"/><path d="M3860 2912l34 17l17-16l-33-18" fill="#3655d0"/><path d="M2907 2949l34 7l18-11l-33-8" fill="#3050cf"/><path d="M3664 2697l32 50l18-25l-32-52" fill="#a2b2ec"/><path d="M3387 2360l33 7l18-23l-33-6" fill="#ea2771"/><path d="M3062 2919l33 6l18-30l-33-5" fill="#3d5cd3"/><path d="M3010 2937l33 7l19-25l-34-6" fill="#3555d0"/><path d="M2771 2951l33 6l19-11l-33-7" fill="#3151cf"/><path d="M3471 2357l34 19l18-16l-34-20" fill="#ea2c73"/><path d="M2992 2953l33 8l18-13l-33-8" fill="#2f50ce"/><path d="M3744 2853l32 30l18-20l-33-33" fill="#5570db"/><path d="M2958 2950l34 7l18-20l-33-7" fill="#3252cf"/><path d="M3711 2816l33 37l17-23l-32-39" fill="#6c86e2"/><path d="M3113 2895l34 5l18-37l-33-4" fill="#4e6ad8"/><path d="M3570 2442l33 46l18-17l-33-46" fill="#e6749a"/><path d="M3617 2563l33 54l17-24l-32-54" fill="#c7a5d8"/><path d="M2635 2957l33 6l19-12l-33-7" fill="#3051cf"/><path d="M3776 2883l34 26l17-19l-33-27" fill="#4562d5"/><path d="M3203 2770l33 4l19-57l-33-2" fill="#98abeb"/><path d="M3184 2819l33 5l19-50l-33-4" fill="#829ae8"/><path d="M3678 2775l33 41l18-25l-33-44" fill="#849ce8"/><path d="M3894 2929l33 15l18-16l-34-15" fill="#3253cf"/><path d="M2856 2953l33 6l18-10l-33-8" fill="#3151cf"/><path d="M3505 2376l33 29l17-17l-32-28" fill="#ea4179"/><path d="M3222 2715l33 2l19-60l-33-1" fill="#aeb5ea"/><path d="M3316 2433l34-2l18-40l-33 2" fill="#ea5885"/><path d="M3538 2405l32 37l18-17l-33-37" fill="#ea5b87"/><path d="M3979 2941l33 11l18-16l-34-11" fill="#2f50ce"/><path d="M3632 2646l32 51l18-27l-32-53" fill="#b4b4e7"/><path d="M2907 2960l33 8l18-18l-33-8" fill="#3050cf"/><path d="M3241 2656l33 1l19-61l-34 0" fill="#beade0"/><path d="M3810 2909l33 20l17-17l-33-22" fill="#3958d1"/><path d="M2720 2957l33 4l18-10l-33-6" fill="#3152cf"/><path d="M3165 2863l34 6l18-45l-33-5" fill="#6782e0"/><path d="M2583 2964l33 6l19-13l-33-6" fill="#3051cf"/><path d="M3420 2367l33 13l18-23l-33-13" fill="#ea2972"/><path d="M2941 2956l33 8l18-11l-33-8" fill="#3051cf"/><path d="M3297 2482l34-2l19-49l-34 2" fill="#e76e95"/><path d="M3259 2596l34 0l19-60l-34 1" fill="#cf9ccb"/><path d="M3646 2729l32 46l18-28l-32-50" fill="#9aaceb"/><path d="M3585 2512l32 51l18-24l-32-51" fill="#da8eb9"/><path d="M3368 2391l34 6l18-30l-33-7" fill="#ea3876"/><path d="M3278 2537l34-1l19-56l-34 2" fill="#df85ad"/><path d="M3043 2944l34 7l18-26l-33-6" fill="#3656d1"/><path d="M3095 2925l33 7l19-32l-34-5" fill="#3f5ed3"/><path d="M3025 2961l34 9l18-13l-34-9" fill="#2f50ce"/><path d="M2804 2957l33 5l19-9l-33-7" fill="#3252cf"/><path d="M2992 2957l33 8l18-21l-33-7" fill="#3253cf"/><path d="M3927 2944l34 12l18-15l-34-13" fill="#3151cf"/><path d="M3843 2929l33 17l18-17l-34-17" fill="#3555d0"/><path d="M3147 2900l33 7l19-38l-34-6" fill="#516dd9"/><path d="M3599 2594l33 52l18-29l-33-54" fill="#c3a9dc"/><path d="M2668 2963l33 4l19-10l-33-6" fill="#3152cf"/><path d="M2532 2972l33 5l18-13l-33-6" fill="#3051cf"/><path d="M3693 2844l33 33l18-24l-33-37" fill="#637edf"/><path d="M3726 2877l33 28l17-22l-32-30" fill="#4f6bd9"/><path d="M3453 2380l34 20l18-24l-34-19" fill="#ea3475"/><path d="M3236 2774l34 7l19-57l-34-7" fill="#9aaceb"/><path d="M3660 2806l33 38l18-28l-33-41" fill="#7c96e7"/><path d="M3613 2680l33 49l18-32l-32-51" fill="#afb5ea"/><path d="M2889 2959l33 7l19-10l-34-7" fill="#3152cf"/><path d="M3552 2467l33 45l18-24l-33-46" fill="#e6789d"/><path d="M3217 2824l34 8l19-51l-34-7" fill="#839ce8"/><path d="M2940 2968l33 8l19-19l-34-7" fill="#3051cf"/><path d="M3255 2717l34 7l19-60l-34-7" fill="#b0b5e9"/><path d="M3759 2905l33 23l18-19l-34-26" fill="#415fd4"/><path d="M3350 2431l33 7l19-41l-34-6" fill="#ea5181"/><path d="M3199 2869l33 8l19-45l-34-8" fill="#6984e1"/><path d="M3487 2400l33 30l18-25l-33-29" fill="#ea487d"/><path d="M2974 2964l33 8l18-11l-33-8" fill="#3051cf"/><path d="M3520 2430l32 37l18-25l-32-37" fill="#e9608b"/><path d="M3627 2763l33 43l18-31l-32-46" fill="#91a5ea"/><path d="M2753 2961l33 4l18-8l-33-6" fill="#3353cf"/><path d="M3274 2657l34 7l19-62l-34-6" fill="#bfacde"/><path d="M3402 2397l33 14l18-31l-33-13" fill="#ea3a76"/><path d="M2480 2979l33 6l19-13l-33-7" fill="#2f50ce"/><path d="M2616 2970l33 3l19-10l-33-6" fill="#3152cf"/><path d="M3876 2946l34 14l17-16l-33-15" fill="#3252cf"/><path d="M3567 2545l32 49l18-31l-32-51" fill="#d595c2"/><path d="M3077 2951l33 7l18-26l-33-7" fill="#3757d1"/><path d="M3128 2932l34 7l18-32l-33-7" fill="#415fd4"/><path d="M3059 2970l33 8l18-12l-33-9" fill="#2f50ce"/><path d="M3961 2956l34 11l17-15l-33-11" fill="#2f50ce"/><path d="M3293 2596l34 6l19-60l-34-6" fill="#d299c7"/><path d="M3331 2480l34 6l18-48l-33-7" fill="#e86992"/><path d="M3792 2928l33 19l18-18l-33-20" fill="#3857d1"/><path d="M3581 2631l32 49l19-34l-33-52" fill="#bdaee0"/><path d="M3312 2536l34 6l19-56l-34-6" fill="#e182a9"/><path d="M3025 2965l33 8l19-22l-34-7" fill="#3353d0"/><path d="M2837 2962l34 5l18-8l-33-6" fill="#3353cf"/><path d="M3595 2718l32 45l19-34l-33-49" fill="#a7b5ec"/><path d="M3180 2907l34 8l18-38l-33-8" fill="#526eda"/><path d="M3270 2781l33 12l19-56l-33-13" fill="#9aaceb"/><path d="M2565 2977l33 4l18-11l-33-6" fill="#3152cf"/><path d="M3251 2832l33 11l19-50l-33-12" fill="#839be8"/><path d="M3675 2872l33 30l18-25l-33-33" fill="#5a75dc"/><path d="M2701 2967l33 2l19-8l-33-4" fill="#3353d0"/><path d="M3642 2838l33 34l18-28l-33-38" fill="#6f8ae3"/><path d="M3435 2411l33 22l19-33l-34-20" fill="#ea457b"/><path d="M3534 2500l33 45l18-33l-33-45" fill="#e280a7"/><path d="M3289 2724l33 13l19-60l-33-13" fill="#afb5e9"/><path d="M2922 2966l34 6l18-8l-33-8" fill="#3252cf"/><path d="M2973 2976l34 8l18-19l-33-8" fill="#3151cf"/><path d="M3383 2438l34 14l18-41l-33-14" fill="#ea5382"/><path d="M3708 2902l33 25l18-22l-33-28" fill="#4966d7"/><path d="M3609 2800l33 38l18-32l-33-43" fill="#869de8"/><path d="M3825 2947l34 16l17-17l-33-17" fill="#3454d0"/><path d="M3232 2877l34 10l18-44l-33-11" fill="#6883e1"/><path d="M3910 2960l34 12l17-16l-34-12" fill="#3051cf"/><path d="M3548 2584l33 47l18-37l-32-49" fill="#cca0d0"/><path d="M3308 2664l33 13l19-62l-33-13" fill="#bfacdf"/><path d="M3007 2972l33 8l19-10l-34-9" fill="#3151cf"/><path d="M3562 2673l33 45l18-38l-32-49" fill="#b5b3e6"/><path d="M3468 2433l33 30l19-33l-33-30" fill="#ea5885"/><path d="M3501 2463l33 37l18-33l-32-37" fill="#e76a93"/><path d="M3576 2759l33 41l18-37l-32-45" fill="#99aceb"/><path d="M2513 2985l33 4l19-12l-33-5" fill="#3151cf"/><path d="M2786 2965l33 2l18-5l-33-5" fill="#3454d0"/><path d="M3327 2602l33 13l19-59l-33-14" fill="#d19ac8"/><path d="M3741 2927l33 21l18-20l-33-23" fill="#3c5bd2"/><path d="M3365 2486l33 14l19-48l-34-14" fill="#e76a93"/><path d="M2922 2985l33 8l18-17l-33-8" fill="#2f50ce"/><path d="M3092 2978l33 9l18-12l-33-9" fill="#2f50ce"/><path d="M2649 2973l33 1l19-7l-33-4" fill="#3354d0"/><path d="M3110 2958l33 8l19-27l-34-7" fill="#3857d1"/><path d="M3162 2939l33 9l19-33l-34-8" fill="#4260d4"/><path d="M3346 2542l33 14l19-56l-33-14" fill="#e083aa"/><path d="M3303 2793l33 15l19-55l-33-16" fill="#97aaea"/><path d="M3417 2452l33 22l18-41l-33-22" fill="#ea5b87"/><path d="M3516 2540l32 44l19-39l-33-45" fill="#dc8cb6"/><path d="M3058 2973l34 8l18-23l-33-7" fill="#3454d0"/><path d="M3322 2737l33 16l19-58l-33-18" fill="#adb5ea"/><path d="M3284 2843l34 14l18-49l-33-15" fill="#8099e7"/><path d="M3214 2915l33 10l19-38l-34-10" fill="#526dda"/><path d="M3530 2628l32 45l19-42l-33-47" fill="#c2aadc"/><path d="M3544 2717l32 42l19-41l-33-45" fill="#acb6eb"/><path d="M2871 2967l33 4l18-5l-33-7" fill="#3454d0"/><path d="M3624 2870l33 30l18-28l-33-34" fill="#627ddf"/><path d="M3591 2837l33 33l18-32l-33-38" fill="#7892e5"/><path d="M3341 2677l33 18l19-60l-33-20" fill="#bdaee1"/><path d="M3859 2963l34 13l17-16l-34-14" fill="#3252cf"/><path d="M2461 2993l33 6l19-14l-33-6" fill="#3051cf"/><path d="M3450 2474l33 29l18-40l-33-30" fill="#e86891"/><path d="M3483 2503l33 37l18-40l-33-37" fill="#e57aa0"/><path d="M3774 2948l34 18l17-19l-33-19" fill="#3656d1"/><path d="M3007 2984l33 8l18-19l-33-8" fill="#3151cf"/><path d="M3657 2900l33 27l18-25l-33-30" fill="#506cd9"/><path d="M2956 2972l33 7l18-7l-33-8" fill="#3353cf"/><path d="M3558 2801l33 36l18-37l-33-41" fill="#8ba1e9"/><path d="M3266 2887l33 13l19-43l-34-14" fill="#6681e0"/><path d="M3398 2500l33 22l19-48l-33-22" fill="#e77198"/><path d="M3944 2972l34 11l17-16l-34-11" fill="#2f50ce"/><path d="M2598 2981l33 1l18-9l-33-3" fill="#3353d0"/><path d="M3360 2615l33 20l19-58l-33-21" fill="#cd9ece"/><path d="M2734 2969l33 0l19-4l-33-4" fill="#3555d0"/><path d="M3511 2677l33 40l18-44l-32-45" fill="#b8b2e4"/><path d="M3497 2587l33 41l18-44l-32-44" fill="#d09bc9"/><path d="M3379 2556l33 21l19-55l-33-22" fill="#de88b1"/><path d="M3040 2980l34 9l18-11l-33-8" fill="#3151cf"/><path d="M3336 2808l34 18l18-52l-33-21" fill="#91a6ea"/><path d="M3525 2764l33 37l18-42l-32-42" fill="#9daeeb"/><path d="M3355 2753l33 21l19-55l-33-24" fill="#a9b6ec"/><path d="M3690 2927l33 22l18-22l-33-25" fill="#4260d4"/><path d="M3374 2695l33 24l19-58l-33-26" fill="#b8b2e4"/><path d="M3431 2522l33 29l19-48l-33-29" fill="#e37da3"/><path d="M3464 2551l33 36l19-47l-33-37" fill="#dc8ab4"/><path d="M3318 2857l33 16l19-47l-34-18" fill="#7b95e6"/><path d="M2409 3001l33 7l19-15l-33-6" fill="#2f50ce"/><path d="M3492 2727l33 37l19-47l-33-40" fill="#adb5ea"/><path d="M3478 2638l33 39l19-49l-33-41" fill="#c3a9dc"/><path d="M2955 2993l33 9l19-18l-34-8" fill="#2f50ce"/><path d="M3125 2987l34 10l18-13l-34-9" fill="#2f50ce"/><path d="M3393 2635l33 26l19-56l-33-28" fill="#c6a6d9"/><path d="M3195 2948l34 9l18-32l-33-10" fill="#4260d4"/><path d="M3412 2577l33 28l19-54l-33-29" fill="#d991bc"/><path d="M3143 2966l34 9l18-27l-33-9" fill="#3858d1"/><path d="M2546 2989l33 2l19-10l-33-4" fill="#3253cf"/><path d="M3445 2605l33 33l19-51l-33-36" fill="#ce9dcc"/><path d="M2819 2967l33 3l19-3l-34-5" fill="#3656d0"/><path d="M3247 2925l33 12l19-37l-33-13" fill="#506cd9"/><path d="M3459 2692l33 35l19-50l-33-39" fill="#b7b3e5"/><path d="M3407 2719l33 28l19-55l-33-31" fill="#b2b4e8"/><path d="M3388 2774l34 25l18-52l-33-28" fill="#a0b0ec"/><path d="M3426 2661l33 31l19-54l-33-33" fill="#bfacde"/><path d="M3808 2966l33 14l18-17l-34-16" fill="#3353d0"/><path d="M3539 2842l33 31l19-36l-33-36" fill="#7c96e7"/><path d="M3506 2810l33 32l19-41l-33-37" fill="#8ca2e9"/><path d="M3572 2873l33 29l19-32l-33-33" fill="#6882e0"/><path d="M3092 2981l33 8l18-23l-33-8" fill="#3454d0"/><path d="M3440 2747l33 30l19-50l-33-35" fill="#aab6ec"/><path d="M3473 2777l33 33l19-46l-33-37" fill="#9cadeb"/><path d="M3370 2826l33 22l19-49l-34-25" fill="#8aa0e9"/><path d="M3893 2976l33 12l18-16l-34-12" fill="#3051cf"/><path d="M2682 2974l34-1l18-4l-33-2" fill="#3656d0"/><path d="M3723 2949l34 19l17-20l-33-21" fill="#3958d1"/><path d="M3299 2900l33 14l19-41l-33-16" fill="#617cde"/><path d="M3422 2799l33 27l18-49l-33-30" fill="#95a8ea"/><path d="M3605 2902l34 26l18-28l-33-30" fill="#5571db"/><path d="M2904 2971l33 5l19-4l-34-6" fill="#3555d0"/><path d="M3351 2873l33 18l19-43l-33-22" fill="#738de4"/><path d="M3455 2826l33 27l18-43l-33-33" fill="#889fe9"/><path d="M3040 2992l33 9l19-20l-34-8" fill="#3152cf"/><path d="M2989 2979l33 8l18-7l-33-8" fill="#3353d0"/><path d="M2494 2999l33 2l19-12l-33-4" fill="#3152cf"/><path d="M3403 2848l33 22l19-44l-33-27" fill="#819ae8"/><path d="M3639 2928l33 23l18-24l-33-27" fill="#4764d6"/><path d="M3488 2853l33 28l18-39l-33-32" fill="#7a94e6"/><path d="M3074 2989l33 9l18-11l-33-9" fill="#3151cf"/><path d="M3521 2881l33 27l18-35l-33-31" fill="#6883e1"/><path d="M2631 2982l33-2l18-6l-33-1" fill="#3656d0"/><path d="M3757 2968l33 16l18-18l-34-18" fill="#3555d0"/><path d="M2767 2969l34 0l18-2l-33-2" fill="#3857d1"/><path d="M3841 2980l34 13l18-17l-34-13" fill="#3152cf"/><path d="M3229 2957l33 11l18-31l-33-12" fill="#415fd4"/><path d="M3159 2997l33 9l18-13l-33-9" fill="#2f50ce"/><path d="M3280 2937l34 12l18-35l-33-14" fill="#4d69d8"/><path d="M3436 2870l33 24l19-41l-33-27" fill="#748ee4"/><path d="M2988 3002l34 8l18-18l-33-8" fill="#3050ce"/><path d="M3332 2914l34 16l18-39l-33-18" fill="#5b76dc"/><path d="M3177 2975l33 9l19-27l-34-9" fill="#3857d1"/><path d="M3384 2891l34 20l18-41l-33-22" fill="#6883e1"/><path d="M2442 3008l33 4l19-13l-33-6" fill="#3151cf"/><path d="M3554 2908l33 24l18-30l-33-29" fill="#5873db"/><path d="M3672 2951l33 20l18-22l-33-22" fill="#3c5bd2"/><path d="M3125 2989l33 9l19-23l-34-9" fill="#3454d0"/><path d="M3469 2894l34 23l18-36l-33-28" fill="#6580df"/><path d="M2852 2970l34 2l18-1l-33-4" fill="#3858d1"/><path d="M2579 2991l33-2l19-7l-33-1" fill="#3555d0"/><path d="M3587 2932l34 23l18-27l-34-26" fill="#4a67d7"/><path d="M2937 2976l34 6l18-3l-33-7" fill="#3656d1"/><path d="M3418 2911l33 20l18-37l-33-24" fill="#5d79dd"/><path d="M3073 3001l34 9l18-21l-33-8" fill="#3152cf"/><path d="M2390 3016l33 6l19-14l-33-7" fill="#3050cf"/><path d="M3022 2987l34 8l18-6l-34-9" fill="#3353d0"/><path d="M3503 2917l33 23l18-32l-33-27" fill="#5772db"/><path d="M3790 2984l34 13l17-17l-33-14" fill="#3253cf"/><path d="M2716 2973l33-3l18-1l-33 0" fill="#3959d1"/><path d="M3366 2930l33 16l19-35l-34-20" fill="#536fda"/><path d="M3705 2971l34 16l18-19l-34-19" fill="#3656d1"/><path d="M3107 2998l33 9l19-10l-34-10" fill="#3151cf"/><path d="M3314 2949l33 14l19-33l-34-16" fill="#4966d7"/><path d="M3875 2993l34 11l17-16l-33-12" fill="#3050cf"/><path d="M3262 2968l33 11l19-30l-34-12" fill="#3e5dd3"/><path d="M3621 2955l33 19l18-23l-33-23" fill="#3f5dd3"/><path d="M2527 3001l33 0l19-10l-33-2" fill="#3454d0"/><path d="M3210 2984l34 10l18-26l-33-11" fill="#3857d1"/><path d="M3022 3010l33 9l18-18l-33-9" fill="#3050cf"/><path d="M3451 2931l33 19l19-33l-34-23" fill="#526eda"/><path d="M3536 2940l33 21l18-29l-33-24" fill="#4a67d7"/><path d="M3158 2998l34 9l18-23l-33-9" fill="#3454d0"/><path d="M2801 2969l33-2l18 3l-33-3" fill="#3b5ad2"/><path d="M3399 2946l34 17l18-32l-33-20" fill="#4c68d8"/><path d="M2475 3012l33 1l19-12l-33-2" fill="#3353cf"/><path d="M2664 2980l33-5l19-2l-34 1" fill="#3a59d2"/><path d="M3739 2987l34 15l17-18l-33-16" fill="#3354d0"/><path d="M3654 2974l34 17l17-20l-33-20" fill="#3857d1"/><path d="M3824 2997l34 12l17-16l-34-13" fill="#3051cf"/><path d="M3347 2963l34 14l18-31l-33-16" fill="#4462d5"/><path d="M3569 2961l34 19l18-25l-34-23" fill="#405ed4"/><path d="M3484 2950l34 19l18-29l-33-23" fill="#4865d7"/><path d="M2886 2972l33 2l18 2l-33-5" fill="#3a59d2"/><path d="M3107 3010l33 8l18-20l-33-9" fill="#3252cf"/><path d="M3056 2995l33 10l18-7l-33-9" fill="#3353d0"/><path d="M2971 2982l33 7l18-2l-33-8" fill="#3757d1"/><path d="M3140 3007l34 10l18-11l-33-9" fill="#3051cf"/><path d="M3295 2979l34 12l18-28l-33-14" fill="#3c5bd2"/><path d="M2423 3022l33 3l19-13l-33-4" fill="#3152cf"/><path d="M2612 2989l33-6l19-3l-33 2" fill="#3958d1"/><path d="M3244 2994l33 11l18-26l-33-11" fill="#3757d1"/><path d="M3433 2963l33 16l18-29l-33-19" fill="#4462d5"/><path d="M3055 3019l33 9l19-18l-34-9" fill="#3051cf"/><path d="M3688 2991l33 15l18-19l-34-16" fill="#3555d0"/><path d="M3518 2969l33 18l18-26l-33-21" fill="#405ed4"/><path d="M3603 2980l33 17l18-23l-33-19" fill="#3958d1"/><path d="M2749 2970l33-6l19 5l-34 0" fill="#405ed4"/><path d="M3773 3002l33 12l18-17l-34-13" fill="#3152cf"/><path d="M3192 3007l33 10l19-23l-34-10" fill="#3454d0"/><path d="M2371 3031l33 5l19-14l-33-6" fill="#3051cf"/><path d="M3381 2977l33 14l19-28l-34-17" fill="#3f5dd3"/><path d="M2560 3001l33-6l19-6l-33 2" fill="#3857d1"/><path d="M3858 3009l34 11l17-16l-34-11" fill="#2f50ce"/><path d="M3329 2991l33 12l19-26l-34-14" fill="#3958d1"/><path d="M3140 3018l34 9l18-20l-34-9" fill="#3152cf"/><path d="M3466 2979l33 16l19-26l-34-19" fill="#3d5cd3"/><path d="M3089 3005l33 10l18-8l-33-9" fill="#3353d0"/><path d="M2834 2967l33-2l19 7l-34-2" fill="#415fd4"/><path d="M3004 2989l33 8l19-2l-34-8" fill="#3757d1"/><path d="M3174 3017l33 10l19-11l-34-10" fill="#3051cf"/><path d="M2508 3013l33-3l19-9l-33 0" fill="#3656d0"/><path d="M3551 2987l34 16l18-23l-34-19" fill="#3958d1"/><path d="M2919 2974l33 4l19 4l-34-6" fill="#3c5bd2"/><path d="M3636 2997l34 15l18-21l-34-17" fill="#3555d0"/><path d="M3277 3005l34 10l18-24l-34-12" fill="#3656d0"/><path d="M3721 3006l34 14l18-18l-34-15" fill="#3252cf"/><path d="M2697 2975l33-9l19 4l-33 3" fill="#4260d4"/><path d="M3414 2991l34 14l18-26l-33-16" fill="#3a59d2"/><path d="M3088 3028l34 9l18-19l-33-8" fill="#3051cf"/><path d="M3806 3014l34 12l18-17l-34-12" fill="#3051cf"/><path d="M2456 3025l33-1l19-11l-33-1" fill="#3454d0"/><path d="M3225 3017l34 10l18-22l-33-11" fill="#3354d0"/><path d="M3499 2995l34 15l18-23l-33-18" fill="#3858d1"/><path d="M3362 3003l34 13l18-25l-33-14" fill="#3757d1"/><path d="M3585 3003l33 14l18-20l-33-17" fill="#3655d0"/><path d="M2404 3036l33 2l19-13l-33-3" fill="#3252cf"/><path d="M2645 2983l33-10l19 2l-33 5" fill="#4260d4"/><path d="M3670 3012l33 13l18-19l-33-15" fill="#3353cf"/><path d="M3122 3015l34 11l18-9l-34-10" fill="#3353cf"/><path d="M3174 3027l33 10l18-20l-33-10" fill="#3152cf"/><path d="M3207 3027l34 11l18-13l-33-9" fill="#3051cf"/><path d="M2782 2964l34-6l18 9l-33 2" fill="#4966d7"/><path d="M3037 2997l34 9l18-1l-33-10" fill="#3757d1"/><path d="M3755 3020l34 11l17-17l-33-12" fill="#3051cf"/><path d="M3311 3015l33 12l18-24l-33-12" fill="#3555d0"/><path d="M3448 3005l33 14l18-24l-33-16" fill="#3757d1"/><path d="M2352 3046l33 5l19-15l-33-5" fill="#3051cf"/><path d="M2952 2978l34 5l18 6l-33-7" fill="#3f5dd3"/><path d="M2593 2995l33-10l19-2l-33 6" fill="#3f5ed3"/><path d="M2867 2965l34-1l18 10l-33-2" fill="#4765d6"/><path d="M3533 3010l34 14l18-21l-34-16" fill="#3655d0"/><path d="M3122 3037l33 9l19-19l-34-9" fill="#3051cf"/><path d="M3259 3027l34 10l18-22l-34-10" fill="#3353cf"/><path d="M3618 3017l34 14l18-19l-34-15" fill="#3353d0"/><path d="M3396 3016l34 12l18-23l-34-14" fill="#3655d0"/><path d="M2541 3010l33-9l19-6l-33 6" fill="#3b5ad2"/><path d="M3703 3025l34 12l18-17l-34-14" fill="#3152cf"/><path d="M2300 3055l33 6l19-15l-33-7" fill="#2f50ce"/><path d="M3156 3026l33 11l18-10l-33-10" fill="#3252cf"/><path d="M2489 3024l33-5l19-9l-33 3" fill="#3857d1"/><path d="M2730 2966l34-11l18 9l-33 6" fill="#4e6ad8"/><path d="M3481 3019l34 13l18-22l-34-15" fill="#3555d0"/><path d="M3207 3037l34 9l18-19l-34-10" fill="#3152cf"/><path d="M3241 3038l34 10l18-13l-34-10" fill="#2f50ce"/><path d="M3789 3031l34 11l17-16l-34-12" fill="#2f50ce"/><path d="M3344 3027l34 11l18-22l-34-13" fill="#3454d0"/><path d="M3071 3006l33 11l18-2l-33-10" fill="#3757d1"/><path d="M2437 3038l33-2l19-12l-33 1" fill="#3555d0"/><path d="M3567 3024l33 13l18-20l-33-14" fill="#3353d0"/><path d="M2986 2983l33 8l18 6l-33-8" fill="#405fd4"/><path d="M3652 3031l34 12l17-18l-33-13" fill="#3152cf"/><path d="M3155 3046l34 9l18-18l-33-10" fill="#3051cf"/><path d="M3430 3028l33 12l18-21l-33-14" fill="#3454d0"/><path d="M3293 3037l33 10l18-20l-33-12" fill="#3253cf"/><path d="M2385 3051l33 1l19-14l-33-2" fill="#3253cf"/><path d="M2816 2958l33-7l18 14l-33 2" fill="#526eda"/><path d="M2678 2973l34-15l18 8l-33 9" fill="#506cd9"/><path d="M3737 3037l34 11l18-17l-34-11" fill="#3051cf"/><path d="M2901 2964l33 1l18 13l-33-4" fill="#4d69d8"/><path d="M3515 3032l34 12l18-20l-34-14" fill="#3353d0"/><path d="M3189 3037l34 11l18-10l-34-11" fill="#3152cf"/><path d="M2333 3061l33 4l19-14l-33-5" fill="#3051cf"/><path d="M3378 3038l34 11l18-21l-34-12" fill="#3353cf"/><path d="M3241 3046l33 10l19-19l-34-10" fill="#3151cf"/><path d="M3104 3017l34 12l18-3l-34-11" fill="#3656d1"/><path d="M3600 3037l34 12l18-18l-34-14" fill="#3252cf"/><path d="M2626 2985l34-16l18 4l-33 10" fill="#4d6ad8"/><path d="M3686 3043l34 11l17-17l-34-12" fill="#3051cf"/><path d="M3463 3040l34 12l18-20l-34-13" fill="#3253cf"/><path d="M2281 3070l33 6l19-15l-33-6" fill="#2f50ce"/><path d="M3019 2991l34 10l18 5l-34-9" fill="#415fd4"/><path d="M2574 3001l34-16l18 0l-33 10" fill="#4865d6"/><path d="M3326 3047l34 10l18-19l-34-11" fill="#3152cf"/><path d="M3189 3055l33 9l19-18l-34-9" fill="#3050cf"/><path d="M2522 3019l34-13l18-5l-33 9" fill="#405ed4"/><path d="M3549 3044l33 12l18-19l-33-13" fill="#3252cf"/><path d="M2764 2955l33-13l19 16l-34 6" fill="#5b76dd"/><path d="M2470 3036l33-8l19-9l-33 5" fill="#3959d2"/><path d="M3223 3048l33 12l19-12l-34-10" fill="#3151cf"/><path d="M3412 3049l33 11l18-20l-33-12" fill="#3252cf"/><path d="M3138 3029l33 13l18-5l-33-11" fill="#3555d0"/><path d="M2418 3052l33-3l19-13l-33 2" fill="#3656d0"/><path d="M3274 3056l34 10l18-19l-33-10" fill="#3051cf"/><path d="M3634 3049l34 11l18-17l-34-12" fill="#3051cf"/><path d="M2934 2965l34 4l18 14l-34-5" fill="#516dd9"/><path d="M2849 2951l34-6l18 19l-34 1" fill="#5c77dd"/><path d="M2366 3065l33 1l19-14l-33-1" fill="#3353cf"/><path d="M3497 3052l34 11l18-19l-34-12" fill="#3152cf"/><path d="M3720 3054l33 10l18-16l-34-11" fill="#2f50ce"/><path d="M3053 3001l33 12l18 4l-33-11" fill="#3f5ed3"/><path d="M3360 3057l33 10l19-18l-34-11" fill="#3151cf"/><path d="M3222 3064l34 10l18-18l-33-10" fill="#3050ce"/><path d="M3582 3056l34 11l18-18l-34-12" fill="#3051cf"/><path d="M2314 3076l33 5l19-16l-33-4" fill="#3151cf"/><path d="M2712 2958l33-18l19 15l-34 11" fill="#607bde"/><path d="M3256 3060l34 11l18-13l-33-10" fill="#3051cf"/><path d="M3171 3042l34 13l18-7l-34-11" fill="#3454d0"/><path d="M3445 3060l34 10l18-18l-34-12" fill="#3151cf"/><path d="M3668 3060l34 11l18-17l-34-11" fill="#2f50ce"/><path d="M3308 3066l34 9l18-18l-34-10" fill="#3051cf"/><path d="M2262 3086l33 6l19-16l-33-6" fill="#2f50ce"/><path d="M2968 2969l33 6l18 16l-33-8" fill="#536eda"/><path d="M3531 3063l34 10l17-17l-33-12" fill="#3051cf"/><path d="M2660 2969l33-22l19 11l-34 15" fill="#607bde"/><path d="M3086 3013l34 14l18 2l-34-12" fill="#3d5cd3"/><path d="M3393 3067l34 11l18-18l-33-11" fill="#3051cf"/><path d="M3256 3074l34 9l18-17l-34-10" fill="#2f50ce"/><path d="M2608 2985l33-22l19 6l-34 16" fill="#5a75dc"/><path d="M3616 3067l34 10l18-17l-34-11" fill="#3050ce"/><path d="M2797 2942l34-13l18 22l-33 7" fill="#6a84e1"/><path d="M2451 3049l33-10l19-11l-33 8" fill="#3b5ad2"/><path d="M2503 3028l34-16l19-6l-34 13" fill="#4663d6"/><path d="M2556 3006l33-20l19-1l-34 16" fill="#516dd9"/><path d="M2883 2945l33-2l18 22l-33-1" fill="#647fdf"/><path d="M2399 3066l33-4l19-13l-33 3" fill="#3656d1"/><path d="M3205 3055l33 14l18-9l-33-12" fill="#3353d0"/><path d="M3290 3071l34 11l18-14l-34-10" fill="#3050ce"/><path d="M3479 3070l34 10l18-17l-34-11" fill="#3051cf"/><path d="M2347 3081l33 1l19-16l-33-1" fill="#3353d0"/><path d="M3342 3075l33 10l18-18l-33-10" fill="#3050ce"/><path d="M3120 3027l33 15l18 0l-33-13" fill="#3a59d2"/><path d="M3565 3073l33 11l18-17l-34-11" fill="#2f50ce"/><path d="M3001 2975l34 11l18 15l-34-10" fill="#536eda"/><path d="M2295 3092l33 5l19-16l-33-5" fill="#3151cf"/><path d="M3427 3078l34 9l18-17l-34-10" fill="#3050ce"/><path d="M3290 3083l34 9l18-17l-34-9" fill="#2f50ce"/><path d="M3238 3069l34 12l18-10l-34-11" fill="#3252cf"/><path d="M2745 2940l34-21l18 23l-33 13" fill="#748de4"/><path d="M2243 3101l33 7l19-16l-33-6" fill="#2f50ce"/><path d="M3513 3080l34 10l18-17l-34-10" fill="#2f50ce"/><path d="M3375 3085l34 10l18-17l-34-11" fill="#2f50ce"/><path d="M3153 3042l34 16l18-3l-34-13" fill="#3858d1"/><path d="M2916 2943l34 1l18 25l-34-4" fill="#6b85e1"/><path d="M3035 2986l33 14l18 13l-33-12" fill="#516dd9"/><path d="M2831 2929l34-12l18 28l-34 6" fill="#7892e5"/><path d="M3461 3087l34 10l18-17l-34-10" fill="#2f50ce"/><path d="M2380 3082l33-5l19-15l-33 4" fill="#3756d1"/><path d="M2432 3062l33-11l19-12l-33 10" fill="#3d5cd3"/><path d="M2693 2947l34-26l18 19l-33 18" fill="#7790e5"/><path d="M3272 3081l34 13l18-12l-34-11" fill="#3151cf"/><path d="M2484 3039l34-18l19-9l-34 16" fill="#4b67d7"/><path d="M2328 3097l33 1l19-16l-33-1" fill="#3353d0"/><path d="M3187 3058l33 16l18-5l-33-14" fill="#3656d1"/><path d="M2537 3012l33-24l19-2l-33 20" fill="#5a75dc"/><path d="M2641 2963l34-29l18 13l-33 22" fill="#738de4"/><path d="M2276 3108l33 5l19-16l-33-5" fill="#3051cf"/><path d="M3068 3000l34 17l18 10l-34-14" fill="#4d6ad8"/><path d="M2589 2986l33-29l19 6l-33 22" fill="#6883e1"/><path d="M2950 2944l34 6l17 25l-33-6" fill="#6e88e2"/><path d="M3306 3094l33 11l19-13l-34-10" fill="#3051cf"/><path d="M3220 3074l34 15l18-8l-34-12" fill="#3454d0"/><path d="M3102 3017l33 18l18 7l-33-15" fill="#4865d6"/><path d="M2779 2919l34-20l18 30l-34 13" fill="#87a0ea"/><path d="M2865 2917l33-7l18 33l-33 2" fill="#849de9"/><path d="M2361 3098l33-4l19-17l-33 5" fill="#3756d1"/><path d="M2413 3077l33-11l19-15l-33 11" fill="#3f5dd3"/><path d="M2309 3113l33 1l19-16l-33-1" fill="#3353cf"/><path d="M2984 2950l33 11l18 25l-34-11" fill="#6f89e3"/><path d="M3135 3035l34 20l18 3l-34-16" fill="#4260d4"/><path d="M2465 3051l34-20l19-10l-34 18" fill="#4e6bd8"/><path d="M3254 3089l34 15l18-10l-34-13" fill="#3353cf"/><path d="M3339 3105l34 11l18-14l-33-10" fill="#2f50ce"/><path d="M2256 3124l33 5l20-16l-33-5" fill="#3051cf"/><path d="M2727 2921l34-29l18 27l-34 21" fill="#8da4eb"/><path d="M2518 3021l33-28l19-5l-33 24" fill="#627cdf"/><path d="M3169 3055l33 20l18-1l-33-16" fill="#3c5bd2"/><path d="M3017 2961l34 16l17 23l-33-14" fill="#6b86e2"/><path d="M3288 3104l33 13l18-12l-33-11" fill="#3152cf"/><path d="M2570 2988l34-34l18 3l-33 29" fill="#768fe5"/><path d="M2675 2934l33-34l19 21l-34 26" fill="#8da4eb"/><path d="M2898 2910l34-1l18 35l-34-1" fill="#8ba3eb"/><path d="M2622 2957l34-36l19 13l-34 29" fill="#869fea"/><path d="M2342 3114l33-3l19-17l-33 4" fill="#3656d1"/><path d="M3202 3075l34 19l18-5l-34-15" fill="#3858d1"/><path d="M2394 3094l33-11l19-17l-33 11" fill="#3e5dd3"/><path d="M2289 3129l34 3l19-18l-33-1" fill="#3253cf"/><path d="M2813 2899l34-17l18 35l-34 12" fill="#94aaec"/><path d="M3051 2977l33 20l18 20l-34-17" fill="#6580e0"/><path d="M2237 3140l33 6l19-17l-33-5" fill="#3051cf"/><path d="M2446 3066l34-20l19-15l-34 20" fill="#506cd9"/><path d="M3321 3117l34 13l18-14l-34-11" fill="#3051cf"/><path d="M3236 3094l34 17l18-7l-34-15" fill="#3655d0"/><path d="M3084 2997l34 23l17 15l-33-18" fill="#5d78dd"/><path d="M2499 3031l33-30l19-8l-33 28" fill="#6782e0"/><path d="M2932 2909l34 4l18 37l-34-6" fill="#8fa6eb"/><path d="M3118 3020l33 25l18 10l-34-20" fill="#536fda"/><path d="M3355 3130l34 11l18-14l-34-11" fill="#2f50ce"/><path d="M3270 3111l33 16l18-10l-33-13" fill="#3354d0"/><path d="M2323 3132l33-2l19-19l-33 3" fill="#3655d0"/><path d="M2761 2892l34-28l18 35l-34 20" fill="#9fb1ed"/><path d="M2375 3111l33-9l19-19l-33 11" fill="#3d5cd3"/><path d="M2270 3146l33 4l20-18l-34-3" fill="#3252cf"/><path d="M3151 3045l34 25l17 5l-33-20" fill="#4a67d7"/><path d="M2551 2993l34-38l19-1l-34 34" fill="#819ae8"/><path d="M2847 2882l33-13l18 41l-33 7" fill="#a0b2ed"/><path d="M2218 3157l33 6l19-17l-33-6" fill="#3050ce"/><path d="M2427 3083l34-20l19-17l-34 20" fill="#506cd9"/><path d="M2966 2913l33 12l18 36l-33-11" fill="#8fa6eb"/><path d="M3185 3070l33 24l18 0l-34-19" fill="#415fd4"/><path d="M3303 3127l34 14l18-11l-34-13" fill="#3252cf"/><path d="M2708 2900l34-37l19 29l-34 29" fill="#a2b4ed"/><path d="M2604 2954l33-42l19 9l-34 36" fill="#93a8eb"/><path d="M2656 2921l34-41l18 20l-33 34" fill="#9eb1ed"/><path d="M3218 3094l34 22l18-5l-34-17" fill="#3a59d2"/><path d="M2480 3046l33-31l19-14l-33 30" fill="#6a85e1"/><path d="M2999 2925l34 19l18 33l-34-16" fill="#8ca4eb"/><path d="M2303 3150l34 0l19-20l-33 2" fill="#3555d0"/><path d="M2356 3130l33-8l19-20l-33 9" fill="#3b5ad2"/><path d="M3337 3141l34 13l18-13l-34-11" fill="#3051cf"/><path d="M2251 3163l33 5l19-18l-33-4" fill="#3152cf"/><path d="M3252 3116l33 19l18-8l-33-16" fill="#3656d1"/><path d="M3033 2944l33 25l18 28l-33-20" fill="#869fea"/><path d="M2408 3102l33-18l20-21l-34 20" fill="#4e6ad8"/><path d="M2198 3173l34 7l19-17l-33-6" fill="#2f50ce"/><path d="M2880 2869l34-5l18 45l-34 1" fill="#a8b8ee"/><path d="M2795 2864l33-24l19 42l-34 17" fill="#b0bdef"/><path d="M2532 3001l34-40l19-6l-34 38" fill="#88a1ea"/><path d="M3066 2969l34 28l18 23l-34-23" fill="#7a93e6"/><path d="M3371 3154l34 12l18-14l-34-11" fill="#2f50ce"/><path d="M3285 3135l34 17l18-11l-34-14" fill="#3454d0"/><path d="M3100 2997l33 31l18 17l-33-25" fill="#6c86e2"/><path d="M3133 3028l34 32l18 10l-34-25" fill="#5d78dd"/><path d="M2461 3063l33-30l19-18l-33 31" fill="#6a84e1"/><path d="M2284 3168l33 1l20-19l-34 0" fill="#3454d0"/><path d="M2337 3150l33-6l19-22l-33 8" fill="#3959d1"/><path d="M3167 3060l33 29l18 5l-33-24" fill="#506cd9"/><path d="M2232 3180l33 6l19-18l-33-5" fill="#3051cf"/><path d="M2585 2955l33-47l19 4l-33 42" fill="#9db0ed"/><path d="M3319 3152l34 15l18-13l-34-13" fill="#3252cf"/><path d="M2914 2864l34 4l18 45l-34-4" fill="#acbbef"/><path d="M2389 3122l33-15l19-23l-33 18" fill="#4a67d7"/><path d="M3200 3089l34 27l18 0l-34-22" fill="#4461d5"/><path d="M2742 2863l34-35l19 36l-34 28" fill="#b7c2ef"/><path d="M3234 3116l33 24l18-5l-33-19" fill="#3a59d2"/><path d="M2637 2912l34-48l19 16l-34 41" fill="#aebcef"/><path d="M2690 2880l34-44l18 27l-34 37" fill="#b7c2f0"/><path d="M2513 3015l34-42l19-12l-34 40" fill="#8ba3eb"/><path d="M3353 3167l34 13l18-14l-34-12" fill="#3051cf"/><path d="M2828 2840l34-17l18 46l-33 13" fill="#bbc1ee"/><path d="M2441 3084l34-28l19-23l-33 30" fill="#6781e0"/><path d="M2317 3169l34-2l19-23l-33 6" fill="#3757d1"/><path d="M2265 3186l33 3l19-20l-33-1" fill="#3253cf"/><path d="M2948 2868l34 13l17 44l-33-12" fill="#adbbef"/><path d="M3267 3140l34 21l18-9l-34-17" fill="#3656d1"/><path d="M2212 3197l33 7l20-18l-33-6" fill="#3051cf"/><path d="M2370 3144l33-12l19-25l-33 15" fill="#4563d5"/><path d="M3387 3180l34 11l18-14l-34-11" fill="#2f50ce"/><path d="M3301 3161l34 17l18-11l-34-15" fill="#3354d0"/><path d="M2982 2881l33 22l18 41l-34-19" fill="#a9b8ee"/><path d="M2566 2961l33-50l19-3l-33 47" fill="#a5b5ee"/><path d="M3015 2903l34 29l17 37l-33-25" fill="#a1b3ed"/><path d="M2422 3107l34-24l19-27l-34 28" fill="#617bde"/><path d="M2494 3033l34-40l19-20l-34 42" fill="#8ba3eb"/><path d="M3049 2932l33 35l18 30l-34-28" fill="#96abec"/><path d="M3149 3044l33 37l18 8l-33-29" fill="#637ddf"/><path d="M3116 3005l33 39l18 16l-34-32" fill="#7690e5"/><path d="M2298 3189l33 0l20-22l-34 2" fill="#3655d0"/><path d="M3082 2967l34 38l17 23l-33-31" fill="#89a2ea"/><path d="M3182 3081l34 33l18 2l-34-27" fill="#526dda"/><path d="M2245 3204l34 4l19-19l-33-3" fill="#3152cf"/><path d="M3335 3178l34 15l18-13l-34-13" fill="#3152cf"/><path d="M2776 2828l34-31l18 43l-33 24" fill="#c4bfe9"/><path d="M2351 3167l33-9l19-26l-33 12" fill="#3f5ed3"/><path d="M3216 3114l33 29l18-3l-33-24" fill="#4461d5"/><path d="M2862 2823l34-9l18 50l-34 5" fill="#c1bfea"/><path d="M2193 3214l33 7l19-17l-33-7" fill="#2f50ce"/><path d="M3249 3143l34 25l18-7l-34-21" fill="#3a59d2"/><path d="M2618 2908l34-54l19 10l-34 48" fill="#b9c1ee"/><path d="M3369 3193l34 13l18-15l-34-11" fill="#3051cf"/><path d="M2403 3132l34-19l19-30l-34 24" fill="#5973dc"/><path d="M2724 2836l34-43l18 35l-34 35" fill="#c6bee8"/><path d="M3283 3168l34 21l18-11l-34-17" fill="#3655d0"/><path d="M2475 3056l33-37l20-26l-34 40" fill="#88a1ea"/><path d="M2671 2864l34-51l19 23l-34 44" fill="#c3bfea"/><path d="M2279 3208l33 2l19-21l-33 0" fill="#3454d0"/><path d="M2331 3189l34-5l19-26l-33 9" fill="#3a59d2"/><path d="M2547 2973l33-51l19-11l-33 50" fill="#a8b8ee"/><path d="M2226 3221l33 6l20-19l-34-4" fill="#3051cf"/><path d="M2896 2814l34 3l18 51l-34-4" fill="#c5bee9"/><path d="M3317 3189l33 16l19-12l-34-15" fill="#3353cf"/><path d="M2384 3158l33-14l20-31l-34 19" fill="#506cd9"/><path d="M2456 3083l33-33l19-31l-33 37" fill="#8099e8"/><path d="M2810 2797l34-23l18 49l-34 17" fill="#cdb8e2"/><path d="M3198 3109l33 35l18-1l-33-29" fill="#506cd9"/><path d="M3164 3068l34 41l18 5l-34-33" fill="#637ddf"/><path d="M3350 3205l34 15l19-14l-34-13" fill="#3151cf"/><path d="M3231 3144l34 30l18-6l-34-25" fill="#415fd4"/><path d="M2930 2817l34 14l18 50l-34-13" fill="#c5bee9"/><path d="M3131 3024l33 44l18 13l-33-37" fill="#7a94e6"/><path d="M2312 3210l33-1l20-25l-34 5" fill="#3757d1"/><path d="M2259 3227l34 4l19-21l-33-2" fill="#3253cf"/><path d="M2599 2911l34-57l19 0l-34 54" fill="#bfc0eb"/><path d="M3098 2977l33 47l18 20l-33-39" fill="#90a6eb"/><path d="M2528 2993l33-50l19-21l-33 51" fill="#a8b8ee"/><path d="M3265 3174l33 24l19-9l-34-21" fill="#3858d1"/><path d="M2207 3238l33 7l19-18l-33-6" fill="#3050cf"/><path d="M2365 3184l33-10l19-30l-33 14" fill="#4764d6"/><path d="M3065 2931l33 46l18 28l-34-38" fill="#a1b3ed"/><path d="M2964 2831l34 24l17 48l-33-22" fill="#c2bfea"/><path d="M2437 3113l33-28l19-35l-33 33" fill="#748ee4"/><path d="M3384 3220l34 12l19-15l-34-11" fill="#3050ce"/><path d="M3031 2890l34 41l17 36l-33-35" fill="#b2bfef"/><path d="M2998 2855l33 35l18 42l-34-29" fill="#bcc1ed"/><path d="M3298 3198l34 19l18-12l-33-16" fill="#3454d0"/><path d="M2758 2793l34-36l18 40l-34 31" fill="#d3b3dd"/><path d="M2293 3231l33 2l19-24l-33 1" fill="#3555d0"/><path d="M2652 2854l34-55l19 14l-34 51" fill="#ccb9e3"/><path d="M2240 3245l33 6l20-20l-34-4" fill="#3151cf"/><path d="M2417 3144l34-22l19-37l-33 28" fill="#6681e0"/><path d="M2345 3209l34-5l19-30l-33 10" fill="#3e5dd3"/><path d="M3332 3217l34 16l18-13l-34-15" fill="#3252cf"/><path d="M2508 3019l34-47l19-29l-33 50" fill="#a4b5ee"/><path d="M2844 2774l34-11l18 51l-34 9" fill="#d4b2dc"/><path d="M2705 2813l34-48l19 28l-34 43" fill="#d3b3dd"/><path d="M3213 3144l34 35l18-5l-34-30" fill="#4a67d7"/><path d="M3180 3103l33 41l18 0l-33-35" fill="#5d78dd"/><path d="M2580 2922l34-57l19-11l-34 57" fill="#c2bfea"/><path d="M3247 3179l33 28l18-9l-33-24" fill="#3c5bd2"/><path d="M3146 3054l34 49l18 6l-34-41" fill="#7690e5"/><path d="M3366 3233l34 13l18-14l-34-12" fill="#3051cf"/><path d="M2398 3174l34-15l19-37l-34 22" fill="#5873dc"/><path d="M2489 3050l34-42l19-36l-34 47" fill="#9cafed"/><path d="M2273 3251l34 4l19-22l-33-2" fill="#3353cf"/><path d="M3280 3207l34 22l18-12l-34-19" fill="#3656d1"/><path d="M2326 3233l34-1l19-28l-34 5" fill="#3958d1"/><path d="M3113 3002l33 52l18 14l-33-44" fill="#90a6eb"/><path d="M2220 3263l34 7l19-19l-33-6" fill="#3051cf"/><path d="M2878 2763l34 1l18 53l-34-3" fill="#d8afd8"/><path d="M3314 3229l34 18l18-14l-34-16" fill="#3353d0"/><path d="M2379 3204l33-10l20-35l-34 15" fill="#4c68d8"/><path d="M2470 3085l34-35l19-42l-34 42" fill="#91a7eb"/><path d="M3080 2947l33 55l18 22l-33-47" fill="#a5b6ee"/><path d="M2792 2757l34-27l18 44l-34 23" fill="#e1a4ca"/><path d="M2561 2943l34-56l19-22l-34 57" fill="#c2bfea"/><path d="M2633 2854l34-58l19 3l-34 55" fill="#d2b4de"/><path d="M2307 3255l33 2l20-25l-34 1" fill="#3655d0"/><path d="M2451 3122l33-28l20-44l-34 35" fill="#839ce9"/><path d="M3348 3247l34 14l18-15l-34-13" fill="#3151cf"/><path d="M2254 3270l33 6l20-21l-34-4" fill="#3152cf"/><path d="M3047 2894l33 53l18 30l-33-46" fill="#b9c1ee"/><path d="M3195 3144l33 40l19-5l-34-35" fill="#536fda"/><path d="M3228 3184l34 32l18-9l-33-28" fill="#4260d4"/><path d="M2912 2764l34 15l18 52l-34-14" fill="#d9aed8"/><path d="M2360 3232l33-5l19-33l-33 10" fill="#415fd4"/><path d="M3162 3096l33 48l18 0l-33-41" fill="#6c86e2"/><path d="M2201 3280l33 8l20-18l-34-7" fill="#2f50ce"/><path d="M3262 3216l34 25l18-12l-34-22" fill="#3858d1"/><path d="M3013 2846l34 48l18 37l-34-41" fill="#c5bee8"/><path d="M2432 3159l33-21l19-44l-33 28" fill="#708ae3"/><path d="M2739 2765l34-41l19 33l-34 36" fill="#e69fc3"/><path d="M2686 2799l35-52l18 18l-34 48" fill="#e0a6cc"/><path d="M2946 2779l34 28l18 48l-34-24" fill="#d5b2dc"/><path d="M2980 2807l33 39l18 44l-33-35" fill="#ceb7e1"/><path d="M3382 3261l34 12l18-15l-34-12" fill="#2f50ce"/><path d="M2542 2972l34-53l19-32l-34 56" fill="#bec0ec"/><path d="M3128 3041l34 55l18 7l-34-49" fill="#89a2ea"/><path d="M3296 3241l34 19l18-13l-34-18" fill="#3454d0"/><path d="M2412 3194l34-14l19-42l-33 21" fill="#5e78dd"/><path d="M2287 3276l34 4l19-23l-33-2" fill="#3353d0"/><path d="M2340 3257l34 0l19-30l-33 5" fill="#3958d1"/><path d="M2234 3288l34 7l19-19l-33-6" fill="#3051cf"/><path d="M3330 3260l34 16l18-15l-34-14" fill="#3152cf"/><path d="M2826 2730l34-14l18 47l-34 11" fill="#ec97b9"/><path d="M3095 2981l33 60l18 13l-33-52" fill="#a1b3ed"/><path d="M2523 3008l34-47l19-42l-34 53" fill="#b8c1ef"/><path d="M2614 2865l34-59l19-10l-34 58" fill="#d6b1db"/><path d="M2393 3227l34-8l19-39l-34 14" fill="#4e6ad8"/><path d="M3210 3190l34 35l18-9l-34-32" fill="#4865d6"/><path d="M3177 3146l33 44l18-6l-33-40" fill="#5d78dd"/><path d="M3244 3225l34 28l18-12l-34-25" fill="#3a59d2"/><path d="M2504 3050l33-41l20-48l-34 47" fill="#acbbef"/><path d="M3364 3276l34 13l18-16l-34-12" fill="#3051cf"/><path d="M2321 3280l33 3l20-26l-34 0" fill="#3655d0"/><path d="M2268 3295l33 7l20-22l-34-4" fill="#3152cf"/><path d="M3062 2918l33 63l18 21l-33-55" fill="#b9c1ee"/><path d="M3144 3092l33 54l18-2l-33-48" fill="#7a93e6"/><path d="M2484 3094l34-33l19-52l-33 41" fill="#9cafed"/><path d="M3278 3253l33 21l19-14l-34-19" fill="#3555d0"/><path d="M2374 3257l33-3l20-35l-34 8" fill="#415fd4"/><path d="M2215 3305l33 8l20-18l-34-7" fill="#2f50ce"/><path d="M2465 3138l34-25l19-52l-34 33" fill="#8aa2ea"/><path d="M2860 2716l34 1l18 47l-34-1" fill="#f090b0"/><path d="M2667 2796l35-54l19 5l-35 52" fill="#ea9abd"/><path d="M2773 2724l35-29l18 35l-34 27" fill="#f38ba9"/><path d="M3311 3274l35 16l18-14l-34-16" fill="#3252cf"/><path d="M2595 2887l34-58l19-23l-34 59" fill="#d5b1db"/><path d="M2446 3180l34-17l19-50l-34 25" fill="#748de4"/><path d="M3110 3031l34 61l18 4l-34-55" fill="#96abec"/><path d="M3029 2858l33 60l18 29l-33-53" fill="#c8bce6"/><path d="M2301 3302l34 5l19-24l-33-3" fill="#3353cf"/><path d="M2427 3219l33-10l20-46l-34 17" fill="#5e78dd"/><path d="M2721 2747l34-44l18 21l-34 41" fill="#f28caa"/><path d="M2354 3283l34 2l19-31l-33 3" fill="#3958d1"/><path d="M3192 3198l33 38l19-11l-34-35" fill="#4d6ad8"/><path d="M3225 3236l34 30l19-13l-34-28" fill="#3d5cd3"/><path d="M2248 3313l34 8l19-19l-33-7" fill="#3051cf"/><path d="M3346 3290l34 14l18-15l-34-13" fill="#3051cf"/><path d="M3158 3150l34 48l18-8l-33-44" fill="#6580e0"/><path d="M2894 2717l34 15l18 47l-34-15" fill="#f090b0"/><path d="M2996 2805l33 53l18 36l-34-48" fill="#d5b2dc"/><path d="M3259 3266l34 22l18-14l-33-21" fill="#3656d1"/><path d="M2576 2919l34-54l19-36l-34 58" fill="#d2b4de"/><path d="M2407 3254l34-4l19-41l-33 10" fill="#4c68d8"/><path d="M3077 2964l33 67l18 10l-33-60" fill="#b2bfef"/><path d="M2962 2762l34 43l17 41l-33-39" fill="#e3a2c8"/><path d="M2928 2732l34 30l18 45l-34-28" fill="#ed96b8"/><path d="M3125 3093l33 57l19-4l-33-54" fill="#869fea"/><path d="M3293 3288l34 17l19-15l-35-16" fill="#3353cf"/><path d="M2335 3307l34 4l19-26l-34-2" fill="#3555d0"/><path d="M2557 2961l34-50l19-46l-34 54" fill="#cbbae4"/><path d="M2282 3321l33 7l20-21l-34-5" fill="#3151cf"/><path d="M2388 3285l34 0l19-35l-34 4" fill="#3e5dd3"/><path d="M2648 2806l35-55l19-9l-35 54" fill="#ee94b5"/><path d="M2537 3009l34-43l20-55l-34 50" fill="#c1bfea"/><path d="M2808 2695l34-15l18 36l-34 14" fill="#fa7c97"/><path d="M2518 3061l34-36l19-59l-34 43" fill="#b5c1f0"/><path d="M2499 3113l34-27l19-61l-34 36" fill="#9fb2ed"/><path d="M2480 3163l33-19l20-58l-34 27" fill="#8aa2ea"/><path d="M3044 2895l33 69l18 17l-33-63" fill="#c5bee8"/><path d="M3327 3305l34 14l19-15l-34-14" fill="#3051cf"/><path d="M3207 3249l34 31l18-14l-34-30" fill="#3f5ed3"/><path d="M3173 3209l34 40l18-13l-33-38" fill="#516dd9"/><path d="M2460 3209l34-12l19-53l-33 19" fill="#708ae3"/><path d="M3092 3026l33 67l19-1l-34-61" fill="#a1b3ed"/><path d="M3241 3280l34 23l18-15l-34-22" fill="#3757d1"/><path d="M3140 3159l33 50l19-11l-34-48" fill="#6b86e2"/><path d="M2441 3250l34-6l19-47l-34 12" fill="#5873dc"/><path d="M2369 3311l33 4l20-30l-34 0" fill="#3757d1"/><path d="M2315 3328l34 6l20-23l-34-4" fill="#3253cf"/><path d="M2702 2742l34-45l19 6l-34 44" fill="#f97e99"/><path d="M2755 2703l34-30l19 22l-35 29" fill="#fb7391"/><path d="M3361 3319l35 12l18-16l-34-11" fill="#2f50ce"/><path d="M3275 3303l34 18l18-16l-34-17" fill="#3353d0"/><path d="M2262 3339l34 8l19-19l-33-7" fill="#3050cf"/><path d="M2422 3285l33-1l20-40l-34 6" fill="#4764d6"/><path d="M3011 2830l33 65l18 23l-33-60" fill="#d5b2dc"/><path d="M3107 3099l33 60l18-9l-33-57" fill="#8ca4eb"/><path d="M2629 2829l34-54l20-24l-35 55" fill="#ee94b5"/><path d="M2842 2680l34 0l18 37l-34-1" fill="#fc718f"/><path d="M3059 2954l33 72l18 5l-33-67" fill="#bcc1ed"/><path d="M3309 3321l34 14l18-16l-34-14" fill="#3151cf"/><path d="M3188 3264l34 31l19-15l-34-31" fill="#415fd4"/><path d="M3155 3224l33 40l19-15l-34-40" fill="#536eda"/><path d="M2349 3334l34 6l19-25l-33-4" fill="#3454d0"/><path d="M2402 3315l34 2l19-33l-33 1" fill="#3a59d2"/><path d="M3222 3295l34 24l19-16l-34-23" fill="#3757d1"/><path d="M2296 3347l34 8l19-21l-34-6" fill="#3051cf"/><path d="M2494 3197l34-12l19-60l-34 19" fill="#839ce9"/><path d="M2475 3244l33-6l20-53l-34 12" fill="#6681e0"/><path d="M2513 3144l34-19l20-66l-34 27" fill="#9cafed"/><path d="M2977 2772l34 58l18 28l-33-53" fill="#e99cbf"/><path d="M3121 3173l34 51l18-15l-33-50" fill="#6f89e3"/><path d="M2610 2865l34-52l19-38l-34 54" fill="#e99bbe"/><path d="M3074 3029l33 70l18-6l-33-67" fill="#a9b8ee"/><path d="M2876 2680l34 15l18 37l-34-15" fill="#fc718f"/><path d="M2533 3086l34-27l19-69l-34 35" fill="#b5c1f0"/><path d="M3343 3335l34 12l19-16l-35-12" fill="#2f50ce"/><path d="M3256 3319l34 18l19-16l-34-18" fill="#3353d0"/><path d="M2455 3284l34-1l19-45l-33 6" fill="#506cd9"/><path d="M2552 3025l34-35l19-66l-34 42" fill="#c5bee9"/><path d="M2591 2911l34-48l19-50l-34 52" fill="#dea8cf"/><path d="M2944 2727l33 45l19 33l-34-43" fill="#f488a6"/><path d="M3026 2881l33 73l18 10l-33-69" fill="#ceb7e1"/><path d="M2910 2695l34 32l18 35l-34-30" fill="#fa7a96"/><path d="M2571 2966l34-42l20-61l-34 48" fill="#d1b5df"/><path d="M2683 2751l34-45l19-9l-34 45" fill="#fb7592"/><path d="M2383 3340l33 6l20-29l-34-2" fill="#3655d0"/><path d="M3088 3111l33 62l19-14l-33-60" fill="#8fa6eb"/><path d="M2330 3355l33 7l20-22l-34-6" fill="#3152cf"/><path d="M2789 2673l34-16l19 23l-34 15" fill="#fe5e81"/><path d="M2436 3317l34 3l19-37l-34 1" fill="#3f5ed3"/><path d="M3290 3337l35 14l18-16l-34-14" fill="#3151cf"/><path d="M3170 3281l34 31l18-17l-34-31" fill="#405fd4"/><path d="M3136 3242l34 39l18-17l-33-40" fill="#536eda"/><path d="M2276 3365l34 9l20-19l-34-8" fill="#2f50ce"/><path d="M3204 3312l34 23l18-16l-34-24" fill="#3757d1"/><path d="M2736 2697l34-31l19 7l-34 30" fill="#fe6082"/><path d="M3103 3192l33 50l19-18l-34-51" fill="#6e88e2"/><path d="M3041 2954l33 75l18-3l-33-72" fill="#c2bfea"/><path d="M2508 3238l34-5l20-58l-34 10" fill="#748ee4"/><path d="M2528 3185l34-10l19-67l-34 17" fill="#91a7eb"/><path d="M2489 3283l34 0l19-50l-34 5" fill="#5973dc"/><path d="M3325 3351l34 12l18-16l-34-12" fill="#2f50ce"/><path d="M3238 3335l34 18l18-16l-34-18" fill="#3353d0"/><path d="M2416 3346l34 5l20-31l-34-3" fill="#3757d1"/><path d="M2363 3362l34 7l19-23l-33-6" fill="#3253cf"/><path d="M2993 2811l33 70l18 14l-33-65" fill="#e3a2c8"/><path d="M3055 3041l33 70l19-12l-33-70" fill="#adbbef"/><path d="M2547 3125l34-17l20-73l-34 24" fill="#acbbef"/><path d="M2663 2775l35-45l19-24l-34 45" fill="#fb7693"/><path d="M2310 3374l34 8l19-20l-33-7" fill="#3051cf"/><path d="M2470 3320l33 3l20-40l-34 0" fill="#4563d5"/><path d="M3069 3131l34 61l18-19l-33-62" fill="#8fa6eb"/><path d="M2823 2657l35 0l18 23l-34 0" fill="#ff5179"/><path d="M3117 3263l34 38l19-20l-34-39" fill="#516dd9"/><path d="M3151 3301l34 29l19-18l-34-31" fill="#3f5dd3"/><path d="M3272 3353l34 14l19-16l-35-14" fill="#3151cf"/><path d="M2567 3059l34-24l19-75l-34 30" fill="#c1bfea"/><path d="M3185 3330l34 23l19-18l-34-23" fill="#3757d1"/><path d="M3084 3216l33 47l19-21l-33-50" fill="#6b85e1"/><path d="M2397 3369l34 7l19-25l-34-5" fill="#3454d0"/><path d="M3007 2877l34 77l18 0l-33-73" fill="#d5b2dc"/><path d="M2959 2751l34 60l18 19l-34-58" fill="#f488a6"/><path d="M2450 3351l34 5l19-33l-33-3" fill="#3959d1"/><path d="M2542 3233l34-2l20-63l-34 7" fill="#8099e8"/><path d="M2523 3283l34 1l19-53l-34 2" fill="#617bde"/><path d="M2644 2813l34-44l20-39l-35 45" fill="#f9809b"/><path d="M2586 2990l34-30l20-72l-35 36" fill="#d1b5df"/><path d="M2344 3382l34 8l19-21l-34-7" fill="#3051cf"/><path d="M3306 3367l34 13l19-17l-34-12" fill="#2f50ce"/><path d="M3219 3353l34 17l19-17l-34-18" fill="#3353d0"/><path d="M3022 2964l33 77l19-12l-33-75" fill="#c5bee9"/><path d="M2562 3175l34-7l19-71l-34 11" fill="#9cafed"/><path d="M2717 2706l34-31l19-9l-34 31" fill="#ff557b"/><path d="M2858 2657l34 16l18 22l-34-15" fill="#ff5078"/><path d="M3036 3062l33 69l19-20l-33-70" fill="#acbbef"/><path d="M2503 3323l34 5l20-44l-34-1" fill="#4a67d7"/><path d="M2605 2924l35-36l19-65l-34 40" fill="#e3a2c7"/><path d="M2770 2666l35-15l18 6l-34 16" fill="#ff4472"/><path d="M2625 2863l34-40l19-54l-34 44" fill="#f18ead"/><path d="M3050 3158l34 58l19-24l-34-61" fill="#8ba3eb"/><path d="M2925 2704l34 47l18 21l-33-45" fill="#fc708e"/><path d="M3099 3287l33 35l19-21l-34-38" fill="#4d69d8"/><path d="M2892 2673l33 31l19 23l-34-32" fill="#fe5c7f"/><path d="M3132 3322l34 28l19-20l-34-29" fill="#3c5bd2"/><path d="M2581 3108l34-11l20-78l-34 16" fill="#b8c1ef"/><path d="M3253 3370l35 14l18-17l-34-14" fill="#3151cf"/><path d="M3065 3243l34 44l18-24l-33-47" fill="#647fdf"/><path d="M2431 3376l34 8l19-28l-34-5" fill="#3555d0"/><path d="M2484 3356l34 7l19-35l-34-5" fill="#3b5ad2"/><path d="M3166 3350l34 21l19-18l-34-23" fill="#3656d1"/><path d="M2378 3390l33 8l20-22l-34-7" fill="#3152cf"/><path d="M2557 3284l34 5l19-56l-34-2" fill="#6781e0"/><path d="M2974 2806l33 71l19 4l-33-70" fill="#ed96b8"/><path d="M2576 3231l34 2l20-66l-34 1" fill="#88a1ea"/><path d="M2537 3328l34 6l20-45l-34-5" fill="#4e6ad8"/><path d="M2324 3400l34 9l20-19l-34-8" fill="#2f50ce"/><path d="M3031 3190l34 53l19-27l-34-58" fill="#849de9"/><path d="M3017 3092l33 66l19-27l-33-69" fill="#a8b8ee"/><path d="M2601 3035l34-16l19-80l-34 21" fill="#cbbae4"/><path d="M3200 3371l35 16l18-17l-34-17" fill="#3353cf"/><path d="M3288 3384l34 12l18-16l-34-13" fill="#2f50ce"/><path d="M3003 2987l33 75l19-21l-33-77" fill="#c5bee9"/><path d="M2698 2730l34-31l19-24l-34 31" fill="#ff567b"/><path d="M2596 3168l34-1l19-75l-34 5" fill="#a4b5ee"/><path d="M2989 2887l33 77l19-10l-34-77" fill="#d9aed8"/><path d="M3080 3314l34 31l18-23l-33-35" fill="#4765d6"/><path d="M2805 2651l34 1l19 5l-35 0" fill="#ff326b"/><path d="M2465 3384l34 7l19-28l-34-7" fill="#3655d0"/><path d="M3046 3274l34 40l19-27l-34-44" fill="#5c77dd"/><path d="M3114 3345l34 25l18-20l-34-28" fill="#3a59d2"/><path d="M2518 3363l34 7l19-36l-34-6" fill="#3d5cd3"/><path d="M2411 3398l34 9l20-23l-34-8" fill="#3252cf"/><path d="M2591 3289l34 7l19-56l-34-7" fill="#6a84e1"/><path d="M2620 2960l34-21l20-77l-34 26" fill="#dea8cf"/><path d="M3235 3387l34 14l19-17l-35-14" fill="#3051cf"/><path d="M2751 2675l35-15l19-9l-35 15" fill="#ff346c"/><path d="M3012 3227l34 47l19-31l-34-53" fill="#7892e5"/><path d="M2998 3129l33 61l19-32l-33-66" fill="#a0b2ed"/><path d="M2941 2744l33 62l19 5l-34-60" fill="#fa7a96"/><path d="M2358 3409l34 9l19-20l-33-8" fill="#3050ce"/><path d="M2610 3233l34 7l20-67l-34-6" fill="#8ba3eb"/><path d="M3148 3370l34 19l18-18l-34-21" fill="#3555d0"/><path d="M2571 3334l34 8l20-46l-34-7" fill="#506cd9"/><path d="M2615 3097l34-5l20-81l-34 8" fill="#bec0ec"/><path d="M2678 2769l35-30l19-40l-34 31" fill="#fe6283"/><path d="M2984 3020l33 72l19-30l-33-75" fill="#c1bfea"/><path d="M2640 2888l34-26l19-68l-34 29" fill="#f18ead"/><path d="M2839 2652l34 15l19 6l-34-16" fill="#ff306b"/><path d="M2499 3391l34 8l19-29l-34-7" fill="#3656d1"/><path d="M2659 2823l34-29l20-55l-35 30" fill="#fb7793"/><path d="M3027 3306l34 35l19-27l-34-40" fill="#526eda"/><path d="M2630 3167l34 6l19-77l-34-4" fill="#a8b8ee"/><path d="M3061 3341l34 27l19-23l-34-31" fill="#415fd4"/><path d="M2552 3370l34 9l19-37l-34-8" fill="#3e5dd3"/><path d="M3182 3389l34 16l19-18l-35-16" fill="#3252cf"/><path d="M2445 3407l34 8l20-24l-34-7" fill="#3253cf"/><path d="M2907 2697l34 47l18 7l-34-47" fill="#fe5c7f"/><path d="M2979 3172l33 55l19-37l-33-61" fill="#94aaec"/><path d="M3269 3401l34 12l19-17l-34-12" fill="#2f50ce"/><path d="M2993 3265l34 41l19-32l-34-47" fill="#6a84e1"/><path d="M2625 3296l34 11l19-56l-34-11" fill="#6a85e1"/><path d="M2955 2815l34 72l18-10l-33-71" fill="#f090b0"/><path d="M2970 2911l33 76l19-23l-33-77" fill="#d8afd8"/><path d="M2873 2667l34 30l18 7l-33-31" fill="#ff4170"/><path d="M3095 3368l34 22l19-20l-34-25" fill="#3858d1"/><path d="M2635 3019l34-8l19-83l-34 11" fill="#d2b4de"/><path d="M2644 3240l34 11l20-66l-34-12" fill="#8ba3eb"/><path d="M2392 3418l34 9l19-20l-34-9" fill="#3051cf"/><path d="M2605 3342l34 10l20-45l-34-11" fill="#506cd9"/><path d="M2964 3062l34 67l19-37l-33-72" fill="#bbc1ee"/><path d="M2959 3217l34 48l19-38l-33-55" fill="#87a0ea"/><path d="M2649 3092l34 4l20-82l-34-3" fill="#c2bfea"/><path d="M3216 3405l34 13l19-17l-34-14" fill="#3051cf"/><path d="M2732 2699l34-15l20-24l-35 15" fill="#ff356c"/><path d="M3129 3390l34 18l19-19l-34-19" fill="#3454d0"/><path d="M2786 2660l34 2l19-10l-34-1" fill="#ff2166"/><path d="M2533 3399l33 9l20-29l-34-9" fill="#3756d1"/><path d="M2664 3173l34 12l19-76l-34-13" fill="#a8b8ee"/><path d="M3008 3338l34 30l19-27l-34-35" fill="#4966d7"/><path d="M2974 3303l34 35l19-32l-34-41" fill="#5b76dd"/><path d="M2586 3379l34 10l19-37l-34-10" fill="#3f5dd3"/><path d="M2659 3307l34 14l19-54l-34-16" fill="#6782e0"/><path d="M2479 3415l34 9l20-25l-34-8" fill="#3353cf"/><path d="M2945 3112l34 60l19-43l-34-67" fill="#b0bdef"/><path d="M2678 3251l34 16l20-63l-34-19" fill="#88a1ea"/><path d="M3042 3368l34 23l19-23l-34-27" fill="#3b5ad2"/><path d="M2654 2939l34-11l20-79l-34 13" fill="#e99bbe"/><path d="M2940 3263l34 40l19-38l-34-48" fill="#748de4"/><path d="M2950 2947l34 73l19-33l-33-76" fill="#d4b2dc"/><path d="M2639 3352l34 13l20-44l-34-14" fill="#4e6bd8"/><path d="M2426 3427l34 9l19-21l-34-8" fill="#3051cf"/><path d="M2926 3165l33 52l20-45l-34-60" fill="#9fb1ed"/><path d="M2922 2753l33 62l19-9l-33-62" fill="#fc718f"/><path d="M3163 3408l34 14l19-17l-34-16" fill="#3152cf"/><path d="M2698 3185l34 19l19-73l-34-22" fill="#a5b5ee"/><path d="M3076 3391l34 20l19-21l-34-22" fill="#3656d0"/><path d="M2906 3219l34 44l19-46l-33-52" fill="#8da4eb"/><path d="M2693 3321l34 17l19-50l-34-21" fill="#627cdf"/><path d="M2712 3267l34 21l20-60l-34-24" fill="#819ae8"/><path d="M2936 2839l34 72l19-24l-34-72" fill="#f090b0"/><path d="M2713 2739l34-16l19-39l-34 15" fill="#ff4773"/><path d="M2683 3096l34 13l20-81l-34-14" fill="#c2bfea"/><path d="M2669 3011l34 3l19-85l-34-1" fill="#d5b1db"/><path d="M2921 3307l34 33l19-37l-34-40" fill="#607bde"/><path d="M2955 3340l34 29l19-31l-34-35" fill="#4e6ad8"/><path d="M2820 2662l34 14l19-9l-34-15" fill="#ff2066"/><path d="M2674 2862l34-13l20-70l-35 15" fill="#f9809b"/><path d="M2566 3408l35 10l19-29l-34-10" fill="#3756d1"/><path d="M2620 3389l34 11l19-35l-34-13" fill="#3d5cd3"/><path d="M2931 2994l33 68l20-42l-34-73" fill="#cdb8e2"/><path d="M2887 3271l34 36l19-44l-34-44" fill="#7790e5"/><path d="M2989 3369l34 25l19-26l-34-30" fill="#405ed4"/><path d="M2673 3365l34 14l20-41l-34-17" fill="#4b67d7"/><path d="M2732 3204l34 24l19-68l-34-29" fill="#9db0ed"/><path d="M2513 3424l34 9l19-25l-33-9" fill="#3353d0"/><path d="M2693 2794l35-15l19-56l-34 16" fill="#fe6283"/><path d="M2746 3288l34 23l20-54l-34-29" fill="#768fe5"/><path d="M2888 2706l34 47l19-9l-34-47" fill="#ff5078"/><path d="M2912 3050l33 62l19-50l-33-68" fill="#c4bfe9"/><path d="M2853 3232l34 39l19-52l-34-46" fill="#8da4eb"/><path d="M2872 3173l34 46l20-54l-34-54" fill="#a2b4ed"/><path d="M3110 3411l34 16l19-19l-34-18" fill="#3353cf"/><path d="M2766 3228l34 29l19-62l-34-35" fill="#93a8eb"/><path d="M2727 3338l34 18l19-45l-34-23" fill="#5a75dc"/><path d="M2892 3111l34 54l19-53l-33-62" fill="#b7c2ef"/><path d="M3197 3422l35 13l18-17l-34-13" fill="#3050cf"/><path d="M2854 2676l34 30l19-9l-34-30" fill="#ff306b"/><path d="M2800 3257l34 30l19-55l-34-37" fill="#869fea"/><path d="M2834 3287l33 31l20-47l-34-39" fill="#738de4"/><path d="M2766 2684l35 1l19-23l-34-2" fill="#ff2267"/><path d="M2460 3436l34 9l19-21l-34-9" fill="#3051cf"/><path d="M2867 3318l34 29l20-40l-34-36" fill="#607bde"/><path d="M2780 3311l34 24l20-48l-34-30" fill="#6883e1"/><path d="M2717 3109l34 22l20-79l-34-24" fill="#bfc0eb"/><path d="M3023 3394l34 20l19-23l-34-23" fill="#3857d1"/><path d="M2819 3195l34 37l19-59l-33-45" fill="#9eb1ed"/><path d="M2901 3347l34 27l20-34l-34-33" fill="#506cd9"/><path d="M2814 3335l34 25l19-42l-33-31" fill="#5a75dc"/><path d="M2785 3160l34 35l20-67l-34-41" fill="#aebcef"/><path d="M2751 3131l34 29l20-73l-34-35" fill="#b9c1ee"/><path d="M2917 2878l33 69l20-36l-34-72" fill="#ec97b9"/><path d="M2654 3400l34 12l19-33l-34-14" fill="#3b5ad2"/><path d="M2935 3374l35 24l19-29l-34-29" fill="#4260d4"/><path d="M2688 2928l34 1l20-80l-34 0" fill="#ee94b5"/><path d="M2707 3379l34 15l20-38l-34-18" fill="#4663d6"/><path d="M2761 3356l34 20l19-41l-34-24" fill="#516dd9"/><path d="M2839 3128l33 45l20-62l-34-53" fill="#b7c2f0"/><path d="M2703 3014l34 14l20-84l-35-15" fill="#d6b1db"/><path d="M2601 3418l34 11l19-29l-34-11" fill="#3656d1"/><path d="M2903 2778l33 61l19-24l-33-62" fill="#fc718f"/><path d="M2848 3360l34 23l19-36l-34-29" fill="#4d6ad8"/><path d="M3057 3414l34 17l19-20l-34-20" fill="#3454d0"/><path d="M3144 3427l35 13l18-18l-34-14" fill="#3151cf"/><path d="M2547 3433l34 10l20-25l-35-10" fill="#3353d0"/><path d="M2858 3058l34 53l20-61l-34-60" fill="#c6bee8"/><path d="M2970 3398l34 20l19-24l-34-25" fill="#3959d1"/><path d="M2897 2929l34 65l19-47l-33-69" fill="#e1a4ca"/><path d="M2795 3376l34 20l19-36l-34-25" fill="#4865d6"/><path d="M2805 3087l34 41l19-70l-34-47" fill="#c3bfea"/><path d="M2878 2990l34 60l19-56l-34-65" fill="#d3b3dd"/><path d="M2882 3383l34 22l19-31l-34-27" fill="#4260d4"/><path d="M2747 2723l34 0l20-38l-35-1" fill="#ff356c"/><path d="M2737 3028l34 24l20-80l-34-28" fill="#d2b4de"/><path d="M2494 3445l34 9l19-21l-34-9" fill="#3151cf"/><path d="M2801 2685l34 15l19-24l-34-14" fill="#ff2166"/><path d="M2741 3394l34 16l20-34l-34-20" fill="#405ed4"/><path d="M2708 2849l34 0l20-70l-34 0" fill="#fb7693"/><path d="M2771 3052l34 35l19-76l-33-39" fill="#ccb9e3"/><path d="M2688 3412l34 14l19-32l-34-15" fill="#3959d2"/><path d="M3091 3431l34 14l19-18l-34-16" fill="#3252cf"/><path d="M2728 2779l34 0l19-56l-34 0" fill="#ff567b"/><path d="M2869 2731l34 47l19-25l-34-47" fill="#ff5179"/><path d="M3004 3418l34 18l19-22l-34-20" fill="#3555d0"/><path d="M2635 3429l34 11l19-28l-34-12" fill="#3656d0"/><path d="M2829 3396l34 19l19-32l-34-23" fill="#3f5ed3"/><path d="M2722 2929l35 15l19-79l-34-16" fill="#ee94b5"/><path d="M2916 3405l35 19l19-26l-35-24" fill="#3a59d2"/><path d="M2440 3454l34 10l20-19l-34-9" fill="#2f50ce"/><path d="M3179 3440l34 12l19-17l-35-13" fill="#2f50ce"/><path d="M2824 3011l34 47l20-68l-34-53" fill="#d3b3dd"/><path d="M2835 2700l34 31l19-25l-34-30" fill="#ff326b"/><path d="M2883 2817l34 61l19-39l-33-61" fill="#fa7c97"/><path d="M2581 3443l34 10l20-24l-34-11" fill="#3353cf"/><path d="M2775 3410l35 16l19-30l-34-20" fill="#3b5ad2"/><path d="M2844 2937l34 53l19-61l-33-57" fill="#e69fc3"/><path d="M2791 2972l33 39l20-74l-34-42" fill="#e0a6cc"/><path d="M2757 2944l34 28l19-77l-34-30" fill="#ea9abd"/><path d="M2864 2872l33 57l20-51l-34-61" fill="#f38ba9"/><path d="M2863 3415l34 17l19-27l-34-22" fill="#3958d1"/><path d="M2722 3426l34 13l19-29l-34-16" fill="#3857d1"/><path d="M2528 3454l34 10l19-21l-34-10" fill="#3151cf"/><path d="M2951 3424l34 17l19-23l-34-20" fill="#3656d0"/><path d="M2781 2723l34 16l20-39l-34-15" fill="#ff346c"/><path d="M3038 3436l34 15l19-20l-34-17" fill="#3353cf"/><path d="M2742 2849l34 16l20-70l-34-16" fill="#fb7592"/><path d="M3125 3445l35 13l19-18l-35-13" fill="#3051cf"/><path d="M2669 3440l34 12l19-26l-34-14" fill="#3555d0"/><path d="M2849 2771l34 46l20-39l-34-47" fill="#fe5e81"/><path d="M2762 2779l34 16l19-56l-34-16" fill="#ff557b"/><path d="M2810 3426l34 16l19-27l-34-19" fill="#3857d1"/><path d="M2815 2739l34 32l20-40l-34-31" fill="#ff4472"/><path d="M2474 3464l34 9l20-19l-34-9" fill="#2f50ce"/><path d="M2810 2895l34 42l20-65l-34-46" fill="#f28caa"/><path d="M2776 2865l34 30l20-69l-34-31" fill="#f97e99"/><path d="M2615 3453l34 10l20-23l-34-11" fill="#3253cf"/><path d="M2897 3432l34 16l20-24l-35-19" fill="#3656d0"/><path d="M2830 2826l34 46l19-55l-34-46" fill="#fb7391"/><path d="M2985 3441l34 15l19-20l-34-18" fill="#3353d0"/><path d="M2756 3439l34 14l20-27l-35-16" fill="#3656d0"/><path d="M2796 2795l34 31l19-55l-34-32" fill="#fe6082"/><path d="M3072 3451l35 12l18-18l-34-14" fill="#3151cf"/><path d="M2562 3464l34 10l19-21l-34-10" fill="#3051cf"/><path d="M2844 3442l34 15l19-25l-34-17" fill="#3555d0"/><path d="M2703 3452l34 11l19-24l-34-13" fill="#3454d0"/><path d="M2931 3448l35 15l19-22l-34-17" fill="#3354d0"/><path d="M2508 3473l34 10l20-19l-34-10" fill="#2f50ce"/><path d="M3019 3456l34 14l19-19l-34-15" fill="#3152cf"/><path d="M2649 3463l35 11l19-22l-34-12" fill="#3252cf"/><path d="M2790 3453l35 13l19-24l-34-16" fill="#3454d0"/><path d="M3107 3463l34 12l19-17l-35-13" fill="#2f50ce"/><path d="M2878 3457l34 13l19-22l-34-16" fill="#3353d0"/><path d="M2596 3474l34 10l19-21l-34-10" fill="#3051cf"/><path d="M2737 3463l34 12l19-22l-34-14" fill="#3353cf"/><path d="M2966 3463l34 13l19-20l-34-15" fill="#3152cf"/><path d="M3053 3470l35 11l19-18l-35-12" fill="#3051cf"/><path d="M2825 3466l34 12l19-21l-34-15" fill="#3253cf"/><path d="M2542 3483l34 9l20-18l-34-10" fill="#2f50ce"/><path d="M2684 3474l34 11l19-22l-34-11" fill="#3152cf"/><path d="M2912 3470l35 13l19-20l-35-15" fill="#3152cf"/><path d="M2771 3475l34 12l20-21l-35-13" fill="#3152cf"/><path d="M2630 3484l34 10l20-20l-35-11" fill="#3051cf"/><path d="M3000 3476l34 12l19-18l-34-14" fill="#3051cf"/><path d="M2859 3478l34 12l19-20l-34-13" fill="#3152cf"/><path d="M2718 3485l34 10l19-20l-34-12" fill="#3151cf"/><path d="M2947 3483l34 12l19-19l-34-13" fill="#3051cf"/><path d="M2805 3487l35 11l19-20l-34-12" fill="#3151cf"/><path d="M3034 3488l35 11l19-18l-35-11" fill="#2f50ce"/><path d="M2664 3494l34 10l20-19l-34-11" fill="#3050cf"/><path d="M2893 3490l35 12l19-19l-35-13" fill="#3051cf"/><path d="M2752 3495l34 11l19-19l-34-12" fill="#3051cf"/><path d="M2981 3495l35 11l18-18l-34-12" fill="#2f50ce"/><path d="M2840 3498l34 11l19-19l-34-12" fill="#3051cf"/><path d="M2698 3504l35 10l19-19l-34-10" fill="#2f50ce"/><path d="M2928 3502l34 11l19-18l-34-12" fill="#2f50ce"/><path d="M2786 3506l35 11l19-19l-35-11" fill="#2f50ce"/></g></g>
<defs><radialGradient id="glow"><stop offset="0" stop-color="#fff"/><stop offset="0.62" stop-color="#fff"/><stop offset="1" stop-color="#fff" stop-opacity="0"/></radialGradient></defs>
<ellipse cx="263" cy="231.8" rx="18.5" ry="10.2" fill="url(#glow)"/>
<g fill="#0a1238"><path transform="translate(251.2,226.8) rotate(-10) scale(1.22)" d="M-1.7 .7L-.3-.2L.2-1.7L.8-.1L1.8 .5L.5 .7L-.2 1.5L-.6 .6Z" fill-opacity="1"/><path transform="translate(255.7,225.6) rotate(10) scale(1.10)" d="M-1.7 .7L-.3-.2L.2-1.7L.8-.1L1.8 .5L.5 .7L-.2 1.5L-.6 .6Z" fill-opacity="1"/><path transform="translate(258.4,223.7) rotate(20) scale(1.10)" d="M-1.7 .7L-.3-.2L.2-1.7L.8-.1L1.8 .5L.5 .7L-.2 1.5L-.6 .6Z" fill-opacity="1"/><path transform="translate(263.4,222.7) rotate(15) scale(1.10)" d="M-1.7 .7L-.3-.2L.2-1.7L.8-.1L1.8 .5L.5 .7L-.2 1.5L-.6 .6Z" fill-opacity="1"/><path transform="translate(270.6,221.8) rotate(0) scale(0.73)" d="M-1.7 .7L-.3-.2L.2-1.7L.8-.1L1.8 .5L.5 .7L-.2 1.5L-.6 .6Z" fill-opacity="0.5"/><path transform="translate(274.4,223) rotate(10) scale(0.73)" d="M-1.7 .7L-.3-.2L.2-1.7L.8-.1L1.8 .5L.5 .7L-.2 1.5L-.6 .6Z" fill-opacity="0.45"/><path transform="translate(248.9,234.4) rotate(30) scale(1.28)" d="M-1.7 .7L-.3-.2L.2-1.7L.8-.1L1.8 .5L.5 .7L-.2 1.5L-.6 .6Z" fill-opacity="1"/><path transform="translate(253.8,236.3) rotate(-15) scale(1.22)" d="M-1.7 .7L-.3-.2L.2-1.7L.8-.1L1.8 .5L.5 .7L-.2 1.5L-.6 .6Z" fill-opacity="1"/><path transform="translate(259.4,233.3) rotate(-5) scale(1.77)" d="M-1.7 .7L-.3-.2L.2-1.7L.8-.1L1.8 .5L.5 .7L-.2 1.5L-.6 .6Z" fill-opacity="1"/><path transform="translate(259.2,239.8) rotate(35) scale(1.16)" d="M-1.7 .7L-.3-.2L.2-1.7L.8-.1L1.8 .5L.5 .7L-.2 1.5L-.6 .6Z" fill-opacity="1"/><path transform="translate(264.1,239) rotate(-20) scale(1.34)" d="M-1.7 .7L-.3-.2L.2-1.7L.8-.1L1.8 .5L.5 .7L-.2 1.5L-.6 .6Z" fill-opacity="1"/><path transform="translate(268.7,236.3) rotate(25) scale(1.40)" d="M-1.7 .7L-.3-.2L.2-1.7L.8-.1L1.8 .5L.5 .7L-.2 1.5L-.6 .6Z" fill-opacity="1"/><path transform="translate(271.4,240.5) rotate(40) scale(1.28)" d="M-1.7 .7L-.3-.2L.2-1.7L.8-.1L1.8 .5L.5 .7L-.2 1.5L-.6 .6Z" fill-opacity="1"/><path transform="translate(275.2,235.9) rotate(0) scale(1.16)" d="M-1.7 .7L-.3-.2L.2-1.7L.8-.1L1.8 .5L.5 .7L-.2 1.5L-.6 .6Z" fill-opacity="0.6"/><path transform="translate(278.6,235.9) rotate(10) scale(0.85)" d="M-1.7 .7L-.3-.2L.2-1.7L.8-.1L1.8 .5L.5 .7L-.2 1.5L-.6 .6Z" fill-opacity="0.4"/></g>
<circle cx="23.7" cy="129.5" r="4.3" fill="#1f70c4" stroke="#1b62ac" stroke-width="0.6"/>
<path d="M171.8 198.9L176 193.2L180.6 187.4L185 187L185 189.2L178 194.4Z" fill="#e6252d"/>
<circle cx="184.7" cy="190.5" r="4.3" fill="#000"/>
<circle cx="438.5" cy="253.9" r="4.2" fill="#ffff00" stroke="#8a8a20" stroke-width="0.7"/>
<g font-family="'Liberation Serif','DejaVu Serif',serif" font-weight="bold" font-size="19.8" fill="#000" stroke="#000" stroke-width="0.3" text-anchor="middle">
<text transform="translate(38.8,134.7) scale(1.17,1)">U</text>
<text transform="translate(187.4,184.3) scale(1.17,1)">M</text>
<text transform="translate(247.9,215.8) scale(1.13,1)">B</text>
<text transform="translate(443.6,242) scale(1.15,1)">R</text>
</g>

<g stroke="#222" stroke-width="1" fill="none"><line x1="19.7" y1="308.6" x2="309.2" y2="390.9" /><line x1="309.2" y1="390.9" x2="462.2" y2="253.9" /><line x1="462.2" y1="253.9" x2="472.8" y2="66.9" /><line x1="27.8" y1="308.2" x2="22.6" y2="312"/><line x1="309.4" y1="387" x2="315.6" y2="388.8"/><line x1="80.9" y1="323.3" x2="75.8" y2="327.2"/><line x1="340.9" y1="358.9" x2="347.1" y2="360.6"/><line x1="135.2" y1="338.7" x2="130.1" y2="342.7"/><line x1="371.3" y1="331.7" x2="377.5" y2="333.3"/><line x1="190.6" y1="354.5" x2="185.7" y2="358.5"/><line x1="400.6" y1="305.4" x2="406.8" y2="307.1"/><line x1="247.4" y1="370.6" x2="242.5" y2="374.7"/><line x1="428.9" y1="280.1" x2="435.1" y2="281.7"/><line x1="305.4" y1="387" x2="300.7" y2="391.3"/><line x1="456.3" y1="255.6" x2="462.5" y2="257.2"/><line x1="459.3" y1="249.5" x2="465.5" y2="251.1"/><line x1="461.3" y1="214.9" x2="467.5" y2="216.4"/><line x1="463.2" y1="179.7" x2="469.5" y2="181.2"/><line x1="465.3" y1="143.8" x2="471.5" y2="145.3"/><line x1="467.3" y1="107.3" x2="473.6" y2="108.7"/><line x1="469.5" y1="70.1" x2="475.7" y2="71.5"/></g>
<g font-family="'DejaVu Sans','Liberation Sans',sans-serif" font-size="14.7" fill="#111"><text x="17.6" y="334.9" text-anchor="middle">0</text><text x="70.7" y="349.9" text-anchor="middle">10</text><text x="125.5" y="365.9" text-anchor="middle">20</text><text x="180.7" y="381.9" text-anchor="middle">30</text><text x="237.8" y="397.9" text-anchor="middle">40</text><text x="296" y="414.4" text-anchor="middle">50</text><text x="325.7" y="410.9" text-anchor="middle">0</text><text x="356.8" y="381.3" text-anchor="middle">10</text><text x="387.5" y="354.5" text-anchor="middle">20</text><text x="416.6" y="327.7" text-anchor="middle">30</text><text x="444.9" y="302.2" text-anchor="middle">40</text><text x="472.6" y="276.9" text-anchor="middle">50</text><text x="481" y="257.7" text-anchor="middle">0.0</text><text x="483.3" y="223.6" text-anchor="middle">0.2</text><text x="485.3" y="188.7" text-anchor="middle">0.4</text><text x="486.6" y="152.7" text-anchor="middle">0.6</text><text x="489" y="115.3" text-anchor="middle">0.8</text><text x="492" y="78.5" text-anchor="middle">1.0</text><text x="136.8" y="398.8" text-anchor="middle">X/km</text><text x="429.3" y="359.1" text-anchor="middle">Y/km</text><text x="527.5" y="159.9" text-anchor="middle">Z/km</text></g>
</svg>
</body></html>
